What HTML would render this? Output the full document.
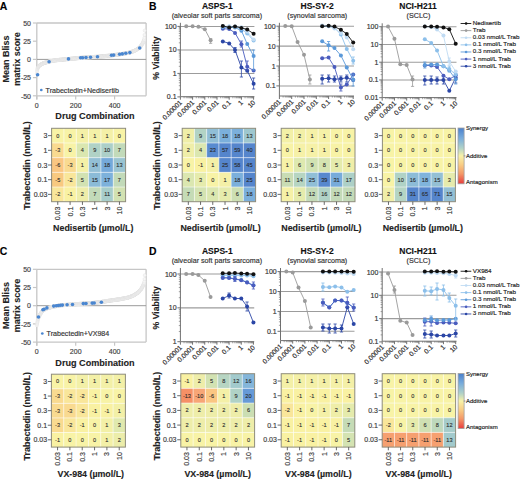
<!DOCTYPE html>
<html><head><meta charset="utf-8"><title>Figure</title>
<style>html,body{margin:0;padding:0;background:#fff;}body{width:520px;height:481px;overflow:hidden;font-family:"Liberation Sans", sans-serif;}svg{display:block;}</style></head>
<body>
<svg width="520" height="481" viewBox="0 0 520 481" font-family='"Liberation Sans", sans-serif'>
<rect x="0" y="0" width="520" height="481" fill="#ffffff" stroke="none" stroke-width="1"/>
<text x="-0.2" y="9.5" font-size="10.4" text-anchor="start" fill="#000" font-weight="bold" stroke="#000" stroke-width="0.12">A</text>
<text x="148.9" y="10" font-size="10.4" text-anchor="start" fill="#000" font-weight="bold" stroke="#000" stroke-width="0.12">B</text>
<text x="-0.2" y="254.7" font-size="10.4" text-anchor="start" fill="#000" font-weight="bold" stroke="#000" stroke-width="0.12">C</text>
<text x="148.9" y="255.2" font-size="10.4" text-anchor="start" fill="#000" font-weight="bold" stroke="#000" stroke-width="0.12">D</text>
<text x="217.3" y="9.2" font-size="8.5" text-anchor="middle" fill="#111" font-weight="bold" stroke="#111" stroke-width="0.12">ASPS-1</text>
<text x="216.9" y="17.8" font-size="7.15" text-anchor="middle" fill="#333" stroke="#333" stroke-width="0.16">(alveolar soft parts sarcoma)</text>
<text x="317.1" y="9.2" font-size="8.5" text-anchor="middle" fill="#111" font-weight="bold" stroke="#111" stroke-width="0.12">HS-SY-2</text>
<text x="317.3" y="17.8" font-size="7.15" text-anchor="middle" fill="#333" stroke="#333" stroke-width="0.16">(synovial sarcoma)</text>
<text x="418" y="9.2" font-size="8.5" text-anchor="middle" fill="#111" font-weight="bold" stroke="#111" stroke-width="0.12">NCI-H211</text>
<text x="418.5" y="17.8" font-size="7.15" text-anchor="middle" fill="#333" stroke="#333" stroke-width="0.16">(SCLC)</text>
<text x="217.3" y="254.2" font-size="8.5" text-anchor="middle" fill="#111" font-weight="bold" stroke="#111" stroke-width="0.12">ASPS-1</text>
<text x="216.9" y="262.8" font-size="7.15" text-anchor="middle" fill="#333" stroke="#333" stroke-width="0.16">(alveolar soft parts sarcoma)</text>
<text x="317.1" y="254.2" font-size="8.5" text-anchor="middle" fill="#111" font-weight="bold" stroke="#111" stroke-width="0.12">HS-SY-2</text>
<text x="317.3" y="262.8" font-size="7.15" text-anchor="middle" fill="#333" stroke="#333" stroke-width="0.16">(synovial sarcoma)</text>
<text x="418" y="254.2" font-size="8.5" text-anchor="middle" fill="#111" font-weight="bold" stroke="#111" stroke-width="0.12">NCI-H211</text>
<text x="418.5" y="262.8" font-size="7.15" text-anchor="middle" fill="#333" stroke="#333" stroke-width="0.16">(SCLC)</text>
<text x="9.4" y="58.9" font-size="9" text-anchor="middle" fill="#222" font-weight="bold" transform="rotate(-90 9.4 58.9)" stroke="#222" stroke-width="0.12">Mean Bliss</text>
<text x="20.3" y="58.9" font-size="9" text-anchor="middle" fill="#222" font-weight="bold" transform="rotate(-90 20.3 58.9)" stroke="#222" stroke-width="0.12">matrix score</text>
<text x="9.3" y="305.4" font-size="9" text-anchor="middle" fill="#222" font-weight="bold" transform="rotate(-90 9.3 305.4)" stroke="#222" stroke-width="0.12">Mean Bliss</text>
<text x="20.2" y="305.4" font-size="9" text-anchor="middle" fill="#222" font-weight="bold" transform="rotate(-90 20.2 305.4)" stroke="#222" stroke-width="0.12">matrix score</text>
<text x="158.9" y="58" font-size="8.7" text-anchor="middle" fill="#222" font-weight="bold" transform="rotate(-90 158.9 58)" stroke="#222" stroke-width="0.12">% Viability</text>
<text x="158.9" y="307.8" font-size="8.7" text-anchor="middle" fill="#222" font-weight="bold" transform="rotate(-90 158.9 307.8)" stroke="#222" stroke-width="0.12">% Viability</text>
<text x="95" y="119.4" font-size="9.1" text-anchor="middle" fill="#222" font-weight="bold" stroke="#222" stroke-width="0.12">Drug Combination</text>
<text x="95" y="366" font-size="9.1" text-anchor="middle" fill="#222" font-weight="bold" stroke="#222" stroke-width="0.12">Drug Combination</text>
<line x1="146.1" y1="23" x2="146.1" y2="95.8" stroke="#c6c6c6" stroke-width="1.3"/>
<line x1="36.8" y1="23" x2="146.1" y2="23" stroke="#c6c6c6" stroke-width="1.3"/>
<line x1="36.8" y1="23" x2="36.8" y2="99.4" stroke="#c6c6c6" stroke-width="1.3"/>
<line x1="36.8" y1="95.8" x2="146.1" y2="95.8" stroke="#c6c6c6" stroke-width="1.3"/>
<line x1="36.8" y1="59.4" x2="146.1" y2="59.4" stroke="#9a9a9a" stroke-width="1"/>
<line x1="32.9" y1="23" x2="36.8" y2="23" stroke="#c6c6c6" stroke-width="1.2"/>
<text x="31" y="25.75" font-size="7" text-anchor="end" fill="#444" stroke="#444" stroke-width="0.16">50</text>
<line x1="32.9" y1="41.2" x2="36.8" y2="41.2" stroke="#c6c6c6" stroke-width="1.2"/>
<text x="31" y="43.95" font-size="7" text-anchor="end" fill="#444" stroke="#444" stroke-width="0.16">25</text>
<line x1="32.9" y1="59.4" x2="36.8" y2="59.4" stroke="#c6c6c6" stroke-width="1.2"/>
<text x="31" y="62.15" font-size="7" text-anchor="end" fill="#444" stroke="#444" stroke-width="0.16">0</text>
<line x1="32.9" y1="77.6" x2="36.8" y2="77.6" stroke="#c6c6c6" stroke-width="1.2"/>
<text x="31" y="80.35" font-size="7" text-anchor="end" fill="#444" stroke="#444" stroke-width="0.16">-25</text>
<line x1="32.9" y1="95.8" x2="36.8" y2="95.8" stroke="#c6c6c6" stroke-width="1.2"/>
<text x="31" y="98.55" font-size="7" text-anchor="end" fill="#444" stroke="#444" stroke-width="0.16">-50</text>
<line x1="36.8" y1="95.8" x2="36.8" y2="99.4" stroke="#c6c6c6" stroke-width="1.2"/>
<text x="36.8" y="107.7" font-size="7" text-anchor="middle" fill="#444" stroke="#444" stroke-width="0.16">0</text>
<line x1="75.7" y1="95.8" x2="75.7" y2="99.4" stroke="#c6c6c6" stroke-width="1.2"/>
<text x="75.7" y="107.7" font-size="7" text-anchor="middle" fill="#444" stroke="#444" stroke-width="0.16">200</text>
<line x1="114.6" y1="95.8" x2="114.6" y2="99.4" stroke="#c6c6c6" stroke-width="1.2"/>
<text x="114.6" y="107.7" font-size="7" text-anchor="middle" fill="#444" stroke="#444" stroke-width="0.16">400</text>
<g fill="#f6f6f6" stroke="#dedede" stroke-width="0.4">
<circle cx="36.9" cy="73.5" r="1.55"/>
<circle cx="37.1" cy="71.14" r="1.55"/>
<circle cx="37.29" cy="69.77" r="1.55"/>
<circle cx="37.49" cy="68.84" r="1.55"/>
<circle cx="37.68" cy="68.14" r="1.55"/>
<circle cx="37.88" cy="67.77" r="1.55"/>
<circle cx="38.07" cy="67.4" r="1.55"/>
<circle cx="38.27" cy="67.04" r="1.55"/>
<circle cx="38.47" cy="66.67" r="1.55"/>
<circle cx="38.66" cy="66.44" r="1.55"/>
<circle cx="38.86" cy="66.24" r="1.55"/>
<circle cx="39.05" cy="66.05" r="1.55"/>
<circle cx="39.25" cy="65.85" r="1.55"/>
<circle cx="39.44" cy="65.66" r="1.55"/>
<circle cx="39.64" cy="65.46" r="1.55"/>
<circle cx="39.83" cy="65.27" r="1.55"/>
<circle cx="40.03" cy="65.08" r="1.55"/>
<circle cx="40.23" cy="64.96" r="1.55"/>
<circle cx="40.42" cy="64.85" r="1.55"/>
<circle cx="40.62" cy="64.73" r="1.55"/>
<circle cx="40.81" cy="64.61" r="1.55"/>
<circle cx="41.01" cy="64.49" r="1.55"/>
<circle cx="41.2" cy="64.38" r="1.55"/>
<circle cx="41.4" cy="64.26" r="1.55"/>
<circle cx="41.6" cy="64.14" r="1.55"/>
<circle cx="41.79" cy="64.03" r="1.55"/>
<circle cx="41.99" cy="63.91" r="1.55"/>
<circle cx="42.18" cy="63.83" r="1.55"/>
<circle cx="42.38" cy="63.75" r="1.55"/>
<circle cx="42.57" cy="63.67" r="1.55"/>
<circle cx="42.77" cy="63.59" r="1.55"/>
<circle cx="42.96" cy="63.51" r="1.55"/>
<circle cx="43.16" cy="63.44" r="1.55"/>
<circle cx="43.36" cy="63.36" r="1.55"/>
<circle cx="43.55" cy="63.28" r="1.55"/>
<circle cx="43.75" cy="63.2" r="1.55"/>
<circle cx="43.94" cy="63.12" r="1.55"/>
<circle cx="44.14" cy="63.04" r="1.55"/>
<circle cx="44.33" cy="62.97" r="1.55"/>
<circle cx="44.53" cy="62.89" r="1.55"/>
<circle cx="44.73" cy="62.81" r="1.55"/>
<circle cx="44.92" cy="62.73" r="1.55"/>
<circle cx="45.12" cy="62.67" r="1.55"/>
<circle cx="45.31" cy="62.62" r="1.55"/>
<circle cx="45.51" cy="62.56" r="1.55"/>
<circle cx="45.7" cy="62.51" r="1.55"/>
<circle cx="45.9" cy="62.46" r="1.55"/>
<circle cx="46.1" cy="62.41" r="1.55"/>
<circle cx="46.29" cy="62.36" r="1.55"/>
<circle cx="46.49" cy="62.3" r="1.55"/>
<circle cx="46.68" cy="62.25" r="1.55"/>
<circle cx="46.88" cy="62.2" r="1.55"/>
<circle cx="47.07" cy="62.15" r="1.55"/>
<circle cx="47.27" cy="62.09" r="1.55"/>
<circle cx="47.46" cy="62.04" r="1.55"/>
<circle cx="47.66" cy="61.99" r="1.55"/>
<circle cx="47.86" cy="61.94" r="1.55"/>
<circle cx="48.05" cy="61.88" r="1.55"/>
<circle cx="48.25" cy="61.83" r="1.55"/>
<circle cx="48.44" cy="61.77" r="1.55"/>
<circle cx="48.64" cy="61.71" r="1.55"/>
<circle cx="48.83" cy="61.65" r="1.55"/>
<circle cx="49.03" cy="61.59" r="1.55"/>
<circle cx="49.23" cy="61.53" r="1.55"/>
<circle cx="49.42" cy="61.47" r="1.55"/>
<circle cx="49.62" cy="61.41" r="1.55"/>
<circle cx="49.81" cy="61.36" r="1.55"/>
<circle cx="50.01" cy="61.3" r="1.55"/>
<circle cx="50.2" cy="61.26" r="1.55"/>
<circle cx="50.4" cy="61.23" r="1.55"/>
<circle cx="50.6" cy="61.19" r="1.55"/>
<circle cx="50.79" cy="61.16" r="1.55"/>
<circle cx="50.99" cy="61.12" r="1.55"/>
<circle cx="51.18" cy="61.09" r="1.55"/>
<circle cx="51.38" cy="61.05" r="1.55"/>
<circle cx="51.57" cy="61.02" r="1.55"/>
<circle cx="51.77" cy="60.98" r="1.55"/>
<circle cx="51.96" cy="60.95" r="1.55"/>
<circle cx="52.16" cy="60.91" r="1.55"/>
<circle cx="52.36" cy="60.88" r="1.55"/>
<circle cx="52.55" cy="60.84" r="1.55"/>
<circle cx="52.75" cy="60.81" r="1.55"/>
<circle cx="52.94" cy="60.77" r="1.55"/>
<circle cx="53.14" cy="60.74" r="1.55"/>
<circle cx="53.33" cy="60.7" r="1.55"/>
<circle cx="53.53" cy="60.66" r="1.55"/>
<circle cx="53.73" cy="60.63" r="1.55"/>
<circle cx="53.92" cy="60.59" r="1.55"/>
<circle cx="54.12" cy="60.56" r="1.55"/>
<circle cx="54.31" cy="60.52" r="1.55"/>
<circle cx="54.51" cy="60.49" r="1.55"/>
<circle cx="54.7" cy="60.45" r="1.55"/>
<circle cx="54.9" cy="60.42" r="1.55"/>
<circle cx="55.09" cy="60.39" r="1.55"/>
<circle cx="55.29" cy="60.37" r="1.55"/>
<circle cx="55.49" cy="60.34" r="1.55"/>
<circle cx="55.68" cy="60.32" r="1.55"/>
<circle cx="55.88" cy="60.29" r="1.55"/>
<circle cx="56.07" cy="60.27" r="1.55"/>
<circle cx="56.27" cy="60.25" r="1.55"/>
<circle cx="56.46" cy="60.22" r="1.55"/>
<circle cx="56.66" cy="60.2" r="1.55"/>
<circle cx="56.86" cy="60.18" r="1.55"/>
<circle cx="57.05" cy="60.15" r="1.55"/>
<circle cx="57.25" cy="60.13" r="1.55"/>
<circle cx="57.44" cy="60.11" r="1.55"/>
<circle cx="57.64" cy="60.08" r="1.55"/>
<circle cx="57.83" cy="60.06" r="1.55"/>
<circle cx="58.03" cy="60.04" r="1.55"/>
<circle cx="58.23" cy="60.01" r="1.55"/>
<circle cx="58.42" cy="59.99" r="1.55"/>
<circle cx="58.62" cy="59.97" r="1.55"/>
<circle cx="58.81" cy="59.94" r="1.55"/>
<circle cx="59.01" cy="59.92" r="1.55"/>
<circle cx="59.2" cy="59.9" r="1.55"/>
<circle cx="59.4" cy="59.87" r="1.55"/>
<circle cx="59.59" cy="59.85" r="1.55"/>
<circle cx="59.79" cy="59.83" r="1.55"/>
<circle cx="59.99" cy="59.8" r="1.55"/>
<circle cx="60.18" cy="59.78" r="1.55"/>
<circle cx="60.38" cy="59.77" r="1.55"/>
<circle cx="60.57" cy="59.75" r="1.55"/>
<circle cx="60.77" cy="59.73" r="1.55"/>
<circle cx="60.96" cy="59.71" r="1.55"/>
<circle cx="61.16" cy="59.7" r="1.55"/>
<circle cx="61.36" cy="59.68" r="1.55"/>
<circle cx="61.55" cy="59.66" r="1.55"/>
<circle cx="61.75" cy="59.64" r="1.55"/>
<circle cx="61.94" cy="59.63" r="1.55"/>
<circle cx="62.14" cy="59.61" r="1.55"/>
<circle cx="62.33" cy="59.59" r="1.55"/>
<circle cx="62.53" cy="59.57" r="1.55"/>
<circle cx="62.73" cy="59.55" r="1.55"/>
<circle cx="62.92" cy="59.54" r="1.55"/>
<circle cx="63.12" cy="59.52" r="1.55"/>
<circle cx="63.31" cy="59.5" r="1.55"/>
<circle cx="63.51" cy="59.48" r="1.55"/>
<circle cx="63.7" cy="59.47" r="1.55"/>
<circle cx="63.9" cy="59.45" r="1.55"/>
<circle cx="64.09" cy="59.43" r="1.55"/>
<circle cx="64.29" cy="59.41" r="1.55"/>
<circle cx="64.49" cy="59.4" r="1.55"/>
<circle cx="64.68" cy="59.38" r="1.55"/>
<circle cx="64.88" cy="59.36" r="1.55"/>
<circle cx="65.07" cy="59.34" r="1.55"/>
<circle cx="65.27" cy="59.33" r="1.55"/>
<circle cx="65.46" cy="59.31" r="1.55"/>
<circle cx="65.66" cy="59.29" r="1.55"/>
<circle cx="65.86" cy="59.27" r="1.55"/>
<circle cx="66.05" cy="59.26" r="1.55"/>
<circle cx="66.25" cy="59.24" r="1.55"/>
<circle cx="66.44" cy="59.22" r="1.55"/>
<circle cx="66.64" cy="59.2" r="1.55"/>
<circle cx="66.83" cy="59.18" r="1.55"/>
<circle cx="67.03" cy="59.17" r="1.55"/>
<circle cx="67.22" cy="59.15" r="1.55"/>
<circle cx="67.42" cy="59.13" r="1.55"/>
<circle cx="67.62" cy="59.11" r="1.55"/>
<circle cx="67.81" cy="59.1" r="1.55"/>
<circle cx="68.01" cy="59.08" r="1.55"/>
<circle cx="68.2" cy="59.06" r="1.55"/>
<circle cx="68.4" cy="59.04" r="1.55"/>
<circle cx="68.59" cy="59.03" r="1.55"/>
<circle cx="68.79" cy="59.01" r="1.55"/>
<circle cx="68.99" cy="58.99" r="1.55"/>
<circle cx="69.18" cy="58.97" r="1.55"/>
<circle cx="69.38" cy="58.96" r="1.55"/>
<circle cx="69.57" cy="58.94" r="1.55"/>
<circle cx="69.77" cy="58.92" r="1.55"/>
<circle cx="69.96" cy="58.9" r="1.55"/>
<circle cx="70.16" cy="58.88" r="1.55"/>
<circle cx="70.36" cy="58.86" r="1.55"/>
<circle cx="70.55" cy="58.84" r="1.55"/>
<circle cx="70.75" cy="58.83" r="1.55"/>
<circle cx="70.94" cy="58.81" r="1.55"/>
<circle cx="71.14" cy="58.79" r="1.55"/>
<circle cx="71.33" cy="58.77" r="1.55"/>
<circle cx="71.53" cy="58.75" r="1.55"/>
<circle cx="71.72" cy="58.73" r="1.55"/>
<circle cx="71.92" cy="58.71" r="1.55"/>
<circle cx="72.12" cy="58.69" r="1.55"/>
<circle cx="72.31" cy="58.67" r="1.55"/>
<circle cx="72.51" cy="58.65" r="1.55"/>
<circle cx="72.7" cy="58.63" r="1.55"/>
<circle cx="72.9" cy="58.61" r="1.55"/>
<circle cx="73.09" cy="58.59" r="1.55"/>
<circle cx="73.29" cy="58.57" r="1.55"/>
<circle cx="73.49" cy="58.55" r="1.55"/>
<circle cx="73.68" cy="58.53" r="1.55"/>
<circle cx="73.88" cy="58.51" r="1.55"/>
<circle cx="74.07" cy="58.49" r="1.55"/>
<circle cx="74.27" cy="58.47" r="1.55"/>
<circle cx="74.46" cy="58.45" r="1.55"/>
<circle cx="74.66" cy="58.43" r="1.55"/>
<circle cx="74.85" cy="58.41" r="1.55"/>
<circle cx="75.05" cy="58.39" r="1.55"/>
<circle cx="75.25" cy="58.38" r="1.55"/>
<circle cx="75.44" cy="58.36" r="1.55"/>
<circle cx="75.64" cy="58.34" r="1.55"/>
<circle cx="75.83" cy="58.32" r="1.55"/>
<circle cx="76.03" cy="58.3" r="1.55"/>
<circle cx="76.22" cy="58.28" r="1.55"/>
<circle cx="76.42" cy="58.26" r="1.55"/>
<circle cx="76.62" cy="58.24" r="1.55"/>
<circle cx="76.81" cy="58.22" r="1.55"/>
<circle cx="77.01" cy="58.2" r="1.55"/>
<circle cx="77.2" cy="58.18" r="1.55"/>
<circle cx="77.4" cy="58.16" r="1.55"/>
<circle cx="77.59" cy="58.14" r="1.55"/>
<circle cx="77.79" cy="58.12" r="1.55"/>
<circle cx="77.99" cy="58.1" r="1.55"/>
<circle cx="78.18" cy="58.08" r="1.55"/>
<circle cx="78.38" cy="58.06" r="1.55"/>
<circle cx="78.57" cy="58.04" r="1.55"/>
<circle cx="78.77" cy="58.02" r="1.55"/>
<circle cx="78.96" cy="58" r="1.55"/>
<circle cx="79.16" cy="57.98" r="1.55"/>
<circle cx="79.35" cy="57.96" r="1.55"/>
<circle cx="79.55" cy="57.94" r="1.55"/>
<circle cx="79.75" cy="57.93" r="1.55"/>
<circle cx="79.94" cy="57.91" r="1.55"/>
<circle cx="80.14" cy="57.89" r="1.55"/>
<circle cx="80.33" cy="57.88" r="1.55"/>
<circle cx="80.53" cy="57.86" r="1.55"/>
<circle cx="80.72" cy="57.85" r="1.55"/>
<circle cx="80.92" cy="57.84" r="1.55"/>
<circle cx="81.12" cy="57.82" r="1.55"/>
<circle cx="81.31" cy="57.81" r="1.55"/>
<circle cx="81.51" cy="57.79" r="1.55"/>
<circle cx="81.7" cy="57.78" r="1.55"/>
<circle cx="81.9" cy="57.77" r="1.55"/>
<circle cx="82.09" cy="57.75" r="1.55"/>
<circle cx="82.29" cy="57.74" r="1.55"/>
<circle cx="82.49" cy="57.73" r="1.55"/>
<circle cx="82.68" cy="57.71" r="1.55"/>
<circle cx="82.88" cy="57.7" r="1.55"/>
<circle cx="83.07" cy="57.68" r="1.55"/>
<circle cx="83.27" cy="57.67" r="1.55"/>
<circle cx="83.46" cy="57.66" r="1.55"/>
<circle cx="83.66" cy="57.64" r="1.55"/>
<circle cx="83.85" cy="57.63" r="1.55"/>
<circle cx="84.05" cy="57.62" r="1.55"/>
<circle cx="84.25" cy="57.6" r="1.55"/>
<circle cx="84.44" cy="57.59" r="1.55"/>
<circle cx="84.64" cy="57.58" r="1.55"/>
<circle cx="84.83" cy="57.56" r="1.55"/>
<circle cx="85.03" cy="57.55" r="1.55"/>
<circle cx="85.22" cy="57.53" r="1.55"/>
<circle cx="85.42" cy="57.52" r="1.55"/>
<circle cx="85.62" cy="57.51" r="1.55"/>
<circle cx="85.81" cy="57.49" r="1.55"/>
<circle cx="86.01" cy="57.48" r="1.55"/>
<circle cx="86.2" cy="57.47" r="1.55"/>
<circle cx="86.4" cy="57.45" r="1.55"/>
<circle cx="86.59" cy="57.44" r="1.55"/>
<circle cx="86.79" cy="57.42" r="1.55"/>
<circle cx="86.98" cy="57.41" r="1.55"/>
<circle cx="87.18" cy="57.4" r="1.55"/>
<circle cx="87.38" cy="57.38" r="1.55"/>
<circle cx="87.57" cy="57.37" r="1.55"/>
<circle cx="87.77" cy="57.36" r="1.55"/>
<circle cx="87.96" cy="57.34" r="1.55"/>
<circle cx="88.16" cy="57.33" r="1.55"/>
<circle cx="88.35" cy="57.32" r="1.55"/>
<circle cx="88.55" cy="57.3" r="1.55"/>
<circle cx="88.75" cy="57.29" r="1.55"/>
<circle cx="88.94" cy="57.27" r="1.55"/>
<circle cx="89.14" cy="57.26" r="1.55"/>
<circle cx="89.33" cy="57.25" r="1.55"/>
<circle cx="89.53" cy="57.23" r="1.55"/>
<circle cx="89.72" cy="57.22" r="1.55"/>
<circle cx="89.92" cy="57.21" r="1.55"/>
<circle cx="90.12" cy="57.19" r="1.55"/>
<circle cx="90.31" cy="57.18" r="1.55"/>
<circle cx="90.51" cy="57.17" r="1.55"/>
<circle cx="90.7" cy="57.16" r="1.55"/>
<circle cx="90.9" cy="57.15" r="1.55"/>
<circle cx="91.09" cy="57.13" r="1.55"/>
<circle cx="91.29" cy="57.12" r="1.55"/>
<circle cx="91.48" cy="57.11" r="1.55"/>
<circle cx="91.68" cy="57.1" r="1.55"/>
<circle cx="91.88" cy="57.09" r="1.55"/>
<circle cx="92.07" cy="57.08" r="1.55"/>
<circle cx="92.27" cy="57.06" r="1.55"/>
<circle cx="92.46" cy="57.05" r="1.55"/>
<circle cx="92.66" cy="57.04" r="1.55"/>
<circle cx="92.85" cy="57.03" r="1.55"/>
<circle cx="93.05" cy="57.02" r="1.55"/>
<circle cx="93.25" cy="57.01" r="1.55"/>
<circle cx="93.44" cy="56.99" r="1.55"/>
<circle cx="93.64" cy="56.98" r="1.55"/>
<circle cx="93.83" cy="56.97" r="1.55"/>
<circle cx="94.03" cy="56.96" r="1.55"/>
<circle cx="94.22" cy="56.95" r="1.55"/>
<circle cx="94.42" cy="56.93" r="1.55"/>
<circle cx="94.62" cy="56.92" r="1.55"/>
<circle cx="94.81" cy="56.91" r="1.55"/>
<circle cx="95.01" cy="56.9" r="1.55"/>
<circle cx="95.2" cy="56.89" r="1.55"/>
<circle cx="95.4" cy="56.88" r="1.55"/>
<circle cx="95.59" cy="56.86" r="1.55"/>
<circle cx="95.79" cy="56.85" r="1.55"/>
<circle cx="95.98" cy="56.84" r="1.55"/>
<circle cx="96.18" cy="56.83" r="1.55"/>
<circle cx="96.38" cy="56.82" r="1.55"/>
<circle cx="96.57" cy="56.81" r="1.55"/>
<circle cx="96.77" cy="56.79" r="1.55"/>
<circle cx="96.96" cy="56.78" r="1.55"/>
<circle cx="97.16" cy="56.77" r="1.55"/>
<circle cx="97.35" cy="56.76" r="1.55"/>
<circle cx="97.55" cy="56.75" r="1.55"/>
<circle cx="97.75" cy="56.74" r="1.55"/>
<circle cx="97.94" cy="56.72" r="1.55"/>
<circle cx="98.14" cy="56.71" r="1.55"/>
<circle cx="98.33" cy="56.7" r="1.55"/>
<circle cx="98.53" cy="56.69" r="1.55"/>
<circle cx="98.72" cy="56.68" r="1.55"/>
<circle cx="98.92" cy="56.66" r="1.55"/>
<circle cx="99.11" cy="56.65" r="1.55"/>
<circle cx="99.31" cy="56.64" r="1.55"/>
<circle cx="99.51" cy="56.63" r="1.55"/>
<circle cx="99.7" cy="56.62" r="1.55"/>
<circle cx="99.9" cy="56.61" r="1.55"/>
<circle cx="100.09" cy="56.59" r="1.55"/>
<circle cx="100.29" cy="56.57" r="1.55"/>
<circle cx="100.48" cy="56.55" r="1.55"/>
<circle cx="100.68" cy="56.53" r="1.55"/>
<circle cx="100.88" cy="56.51" r="1.55"/>
<circle cx="101.07" cy="56.49" r="1.55"/>
<circle cx="101.27" cy="56.47" r="1.55"/>
<circle cx="101.46" cy="56.45" r="1.55"/>
<circle cx="101.66" cy="56.43" r="1.55"/>
<circle cx="101.85" cy="56.41" r="1.55"/>
<circle cx="102.05" cy="56.4" r="1.55"/>
<circle cx="102.25" cy="56.38" r="1.55"/>
<circle cx="102.44" cy="56.36" r="1.55"/>
<circle cx="102.64" cy="56.34" r="1.55"/>
<circle cx="102.83" cy="56.32" r="1.55"/>
<circle cx="103.03" cy="56.3" r="1.55"/>
<circle cx="103.22" cy="56.28" r="1.55"/>
<circle cx="103.42" cy="56.26" r="1.55"/>
<circle cx="103.61" cy="56.24" r="1.55"/>
<circle cx="103.81" cy="56.22" r="1.55"/>
<circle cx="104.01" cy="56.2" r="1.55"/>
<circle cx="104.2" cy="56.18" r="1.55"/>
<circle cx="104.4" cy="56.16" r="1.55"/>
<circle cx="104.59" cy="56.14" r="1.55"/>
<circle cx="104.79" cy="56.12" r="1.55"/>
<circle cx="104.98" cy="56.1" r="1.55"/>
<circle cx="105.18" cy="56.08" r="1.55"/>
<circle cx="105.38" cy="56.06" r="1.55"/>
<circle cx="105.57" cy="56.04" r="1.55"/>
<circle cx="105.77" cy="56.02" r="1.55"/>
<circle cx="105.96" cy="56" r="1.55"/>
<circle cx="106.16" cy="55.98" r="1.55"/>
<circle cx="106.35" cy="55.96" r="1.55"/>
<circle cx="106.55" cy="55.95" r="1.55"/>
<circle cx="106.75" cy="55.93" r="1.55"/>
<circle cx="106.94" cy="55.91" r="1.55"/>
<circle cx="107.14" cy="55.89" r="1.55"/>
<circle cx="107.33" cy="55.87" r="1.55"/>
<circle cx="107.53" cy="55.85" r="1.55"/>
<circle cx="107.72" cy="55.83" r="1.55"/>
<circle cx="107.92" cy="55.81" r="1.55"/>
<circle cx="108.11" cy="55.79" r="1.55"/>
<circle cx="108.31" cy="55.77" r="1.55"/>
<circle cx="108.51" cy="55.75" r="1.55"/>
<circle cx="108.7" cy="55.73" r="1.55"/>
<circle cx="108.9" cy="55.71" r="1.55"/>
<circle cx="109.09" cy="55.69" r="1.55"/>
<circle cx="109.29" cy="55.67" r="1.55"/>
<circle cx="109.48" cy="55.65" r="1.55"/>
<circle cx="109.68" cy="55.63" r="1.55"/>
<circle cx="109.88" cy="55.61" r="1.55"/>
<circle cx="110.07" cy="55.59" r="1.55"/>
<circle cx="110.27" cy="55.57" r="1.55"/>
<circle cx="110.46" cy="55.54" r="1.55"/>
<circle cx="110.66" cy="55.51" r="1.55"/>
<circle cx="110.85" cy="55.49" r="1.55"/>
<circle cx="111.05" cy="55.46" r="1.55"/>
<circle cx="111.24" cy="55.44" r="1.55"/>
<circle cx="111.44" cy="55.41" r="1.55"/>
<circle cx="111.64" cy="55.39" r="1.55"/>
<circle cx="111.83" cy="55.36" r="1.55"/>
<circle cx="112.03" cy="55.34" r="1.55"/>
<circle cx="112.22" cy="55.31" r="1.55"/>
<circle cx="112.42" cy="55.29" r="1.55"/>
<circle cx="112.61" cy="55.26" r="1.55"/>
<circle cx="112.81" cy="55.23" r="1.55"/>
<circle cx="113.01" cy="55.21" r="1.55"/>
<circle cx="113.2" cy="55.18" r="1.55"/>
<circle cx="113.4" cy="55.16" r="1.55"/>
<circle cx="113.59" cy="55.13" r="1.55"/>
<circle cx="113.79" cy="55.11" r="1.55"/>
<circle cx="113.98" cy="55.08" r="1.55"/>
<circle cx="114.18" cy="55.06" r="1.55"/>
<circle cx="114.38" cy="55.03" r="1.55"/>
<circle cx="114.57" cy="55.01" r="1.55"/>
<circle cx="114.77" cy="54.98" r="1.55"/>
<circle cx="114.96" cy="54.95" r="1.55"/>
<circle cx="115.16" cy="54.93" r="1.55"/>
<circle cx="115.35" cy="54.9" r="1.55"/>
<circle cx="115.55" cy="54.88" r="1.55"/>
<circle cx="115.74" cy="54.85" r="1.55"/>
<circle cx="115.94" cy="54.83" r="1.55"/>
<circle cx="116.14" cy="54.8" r="1.55"/>
<circle cx="116.33" cy="54.78" r="1.55"/>
<circle cx="116.53" cy="54.75" r="1.55"/>
<circle cx="116.72" cy="54.73" r="1.55"/>
<circle cx="116.92" cy="54.7" r="1.55"/>
<circle cx="117.11" cy="54.68" r="1.55"/>
<circle cx="117.31" cy="54.65" r="1.55"/>
<circle cx="117.51" cy="54.62" r="1.55"/>
<circle cx="117.7" cy="54.6" r="1.55"/>
<circle cx="117.9" cy="54.57" r="1.55"/>
<circle cx="118.09" cy="54.55" r="1.55"/>
<circle cx="118.29" cy="54.52" r="1.55"/>
<circle cx="118.48" cy="54.5" r="1.55"/>
<circle cx="118.68" cy="54.47" r="1.55"/>
<circle cx="118.87" cy="54.45" r="1.55"/>
<circle cx="119.07" cy="54.42" r="1.55"/>
<circle cx="119.27" cy="54.4" r="1.55"/>
<circle cx="119.46" cy="54.37" r="1.55"/>
<circle cx="119.66" cy="54.34" r="1.55"/>
<circle cx="119.85" cy="54.32" r="1.55"/>
<circle cx="120.05" cy="54.29" r="1.55"/>
<circle cx="120.24" cy="54.26" r="1.55"/>
<circle cx="120.44" cy="54.23" r="1.55"/>
<circle cx="120.64" cy="54.19" r="1.55"/>
<circle cx="120.83" cy="54.16" r="1.55"/>
<circle cx="121.03" cy="54.13" r="1.55"/>
<circle cx="121.22" cy="54.1" r="1.55"/>
<circle cx="121.42" cy="54.06" r="1.55"/>
<circle cx="121.61" cy="54.03" r="1.55"/>
<circle cx="121.81" cy="54" r="1.55"/>
<circle cx="122.01" cy="53.97" r="1.55"/>
<circle cx="122.2" cy="53.93" r="1.55"/>
<circle cx="122.4" cy="53.9" r="1.55"/>
<circle cx="122.59" cy="53.87" r="1.55"/>
<circle cx="122.79" cy="53.84" r="1.55"/>
<circle cx="122.98" cy="53.8" r="1.55"/>
<circle cx="123.18" cy="53.77" r="1.55"/>
<circle cx="123.37" cy="53.74" r="1.55"/>
<circle cx="123.57" cy="53.7" r="1.55"/>
<circle cx="123.77" cy="53.67" r="1.55"/>
<circle cx="123.96" cy="53.64" r="1.55"/>
<circle cx="124.16" cy="53.61" r="1.55"/>
<circle cx="124.35" cy="53.57" r="1.55"/>
<circle cx="124.55" cy="53.54" r="1.55"/>
<circle cx="124.74" cy="53.51" r="1.55"/>
<circle cx="124.94" cy="53.48" r="1.55"/>
<circle cx="125.14" cy="53.44" r="1.55"/>
<circle cx="125.33" cy="53.41" r="1.55"/>
<circle cx="125.53" cy="53.38" r="1.55"/>
<circle cx="125.72" cy="53.35" r="1.55"/>
<circle cx="125.92" cy="53.31" r="1.55"/>
<circle cx="126.11" cy="53.28" r="1.55"/>
<circle cx="126.31" cy="53.24" r="1.55"/>
<circle cx="126.51" cy="53.2" r="1.55"/>
<circle cx="126.7" cy="53.16" r="1.55"/>
<circle cx="126.9" cy="53.12" r="1.55"/>
<circle cx="127.09" cy="53.08" r="1.55"/>
<circle cx="127.29" cy="53.04" r="1.55"/>
<circle cx="127.48" cy="53" r="1.55"/>
<circle cx="127.68" cy="52.96" r="1.55"/>
<circle cx="127.87" cy="52.93" r="1.55"/>
<circle cx="128.07" cy="52.89" r="1.55"/>
<circle cx="128.27" cy="52.85" r="1.55"/>
<circle cx="128.46" cy="52.81" r="1.55"/>
<circle cx="128.66" cy="52.77" r="1.55"/>
<circle cx="128.85" cy="52.73" r="1.55"/>
<circle cx="129.05" cy="52.69" r="1.55"/>
<circle cx="129.24" cy="52.65" r="1.55"/>
<circle cx="129.44" cy="52.61" r="1.55"/>
<circle cx="129.64" cy="52.57" r="1.55"/>
<circle cx="129.83" cy="52.53" r="1.55"/>
<circle cx="130.03" cy="52.49" r="1.55"/>
<circle cx="130.22" cy="52.42" r="1.55"/>
<circle cx="130.42" cy="52.34" r="1.55"/>
<circle cx="130.61" cy="52.27" r="1.55"/>
<circle cx="130.81" cy="52.19" r="1.55"/>
<circle cx="131" cy="52.12" r="1.55"/>
<circle cx="131.2" cy="52.04" r="1.55"/>
<circle cx="131.4" cy="51.97" r="1.55"/>
<circle cx="131.59" cy="51.9" r="1.55"/>
<circle cx="131.79" cy="51.82" r="1.55"/>
<circle cx="131.98" cy="51.75" r="1.55"/>
<circle cx="132.18" cy="51.67" r="1.55"/>
<circle cx="132.37" cy="51.6" r="1.55"/>
<circle cx="132.57" cy="51.52" r="1.55"/>
<circle cx="132.77" cy="51.45" r="1.55"/>
<circle cx="132.96" cy="51.37" r="1.55"/>
<circle cx="133.16" cy="51.3" r="1.55"/>
<circle cx="133.35" cy="51.23" r="1.55"/>
<circle cx="133.55" cy="51.15" r="1.55"/>
<circle cx="133.74" cy="51.08" r="1.55"/>
<circle cx="133.94" cy="51" r="1.55"/>
<circle cx="134.14" cy="50.93" r="1.55"/>
<circle cx="134.33" cy="50.85" r="1.55"/>
<circle cx="134.53" cy="50.78" r="1.55"/>
<circle cx="134.72" cy="50.71" r="1.55"/>
<circle cx="134.92" cy="50.63" r="1.55"/>
<circle cx="135.11" cy="50.53" r="1.55"/>
<circle cx="135.31" cy="50.41" r="1.55"/>
<circle cx="135.5" cy="50.29" r="1.55"/>
<circle cx="135.7" cy="50.16" r="1.55"/>
<circle cx="135.9" cy="50.04" r="1.55"/>
<circle cx="136.09" cy="49.92" r="1.55"/>
<circle cx="136.29" cy="49.8" r="1.55"/>
<circle cx="136.48" cy="49.68" r="1.55"/>
<circle cx="136.68" cy="49.56" r="1.55"/>
<circle cx="136.87" cy="49.43" r="1.55"/>
<circle cx="137.07" cy="49.31" r="1.55"/>
<circle cx="137.27" cy="49.19" r="1.55"/>
<circle cx="137.46" cy="49.07" r="1.55"/>
<circle cx="137.66" cy="48.95" r="1.55"/>
<circle cx="137.85" cy="48.83" r="1.55"/>
<circle cx="138.05" cy="48.7" r="1.55"/>
<circle cx="138.24" cy="48.58" r="1.55"/>
<circle cx="138.44" cy="48.46" r="1.55"/>
<circle cx="138.64" cy="48.34" r="1.55"/>
<circle cx="138.83" cy="48.22" r="1.55"/>
<circle cx="139.03" cy="48.09" r="1.55"/>
<circle cx="139.22" cy="47.97" r="1.55"/>
<circle cx="139.42" cy="47.85" r="1.55"/>
<circle cx="139.61" cy="47.66" r="1.55"/>
<circle cx="139.81" cy="47.4" r="1.55"/>
<circle cx="140" cy="47.15" r="1.55"/>
<circle cx="140.2" cy="46.9" r="1.55"/>
<circle cx="140.4" cy="46.65" r="1.55"/>
<circle cx="140.59" cy="46.4" r="1.55"/>
<circle cx="140.79" cy="46.15" r="1.55"/>
<circle cx="140.98" cy="45.9" r="1.55"/>
<circle cx="141.18" cy="45.65" r="1.55"/>
<circle cx="141.37" cy="45.4" r="1.55"/>
<circle cx="141.57" cy="45.15" r="1.55"/>
<circle cx="141.77" cy="44.9" r="1.55"/>
<circle cx="141.96" cy="44.65" r="1.55"/>
<circle cx="142.16" cy="44.29" r="1.55"/>
<circle cx="142.35" cy="43.9" r="1.55"/>
<circle cx="142.55" cy="43.5" r="1.55"/>
<circle cx="142.74" cy="43.11" r="1.55"/>
<circle cx="142.94" cy="42.72" r="1.55"/>
<circle cx="143.13" cy="42.33" r="1.55"/>
<circle cx="143.33" cy="41.94" r="1.55"/>
<circle cx="143.53" cy="41.51" r="1.55"/>
<circle cx="143.72" cy="40.84" r="1.55"/>
<circle cx="143.92" cy="40.17" r="1.55"/>
<circle cx="144.11" cy="39.5" r="1.55"/>
<circle cx="144.31" cy="37.81" r="1.55"/>
<circle cx="144.5" cy="34.91" r="1.55"/>
<circle cx="144.7" cy="30.6" r="1.55"/>
</g>
<circle cx="37.6" cy="74.8" r="1.8" fill="#4a86d0"/>
<circle cx="49.1" cy="61.7" r="1.8" fill="#4a86d0"/>
<circle cx="68.5" cy="58.9" r="1.8" fill="#4a86d0"/>
<circle cx="80.6" cy="57.8" r="1.8" fill="#4a86d0"/>
<circle cx="82.6" cy="57.7" r="1.8" fill="#4a86d0"/>
<circle cx="86" cy="57.5" r="1.8" fill="#4a86d0"/>
<circle cx="90.5" cy="57.2" r="1.8" fill="#4a86d0"/>
<circle cx="97.5" cy="56.7" r="1.8" fill="#4a86d0"/>
<circle cx="111.5" cy="55.3" r="1.8" fill="#4a86d0"/>
<circle cx="113.7" cy="55.1" r="1.8" fill="#4a86d0"/>
<circle cx="119.6" cy="54.3" r="1.8" fill="#4a86d0"/>
<circle cx="122.3" cy="53.9" r="1.8" fill="#4a86d0"/>
<circle cx="125.8" cy="53.3" r="1.8" fill="#4a86d0"/>
<circle cx="129.9" cy="52.6" r="1.8" fill="#4a86d0"/>
<circle cx="139.7" cy="48" r="1.8" fill="#4a86d0"/>
<circle cx="41.3" cy="90" r="1.35" fill="#4a86d0"/>
<text x="45.6" y="92.5" font-size="7.1" text-anchor="start" fill="#333" stroke="#333" stroke-width="0.16">Trabectedin+Nedisertib</text>
<line x1="146.1" y1="269.3" x2="146.1" y2="342.1" stroke="#c6c6c6" stroke-width="1.3"/>
<line x1="36.8" y1="269.3" x2="146.1" y2="269.3" stroke="#c6c6c6" stroke-width="1.3"/>
<line x1="36.8" y1="269.3" x2="36.8" y2="345.7" stroke="#c6c6c6" stroke-width="1.3"/>
<line x1="36.8" y1="342.1" x2="146.1" y2="342.1" stroke="#c6c6c6" stroke-width="1.3"/>
<line x1="36.8" y1="305.7" x2="146.1" y2="305.7" stroke="#9a9a9a" stroke-width="1"/>
<line x1="32.9" y1="269.3" x2="36.8" y2="269.3" stroke="#c6c6c6" stroke-width="1.2"/>
<text x="31" y="272.05" font-size="7" text-anchor="end" fill="#444" stroke="#444" stroke-width="0.16">50</text>
<line x1="32.9" y1="287.5" x2="36.8" y2="287.5" stroke="#c6c6c6" stroke-width="1.2"/>
<text x="31" y="290.25" font-size="7" text-anchor="end" fill="#444" stroke="#444" stroke-width="0.16">25</text>
<line x1="32.9" y1="305.7" x2="36.8" y2="305.7" stroke="#c6c6c6" stroke-width="1.2"/>
<text x="31" y="308.45" font-size="7" text-anchor="end" fill="#444" stroke="#444" stroke-width="0.16">0</text>
<line x1="32.9" y1="323.9" x2="36.8" y2="323.9" stroke="#c6c6c6" stroke-width="1.2"/>
<text x="31" y="326.65" font-size="7" text-anchor="end" fill="#444" stroke="#444" stroke-width="0.16">-25</text>
<line x1="32.9" y1="342.1" x2="36.8" y2="342.1" stroke="#c6c6c6" stroke-width="1.2"/>
<text x="31" y="344.85" font-size="7" text-anchor="end" fill="#444" stroke="#444" stroke-width="0.16">-50</text>
<line x1="36.8" y1="342.1" x2="36.8" y2="345.7" stroke="#c6c6c6" stroke-width="1.2"/>
<text x="36.8" y="354" font-size="7" text-anchor="middle" fill="#444" stroke="#444" stroke-width="0.16">0</text>
<line x1="75.7" y1="342.1" x2="75.7" y2="345.7" stroke="#c6c6c6" stroke-width="1.2"/>
<text x="75.7" y="354" font-size="7" text-anchor="middle" fill="#444" stroke="#444" stroke-width="0.16">200</text>
<line x1="114.6" y1="342.1" x2="114.6" y2="345.7" stroke="#c6c6c6" stroke-width="1.2"/>
<text x="114.6" y="354" font-size="7" text-anchor="middle" fill="#444" stroke="#444" stroke-width="0.16">400</text>
<g fill="#f6f6f6" stroke="#dedede" stroke-width="0.4">
<circle cx="36.9" cy="325.5" r="1.55"/>
<circle cx="37.1" cy="323.84" r="1.55"/>
<circle cx="37.29" cy="322.65" r="1.55"/>
<circle cx="37.49" cy="321.57" r="1.55"/>
<circle cx="37.68" cy="320.59" r="1.55"/>
<circle cx="37.88" cy="319.75" r="1.55"/>
<circle cx="38.07" cy="319.11" r="1.55"/>
<circle cx="38.27" cy="318.47" r="1.55"/>
<circle cx="38.47" cy="317.84" r="1.55"/>
<circle cx="38.66" cy="317.27" r="1.55"/>
<circle cx="38.86" cy="316.87" r="1.55"/>
<circle cx="39.05" cy="316.46" r="1.55"/>
<circle cx="39.25" cy="316.06" r="1.55"/>
<circle cx="39.44" cy="315.65" r="1.55"/>
<circle cx="39.64" cy="315.25" r="1.55"/>
<circle cx="39.83" cy="314.84" r="1.55"/>
<circle cx="40.03" cy="314.45" r="1.55"/>
<circle cx="40.23" cy="314.16" r="1.55"/>
<circle cx="40.42" cy="313.87" r="1.55"/>
<circle cx="40.62" cy="313.57" r="1.55"/>
<circle cx="40.81" cy="313.28" r="1.55"/>
<circle cx="41.01" cy="312.99" r="1.55"/>
<circle cx="41.2" cy="312.69" r="1.55"/>
<circle cx="41.4" cy="312.4" r="1.55"/>
<circle cx="41.6" cy="312.11" r="1.55"/>
<circle cx="41.79" cy="311.81" r="1.55"/>
<circle cx="41.99" cy="311.52" r="1.55"/>
<circle cx="42.18" cy="311.32" r="1.55"/>
<circle cx="42.38" cy="311.12" r="1.55"/>
<circle cx="42.57" cy="310.93" r="1.55"/>
<circle cx="42.77" cy="310.73" r="1.55"/>
<circle cx="42.96" cy="310.54" r="1.55"/>
<circle cx="43.16" cy="310.34" r="1.55"/>
<circle cx="43.36" cy="310.14" r="1.55"/>
<circle cx="43.55" cy="309.95" r="1.55"/>
<circle cx="43.75" cy="309.78" r="1.55"/>
<circle cx="43.94" cy="309.69" r="1.55"/>
<circle cx="44.14" cy="309.61" r="1.55"/>
<circle cx="44.33" cy="309.53" r="1.55"/>
<circle cx="44.53" cy="309.44" r="1.55"/>
<circle cx="44.73" cy="309.36" r="1.55"/>
<circle cx="44.92" cy="309.27" r="1.55"/>
<circle cx="45.12" cy="309.19" r="1.55"/>
<circle cx="45.31" cy="309.1" r="1.55"/>
<circle cx="45.51" cy="309.02" r="1.55"/>
<circle cx="45.7" cy="308.93" r="1.55"/>
<circle cx="45.9" cy="308.85" r="1.55"/>
<circle cx="46.1" cy="308.76" r="1.55"/>
<circle cx="46.29" cy="308.68" r="1.55"/>
<circle cx="46.49" cy="308.59" r="1.55"/>
<circle cx="46.68" cy="308.51" r="1.55"/>
<circle cx="46.88" cy="308.43" r="1.55"/>
<circle cx="47.07" cy="308.34" r="1.55"/>
<circle cx="47.27" cy="308.26" r="1.55"/>
<circle cx="47.46" cy="308.18" r="1.55"/>
<circle cx="47.66" cy="308.13" r="1.55"/>
<circle cx="47.86" cy="308.08" r="1.55"/>
<circle cx="48.05" cy="308.02" r="1.55"/>
<circle cx="48.25" cy="307.97" r="1.55"/>
<circle cx="48.44" cy="307.92" r="1.55"/>
<circle cx="48.64" cy="307.86" r="1.55"/>
<circle cx="48.83" cy="307.81" r="1.55"/>
<circle cx="49.03" cy="307.76" r="1.55"/>
<circle cx="49.23" cy="307.7" r="1.55"/>
<circle cx="49.42" cy="307.65" r="1.55"/>
<circle cx="49.62" cy="307.6" r="1.55"/>
<circle cx="49.81" cy="307.55" r="1.55"/>
<circle cx="50.01" cy="307.49" r="1.55"/>
<circle cx="50.2" cy="307.44" r="1.55"/>
<circle cx="50.4" cy="307.39" r="1.55"/>
<circle cx="50.6" cy="307.33" r="1.55"/>
<circle cx="50.79" cy="307.28" r="1.55"/>
<circle cx="50.99" cy="307.23" r="1.55"/>
<circle cx="51.18" cy="307.17" r="1.55"/>
<circle cx="51.38" cy="307.12" r="1.55"/>
<circle cx="51.57" cy="307.07" r="1.55"/>
<circle cx="51.77" cy="307.02" r="1.55"/>
<circle cx="51.96" cy="306.96" r="1.55"/>
<circle cx="52.16" cy="306.91" r="1.55"/>
<circle cx="52.36" cy="306.86" r="1.55"/>
<circle cx="52.55" cy="306.8" r="1.55"/>
<circle cx="52.75" cy="306.75" r="1.55"/>
<circle cx="52.94" cy="306.7" r="1.55"/>
<circle cx="53.14" cy="306.64" r="1.55"/>
<circle cx="53.33" cy="306.59" r="1.55"/>
<circle cx="53.53" cy="306.56" r="1.55"/>
<circle cx="53.73" cy="306.53" r="1.55"/>
<circle cx="53.92" cy="306.5" r="1.55"/>
<circle cx="54.12" cy="306.47" r="1.55"/>
<circle cx="54.31" cy="306.44" r="1.55"/>
<circle cx="54.51" cy="306.4" r="1.55"/>
<circle cx="54.7" cy="306.37" r="1.55"/>
<circle cx="54.9" cy="306.34" r="1.55"/>
<circle cx="55.09" cy="306.31" r="1.55"/>
<circle cx="55.29" cy="306.28" r="1.55"/>
<circle cx="55.49" cy="306.25" r="1.55"/>
<circle cx="55.68" cy="306.21" r="1.55"/>
<circle cx="55.88" cy="306.18" r="1.55"/>
<circle cx="56.07" cy="306.15" r="1.55"/>
<circle cx="56.27" cy="306.12" r="1.55"/>
<circle cx="56.46" cy="306.09" r="1.55"/>
<circle cx="56.66" cy="306.06" r="1.55"/>
<circle cx="56.86" cy="306.02" r="1.55"/>
<circle cx="57.05" cy="305.99" r="1.55"/>
<circle cx="57.25" cy="305.95" r="1.55"/>
<circle cx="57.44" cy="305.91" r="1.55"/>
<circle cx="57.64" cy="305.87" r="1.55"/>
<circle cx="57.83" cy="305.83" r="1.55"/>
<circle cx="58.03" cy="305.79" r="1.55"/>
<circle cx="58.23" cy="305.75" r="1.55"/>
<circle cx="58.42" cy="305.72" r="1.55"/>
<circle cx="58.62" cy="305.68" r="1.55"/>
<circle cx="58.81" cy="305.64" r="1.55"/>
<circle cx="59.01" cy="305.6" r="1.55"/>
<circle cx="59.2" cy="305.56" r="1.55"/>
<circle cx="59.4" cy="305.52" r="1.55"/>
<circle cx="59.59" cy="305.48" r="1.55"/>
<circle cx="59.79" cy="305.44" r="1.55"/>
<circle cx="59.99" cy="305.4" r="1.55"/>
<circle cx="60.18" cy="305.38" r="1.55"/>
<circle cx="60.38" cy="305.37" r="1.55"/>
<circle cx="60.57" cy="305.35" r="1.55"/>
<circle cx="60.77" cy="305.33" r="1.55"/>
<circle cx="60.96" cy="305.32" r="1.55"/>
<circle cx="61.16" cy="305.3" r="1.55"/>
<circle cx="61.36" cy="305.28" r="1.55"/>
<circle cx="61.55" cy="305.27" r="1.55"/>
<circle cx="61.75" cy="305.25" r="1.55"/>
<circle cx="61.94" cy="305.23" r="1.55"/>
<circle cx="62.14" cy="305.22" r="1.55"/>
<circle cx="62.33" cy="305.2" r="1.55"/>
<circle cx="62.53" cy="305.18" r="1.55"/>
<circle cx="62.73" cy="305.17" r="1.55"/>
<circle cx="62.92" cy="305.15" r="1.55"/>
<circle cx="63.12" cy="305.13" r="1.55"/>
<circle cx="63.31" cy="305.12" r="1.55"/>
<circle cx="63.51" cy="305.1" r="1.55"/>
<circle cx="63.7" cy="305.08" r="1.55"/>
<circle cx="63.9" cy="305.07" r="1.55"/>
<circle cx="64.09" cy="305.05" r="1.55"/>
<circle cx="64.29" cy="305.03" r="1.55"/>
<circle cx="64.49" cy="305.02" r="1.55"/>
<circle cx="64.68" cy="305" r="1.55"/>
<circle cx="64.88" cy="304.98" r="1.55"/>
<circle cx="65.07" cy="304.97" r="1.55"/>
<circle cx="65.27" cy="304.95" r="1.55"/>
<circle cx="65.46" cy="304.93" r="1.55"/>
<circle cx="65.66" cy="304.91" r="1.55"/>
<circle cx="65.86" cy="304.9" r="1.55"/>
<circle cx="66.05" cy="304.88" r="1.55"/>
<circle cx="66.25" cy="304.86" r="1.55"/>
<circle cx="66.44" cy="304.85" r="1.55"/>
<circle cx="66.64" cy="304.83" r="1.55"/>
<circle cx="66.83" cy="304.81" r="1.55"/>
<circle cx="67.03" cy="304.8" r="1.55"/>
<circle cx="67.22" cy="304.79" r="1.55"/>
<circle cx="67.42" cy="304.78" r="1.55"/>
<circle cx="67.62" cy="304.77" r="1.55"/>
<circle cx="67.81" cy="304.76" r="1.55"/>
<circle cx="68.01" cy="304.75" r="1.55"/>
<circle cx="68.2" cy="304.73" r="1.55"/>
<circle cx="68.4" cy="304.72" r="1.55"/>
<circle cx="68.59" cy="304.71" r="1.55"/>
<circle cx="68.79" cy="304.7" r="1.55"/>
<circle cx="68.99" cy="304.69" r="1.55"/>
<circle cx="69.18" cy="304.68" r="1.55"/>
<circle cx="69.38" cy="304.67" r="1.55"/>
<circle cx="69.57" cy="304.66" r="1.55"/>
<circle cx="69.77" cy="304.65" r="1.55"/>
<circle cx="69.96" cy="304.64" r="1.55"/>
<circle cx="70.16" cy="304.63" r="1.55"/>
<circle cx="70.36" cy="304.62" r="1.55"/>
<circle cx="70.55" cy="304.61" r="1.55"/>
<circle cx="70.75" cy="304.6" r="1.55"/>
<circle cx="70.94" cy="304.58" r="1.55"/>
<circle cx="71.14" cy="304.57" r="1.55"/>
<circle cx="71.33" cy="304.56" r="1.55"/>
<circle cx="71.53" cy="304.55" r="1.55"/>
<circle cx="71.72" cy="304.54" r="1.55"/>
<circle cx="71.92" cy="304.53" r="1.55"/>
<circle cx="72.12" cy="304.52" r="1.55"/>
<circle cx="72.31" cy="304.51" r="1.55"/>
<circle cx="72.51" cy="304.5" r="1.55"/>
<circle cx="72.7" cy="304.48" r="1.55"/>
<circle cx="72.9" cy="304.47" r="1.55"/>
<circle cx="73.09" cy="304.45" r="1.55"/>
<circle cx="73.29" cy="304.43" r="1.55"/>
<circle cx="73.49" cy="304.42" r="1.55"/>
<circle cx="73.68" cy="304.4" r="1.55"/>
<circle cx="73.88" cy="304.39" r="1.55"/>
<circle cx="74.07" cy="304.37" r="1.55"/>
<circle cx="74.27" cy="304.35" r="1.55"/>
<circle cx="74.46" cy="304.34" r="1.55"/>
<circle cx="74.66" cy="304.32" r="1.55"/>
<circle cx="74.85" cy="304.3" r="1.55"/>
<circle cx="75.05" cy="304.29" r="1.55"/>
<circle cx="75.25" cy="304.27" r="1.55"/>
<circle cx="75.44" cy="304.25" r="1.55"/>
<circle cx="75.64" cy="304.24" r="1.55"/>
<circle cx="75.83" cy="304.22" r="1.55"/>
<circle cx="76.03" cy="304.21" r="1.55"/>
<circle cx="76.22" cy="304.19" r="1.55"/>
<circle cx="76.42" cy="304.17" r="1.55"/>
<circle cx="76.62" cy="304.16" r="1.55"/>
<circle cx="76.81" cy="304.14" r="1.55"/>
<circle cx="77.01" cy="304.12" r="1.55"/>
<circle cx="77.2" cy="304.11" r="1.55"/>
<circle cx="77.4" cy="304.09" r="1.55"/>
<circle cx="77.59" cy="304.08" r="1.55"/>
<circle cx="77.79" cy="304.06" r="1.55"/>
<circle cx="77.99" cy="304.04" r="1.55"/>
<circle cx="78.18" cy="304.03" r="1.55"/>
<circle cx="78.38" cy="304.01" r="1.55"/>
<circle cx="78.57" cy="303.99" r="1.55"/>
<circle cx="78.77" cy="303.98" r="1.55"/>
<circle cx="78.96" cy="303.96" r="1.55"/>
<circle cx="79.16" cy="303.95" r="1.55"/>
<circle cx="79.35" cy="303.93" r="1.55"/>
<circle cx="79.55" cy="303.91" r="1.55"/>
<circle cx="79.75" cy="303.9" r="1.55"/>
<circle cx="79.94" cy="303.88" r="1.55"/>
<circle cx="80.14" cy="303.86" r="1.55"/>
<circle cx="80.33" cy="303.85" r="1.55"/>
<circle cx="80.53" cy="303.83" r="1.55"/>
<circle cx="80.72" cy="303.81" r="1.55"/>
<circle cx="80.92" cy="303.8" r="1.55"/>
<circle cx="81.12" cy="303.78" r="1.55"/>
<circle cx="81.31" cy="303.77" r="1.55"/>
<circle cx="81.51" cy="303.75" r="1.55"/>
<circle cx="81.7" cy="303.73" r="1.55"/>
<circle cx="81.9" cy="303.72" r="1.55"/>
<circle cx="82.09" cy="303.7" r="1.55"/>
<circle cx="82.29" cy="303.68" r="1.55"/>
<circle cx="82.49" cy="303.67" r="1.55"/>
<circle cx="82.68" cy="303.65" r="1.55"/>
<circle cx="82.88" cy="303.64" r="1.55"/>
<circle cx="83.07" cy="303.62" r="1.55"/>
<circle cx="83.27" cy="303.6" r="1.55"/>
<circle cx="83.46" cy="303.59" r="1.55"/>
<circle cx="83.66" cy="303.58" r="1.55"/>
<circle cx="83.85" cy="303.57" r="1.55"/>
<circle cx="84.05" cy="303.56" r="1.55"/>
<circle cx="84.25" cy="303.55" r="1.55"/>
<circle cx="84.44" cy="303.53" r="1.55"/>
<circle cx="84.64" cy="303.52" r="1.55"/>
<circle cx="84.83" cy="303.51" r="1.55"/>
<circle cx="85.03" cy="303.5" r="1.55"/>
<circle cx="85.22" cy="303.49" r="1.55"/>
<circle cx="85.42" cy="303.48" r="1.55"/>
<circle cx="85.62" cy="303.47" r="1.55"/>
<circle cx="85.81" cy="303.46" r="1.55"/>
<circle cx="86.01" cy="303.44" r="1.55"/>
<circle cx="86.2" cy="303.43" r="1.55"/>
<circle cx="86.4" cy="303.42" r="1.55"/>
<circle cx="86.59" cy="303.41" r="1.55"/>
<circle cx="86.79" cy="303.4" r="1.55"/>
<circle cx="86.98" cy="303.39" r="1.55"/>
<circle cx="87.18" cy="303.38" r="1.55"/>
<circle cx="87.38" cy="303.37" r="1.55"/>
<circle cx="87.57" cy="303.35" r="1.55"/>
<circle cx="87.77" cy="303.34" r="1.55"/>
<circle cx="87.96" cy="303.33" r="1.55"/>
<circle cx="88.16" cy="303.32" r="1.55"/>
<circle cx="88.35" cy="303.31" r="1.55"/>
<circle cx="88.55" cy="303.3" r="1.55"/>
<circle cx="88.75" cy="303.29" r="1.55"/>
<circle cx="88.94" cy="303.28" r="1.55"/>
<circle cx="89.14" cy="303.26" r="1.55"/>
<circle cx="89.33" cy="303.25" r="1.55"/>
<circle cx="89.53" cy="303.24" r="1.55"/>
<circle cx="89.72" cy="303.23" r="1.55"/>
<circle cx="89.92" cy="303.22" r="1.55"/>
<circle cx="90.12" cy="303.21" r="1.55"/>
<circle cx="90.31" cy="303.2" r="1.55"/>
<circle cx="90.51" cy="303.19" r="1.55"/>
<circle cx="90.7" cy="303.17" r="1.55"/>
<circle cx="90.9" cy="303.16" r="1.55"/>
<circle cx="91.09" cy="303.15" r="1.55"/>
<circle cx="91.29" cy="303.14" r="1.55"/>
<circle cx="91.48" cy="303.13" r="1.55"/>
<circle cx="91.68" cy="303.12" r="1.55"/>
<circle cx="91.88" cy="303.11" r="1.55"/>
<circle cx="92.07" cy="303.09" r="1.55"/>
<circle cx="92.27" cy="303.07" r="1.55"/>
<circle cx="92.46" cy="303.05" r="1.55"/>
<circle cx="92.66" cy="303.02" r="1.55"/>
<circle cx="92.85" cy="303" r="1.55"/>
<circle cx="93.05" cy="302.98" r="1.55"/>
<circle cx="93.25" cy="302.95" r="1.55"/>
<circle cx="93.44" cy="302.93" r="1.55"/>
<circle cx="93.64" cy="302.91" r="1.55"/>
<circle cx="93.83" cy="302.89" r="1.55"/>
<circle cx="94.03" cy="302.86" r="1.55"/>
<circle cx="94.22" cy="302.84" r="1.55"/>
<circle cx="94.42" cy="302.82" r="1.55"/>
<circle cx="94.62" cy="302.79" r="1.55"/>
<circle cx="94.81" cy="302.77" r="1.55"/>
<circle cx="95.01" cy="302.75" r="1.55"/>
<circle cx="95.2" cy="302.73" r="1.55"/>
<circle cx="95.4" cy="302.7" r="1.55"/>
<circle cx="95.59" cy="302.68" r="1.55"/>
<circle cx="95.79" cy="302.66" r="1.55"/>
<circle cx="95.98" cy="302.63" r="1.55"/>
<circle cx="96.18" cy="302.61" r="1.55"/>
<circle cx="96.38" cy="302.59" r="1.55"/>
<circle cx="96.57" cy="302.57" r="1.55"/>
<circle cx="96.77" cy="302.54" r="1.55"/>
<circle cx="96.96" cy="302.52" r="1.55"/>
<circle cx="97.16" cy="302.5" r="1.55"/>
<circle cx="97.35" cy="302.47" r="1.55"/>
<circle cx="97.55" cy="302.45" r="1.55"/>
<circle cx="97.75" cy="302.43" r="1.55"/>
<circle cx="97.94" cy="302.4" r="1.55"/>
<circle cx="98.14" cy="302.38" r="1.55"/>
<circle cx="98.33" cy="302.36" r="1.55"/>
<circle cx="98.53" cy="302.34" r="1.55"/>
<circle cx="98.72" cy="302.31" r="1.55"/>
<circle cx="98.92" cy="302.29" r="1.55"/>
<circle cx="99.11" cy="302.27" r="1.55"/>
<circle cx="99.31" cy="302.24" r="1.55"/>
<circle cx="99.51" cy="302.22" r="1.55"/>
<circle cx="99.7" cy="302.2" r="1.55"/>
<circle cx="99.9" cy="302.18" r="1.55"/>
<circle cx="100.09" cy="302.15" r="1.55"/>
<circle cx="100.29" cy="302.13" r="1.55"/>
<circle cx="100.48" cy="302.11" r="1.55"/>
<circle cx="100.68" cy="302.08" r="1.55"/>
<circle cx="100.88" cy="302.06" r="1.55"/>
<circle cx="101.07" cy="302.04" r="1.55"/>
<circle cx="101.27" cy="302.02" r="1.55"/>
<circle cx="101.46" cy="301.99" r="1.55"/>
<circle cx="101.66" cy="301.96" r="1.55"/>
<circle cx="101.85" cy="301.93" r="1.55"/>
<circle cx="102.05" cy="301.89" r="1.55"/>
<circle cx="102.25" cy="301.86" r="1.55"/>
<circle cx="102.44" cy="301.83" r="1.55"/>
<circle cx="102.64" cy="301.8" r="1.55"/>
<circle cx="102.83" cy="301.77" r="1.55"/>
<circle cx="103.03" cy="301.74" r="1.55"/>
<circle cx="103.22" cy="301.7" r="1.55"/>
<circle cx="103.42" cy="301.67" r="1.55"/>
<circle cx="103.61" cy="301.64" r="1.55"/>
<circle cx="103.81" cy="301.61" r="1.55"/>
<circle cx="104.01" cy="301.58" r="1.55"/>
<circle cx="104.2" cy="301.54" r="1.55"/>
<circle cx="104.4" cy="301.51" r="1.55"/>
<circle cx="104.59" cy="301.48" r="1.55"/>
<circle cx="104.79" cy="301.45" r="1.55"/>
<circle cx="104.98" cy="301.42" r="1.55"/>
<circle cx="105.18" cy="301.38" r="1.55"/>
<circle cx="105.38" cy="301.35" r="1.55"/>
<circle cx="105.57" cy="301.32" r="1.55"/>
<circle cx="105.77" cy="301.29" r="1.55"/>
<circle cx="105.96" cy="301.26" r="1.55"/>
<circle cx="106.16" cy="301.23" r="1.55"/>
<circle cx="106.35" cy="301.19" r="1.55"/>
<circle cx="106.55" cy="301.16" r="1.55"/>
<circle cx="106.75" cy="301.13" r="1.55"/>
<circle cx="106.94" cy="301.1" r="1.55"/>
<circle cx="107.14" cy="301.07" r="1.55"/>
<circle cx="107.33" cy="301.03" r="1.55"/>
<circle cx="107.53" cy="301" r="1.55"/>
<circle cx="107.72" cy="300.97" r="1.55"/>
<circle cx="107.92" cy="300.94" r="1.55"/>
<circle cx="108.11" cy="300.91" r="1.55"/>
<circle cx="108.31" cy="300.88" r="1.55"/>
<circle cx="108.51" cy="300.84" r="1.55"/>
<circle cx="108.7" cy="300.81" r="1.55"/>
<circle cx="108.9" cy="300.78" r="1.55"/>
<circle cx="109.09" cy="300.75" r="1.55"/>
<circle cx="109.29" cy="300.72" r="1.55"/>
<circle cx="109.48" cy="300.68" r="1.55"/>
<circle cx="109.68" cy="300.65" r="1.55"/>
<circle cx="109.88" cy="300.62" r="1.55"/>
<circle cx="110.07" cy="300.59" r="1.55"/>
<circle cx="110.27" cy="300.56" r="1.55"/>
<circle cx="110.46" cy="300.54" r="1.55"/>
<circle cx="110.66" cy="300.51" r="1.55"/>
<circle cx="110.85" cy="300.48" r="1.55"/>
<circle cx="111.05" cy="300.45" r="1.55"/>
<circle cx="111.24" cy="300.43" r="1.55"/>
<circle cx="111.44" cy="300.4" r="1.55"/>
<circle cx="111.64" cy="300.37" r="1.55"/>
<circle cx="111.83" cy="300.34" r="1.55"/>
<circle cx="112.03" cy="300.32" r="1.55"/>
<circle cx="112.22" cy="300.29" r="1.55"/>
<circle cx="112.42" cy="300.26" r="1.55"/>
<circle cx="112.61" cy="300.23" r="1.55"/>
<circle cx="112.81" cy="300.21" r="1.55"/>
<circle cx="113.01" cy="300.18" r="1.55"/>
<circle cx="113.2" cy="300.15" r="1.55"/>
<circle cx="113.4" cy="300.12" r="1.55"/>
<circle cx="113.59" cy="300.1" r="1.55"/>
<circle cx="113.79" cy="300.07" r="1.55"/>
<circle cx="113.98" cy="300.04" r="1.55"/>
<circle cx="114.18" cy="300.01" r="1.55"/>
<circle cx="114.38" cy="299.99" r="1.55"/>
<circle cx="114.57" cy="299.96" r="1.55"/>
<circle cx="114.77" cy="299.93" r="1.55"/>
<circle cx="114.96" cy="299.91" r="1.55"/>
<circle cx="115.16" cy="299.88" r="1.55"/>
<circle cx="115.35" cy="299.85" r="1.55"/>
<circle cx="115.55" cy="299.82" r="1.55"/>
<circle cx="115.74" cy="299.8" r="1.55"/>
<circle cx="115.94" cy="299.77" r="1.55"/>
<circle cx="116.14" cy="299.74" r="1.55"/>
<circle cx="116.33" cy="299.71" r="1.55"/>
<circle cx="116.53" cy="299.69" r="1.55"/>
<circle cx="116.72" cy="299.66" r="1.55"/>
<circle cx="116.92" cy="299.63" r="1.55"/>
<circle cx="117.11" cy="299.6" r="1.55"/>
<circle cx="117.31" cy="299.58" r="1.55"/>
<circle cx="117.51" cy="299.55" r="1.55"/>
<circle cx="117.7" cy="299.52" r="1.55"/>
<circle cx="117.9" cy="299.49" r="1.55"/>
<circle cx="118.09" cy="299.47" r="1.55"/>
<circle cx="118.29" cy="299.44" r="1.55"/>
<circle cx="118.48" cy="299.41" r="1.55"/>
<circle cx="118.68" cy="299.38" r="1.55"/>
<circle cx="118.87" cy="299.36" r="1.55"/>
<circle cx="119.07" cy="299.33" r="1.55"/>
<circle cx="119.27" cy="299.3" r="1.55"/>
<circle cx="119.46" cy="299.28" r="1.55"/>
<circle cx="119.66" cy="299.25" r="1.55"/>
<circle cx="119.85" cy="299.22" r="1.55"/>
<circle cx="120.05" cy="299.19" r="1.55"/>
<circle cx="120.24" cy="299.15" r="1.55"/>
<circle cx="120.44" cy="299.11" r="1.55"/>
<circle cx="120.64" cy="299.08" r="1.55"/>
<circle cx="120.83" cy="299.04" r="1.55"/>
<circle cx="121.03" cy="299" r="1.55"/>
<circle cx="121.22" cy="298.96" r="1.55"/>
<circle cx="121.42" cy="298.92" r="1.55"/>
<circle cx="121.61" cy="298.89" r="1.55"/>
<circle cx="121.81" cy="298.85" r="1.55"/>
<circle cx="122.01" cy="298.81" r="1.55"/>
<circle cx="122.2" cy="298.77" r="1.55"/>
<circle cx="122.4" cy="298.73" r="1.55"/>
<circle cx="122.59" cy="298.7" r="1.55"/>
<circle cx="122.79" cy="298.66" r="1.55"/>
<circle cx="122.98" cy="298.62" r="1.55"/>
<circle cx="123.18" cy="298.58" r="1.55"/>
<circle cx="123.37" cy="298.54" r="1.55"/>
<circle cx="123.57" cy="298.5" r="1.55"/>
<circle cx="123.77" cy="298.47" r="1.55"/>
<circle cx="123.96" cy="298.43" r="1.55"/>
<circle cx="124.16" cy="298.39" r="1.55"/>
<circle cx="124.35" cy="298.35" r="1.55"/>
<circle cx="124.55" cy="298.31" r="1.55"/>
<circle cx="124.74" cy="298.28" r="1.55"/>
<circle cx="124.94" cy="298.24" r="1.55"/>
<circle cx="125.14" cy="298.2" r="1.55"/>
<circle cx="125.33" cy="298.16" r="1.55"/>
<circle cx="125.53" cy="298.12" r="1.55"/>
<circle cx="125.72" cy="298.09" r="1.55"/>
<circle cx="125.92" cy="298.05" r="1.55"/>
<circle cx="126.11" cy="298.01" r="1.55"/>
<circle cx="126.31" cy="297.97" r="1.55"/>
<circle cx="126.51" cy="297.93" r="1.55"/>
<circle cx="126.7" cy="297.89" r="1.55"/>
<circle cx="126.9" cy="297.86" r="1.55"/>
<circle cx="127.09" cy="297.82" r="1.55"/>
<circle cx="127.29" cy="297.78" r="1.55"/>
<circle cx="127.48" cy="297.74" r="1.55"/>
<circle cx="127.68" cy="297.7" r="1.55"/>
<circle cx="127.87" cy="297.64" r="1.55"/>
<circle cx="128.07" cy="297.57" r="1.55"/>
<circle cx="128.27" cy="297.5" r="1.55"/>
<circle cx="128.46" cy="297.43" r="1.55"/>
<circle cx="128.66" cy="297.36" r="1.55"/>
<circle cx="128.85" cy="297.29" r="1.55"/>
<circle cx="129.05" cy="297.22" r="1.55"/>
<circle cx="129.24" cy="297.15" r="1.55"/>
<circle cx="129.44" cy="297.08" r="1.55"/>
<circle cx="129.64" cy="297.01" r="1.55"/>
<circle cx="129.83" cy="296.94" r="1.55"/>
<circle cx="130.03" cy="296.87" r="1.55"/>
<circle cx="130.22" cy="296.8" r="1.55"/>
<circle cx="130.42" cy="296.73" r="1.55"/>
<circle cx="130.61" cy="296.66" r="1.55"/>
<circle cx="130.81" cy="296.59" r="1.55"/>
<circle cx="131" cy="296.52" r="1.55"/>
<circle cx="131.2" cy="296.45" r="1.55"/>
<circle cx="131.4" cy="296.37" r="1.55"/>
<circle cx="131.59" cy="296.3" r="1.55"/>
<circle cx="131.79" cy="296.23" r="1.55"/>
<circle cx="131.98" cy="296.16" r="1.55"/>
<circle cx="132.18" cy="296.09" r="1.55"/>
<circle cx="132.37" cy="296.02" r="1.55"/>
<circle cx="132.57" cy="295.95" r="1.55"/>
<circle cx="132.77" cy="295.88" r="1.55"/>
<circle cx="132.96" cy="295.81" r="1.55"/>
<circle cx="133.16" cy="295.7" r="1.55"/>
<circle cx="133.35" cy="295.58" r="1.55"/>
<circle cx="133.55" cy="295.45" r="1.55"/>
<circle cx="133.74" cy="295.33" r="1.55"/>
<circle cx="133.94" cy="295.2" r="1.55"/>
<circle cx="134.14" cy="295.08" r="1.55"/>
<circle cx="134.33" cy="294.95" r="1.55"/>
<circle cx="134.53" cy="294.83" r="1.55"/>
<circle cx="134.72" cy="294.7" r="1.55"/>
<circle cx="134.92" cy="294.58" r="1.55"/>
<circle cx="135.11" cy="294.46" r="1.55"/>
<circle cx="135.31" cy="294.33" r="1.55"/>
<circle cx="135.5" cy="294.21" r="1.55"/>
<circle cx="135.7" cy="294.08" r="1.55"/>
<circle cx="135.9" cy="293.96" r="1.55"/>
<circle cx="136.09" cy="293.83" r="1.55"/>
<circle cx="136.29" cy="293.71" r="1.55"/>
<circle cx="136.48" cy="293.58" r="1.55"/>
<circle cx="136.68" cy="293.46" r="1.55"/>
<circle cx="136.87" cy="293.33" r="1.55"/>
<circle cx="137.07" cy="293.21" r="1.55"/>
<circle cx="137.27" cy="293.09" r="1.55"/>
<circle cx="137.46" cy="292.96" r="1.55"/>
<circle cx="137.66" cy="292.84" r="1.55"/>
<circle cx="137.85" cy="292.71" r="1.55"/>
<circle cx="138.05" cy="292.59" r="1.55"/>
<circle cx="138.24" cy="292.46" r="1.55"/>
<circle cx="138.44" cy="292.34" r="1.55"/>
<circle cx="138.64" cy="292.13" r="1.55"/>
<circle cx="138.83" cy="291.89" r="1.55"/>
<circle cx="139.03" cy="291.65" r="1.55"/>
<circle cx="139.22" cy="291.41" r="1.55"/>
<circle cx="139.42" cy="291.17" r="1.55"/>
<circle cx="139.61" cy="290.93" r="1.55"/>
<circle cx="139.81" cy="290.69" r="1.55"/>
<circle cx="140" cy="290.44" r="1.55"/>
<circle cx="140.2" cy="290.2" r="1.55"/>
<circle cx="140.4" cy="289.96" r="1.55"/>
<circle cx="140.59" cy="289.72" r="1.55"/>
<circle cx="140.79" cy="289.48" r="1.55"/>
<circle cx="140.98" cy="289.24" r="1.55"/>
<circle cx="141.18" cy="289" r="1.55"/>
<circle cx="141.37" cy="288.76" r="1.55"/>
<circle cx="141.57" cy="288.47" r="1.55"/>
<circle cx="141.77" cy="288.1" r="1.55"/>
<circle cx="141.96" cy="287.73" r="1.55"/>
<circle cx="142.16" cy="287.36" r="1.55"/>
<circle cx="142.35" cy="286.99" r="1.55"/>
<circle cx="142.55" cy="286.62" r="1.55"/>
<circle cx="142.74" cy="286.25" r="1.55"/>
<circle cx="142.94" cy="285.88" r="1.55"/>
<circle cx="143.13" cy="285.51" r="1.55"/>
<circle cx="143.33" cy="285.12" r="1.55"/>
<circle cx="143.53" cy="284.6" r="1.55"/>
<circle cx="143.72" cy="284.08" r="1.55"/>
<circle cx="143.92" cy="283.55" r="1.55"/>
<circle cx="144.11" cy="283.03" r="1.55"/>
<circle cx="144.31" cy="281.58" r="1.55"/>
<circle cx="144.5" cy="279.09" r="1.55"/>
<circle cx="144.7" cy="275.2" r="1.55"/>
</g>
<circle cx="38.5" cy="317" r="1.8" fill="#4a86d0"/>
<circle cx="42.9" cy="309.8" r="1.8" fill="#4a86d0"/>
<circle cx="44" cy="309.2" r="1.8" fill="#4a86d0"/>
<circle cx="46.9" cy="307.9" r="1.8" fill="#4a86d0"/>
<circle cx="53.7" cy="306.1" r="1.8" fill="#4a86d0"/>
<circle cx="56.3" cy="305.8" r="1.8" fill="#4a86d0"/>
<circle cx="58.3" cy="305.5" r="1.8" fill="#4a86d0"/>
<circle cx="60.4" cy="305.3" r="1.8" fill="#4a86d0"/>
<circle cx="62.4" cy="305.1" r="1.8" fill="#4a86d0"/>
<circle cx="67.1" cy="304.7" r="1.8" fill="#4a86d0"/>
<circle cx="72.5" cy="304.5" r="1.8" fill="#4a86d0"/>
<circle cx="83.3" cy="303.6" r="1.8" fill="#4a86d0"/>
<circle cx="86" cy="303.5" r="1.8" fill="#4a86d0"/>
<circle cx="92.2" cy="303.1" r="1.8" fill="#4a86d0"/>
<circle cx="94.2" cy="303" r="1.8" fill="#4a86d0"/>
<circle cx="101.4" cy="302.2" r="1.8" fill="#4a86d0"/>
<circle cx="42.3" cy="333.5" r="1.35" fill="#4a86d0"/>
<text x="46.6" y="336" font-size="7.1" text-anchor="start" fill="#333" stroke="#333" stroke-width="0.16">Trabectedin+VX984</text>
<line x1="180.4" y1="26.4" x2="254.4" y2="26.4" stroke="#9c9c9c" stroke-width="1.05"/>
<line x1="180.4" y1="49.9" x2="254.4" y2="49.9" stroke="#9c9c9c" stroke-width="1.05"/>
<line x1="180.4" y1="73.4" x2="254.4" y2="73.4" stroke="#9c9c9c" stroke-width="1.05"/>
<line x1="180.4" y1="22.8" x2="180.4" y2="96.7" stroke="#707070" stroke-width="1"/>
<line x1="180.4" y1="96.7" x2="254.4" y2="96.7" stroke="#707070" stroke-width="1"/>
<line x1="177.4" y1="26.4" x2="180.4" y2="26.4" stroke="#707070" stroke-width="1"/>
<text x="176.6" y="28.9" font-size="7" text-anchor="end" fill="#333" stroke="#333" stroke-width="0.16">100</text>
<line x1="177.4" y1="49.9" x2="180.4" y2="49.9" stroke="#707070" stroke-width="1"/>
<text x="176.6" y="52.4" font-size="7" text-anchor="end" fill="#333" stroke="#333" stroke-width="0.16">10</text>
<line x1="177.4" y1="73.4" x2="180.4" y2="73.4" stroke="#707070" stroke-width="1"/>
<text x="176.6" y="75.9" font-size="7" text-anchor="end" fill="#333" stroke="#333" stroke-width="0.16">1</text>
<line x1="177.4" y1="96.9" x2="180.4" y2="96.9" stroke="#707070" stroke-width="1"/>
<text x="176.6" y="99.4" font-size="7" text-anchor="end" fill="#333" stroke="#333" stroke-width="0.16">0.1</text>
<line x1="178.8" y1="42.83" x2="180.4" y2="42.83" stroke="#666" stroke-width="0.6"/>
<line x1="178.8" y1="38.69" x2="180.4" y2="38.69" stroke="#666" stroke-width="0.6"/>
<line x1="178.8" y1="35.75" x2="180.4" y2="35.75" stroke="#666" stroke-width="0.6"/>
<line x1="178.8" y1="33.47" x2="180.4" y2="33.47" stroke="#666" stroke-width="0.6"/>
<line x1="178.8" y1="31.61" x2="180.4" y2="31.61" stroke="#666" stroke-width="0.6"/>
<line x1="178.8" y1="30.04" x2="180.4" y2="30.04" stroke="#666" stroke-width="0.6"/>
<line x1="178.8" y1="28.68" x2="180.4" y2="28.68" stroke="#666" stroke-width="0.6"/>
<line x1="178.8" y1="27.48" x2="180.4" y2="27.48" stroke="#666" stroke-width="0.6"/>
<line x1="178.8" y1="66.33" x2="180.4" y2="66.33" stroke="#666" stroke-width="0.6"/>
<line x1="178.8" y1="62.19" x2="180.4" y2="62.19" stroke="#666" stroke-width="0.6"/>
<line x1="178.8" y1="59.25" x2="180.4" y2="59.25" stroke="#666" stroke-width="0.6"/>
<line x1="178.8" y1="56.97" x2="180.4" y2="56.97" stroke="#666" stroke-width="0.6"/>
<line x1="178.8" y1="55.11" x2="180.4" y2="55.11" stroke="#666" stroke-width="0.6"/>
<line x1="178.8" y1="53.54" x2="180.4" y2="53.54" stroke="#666" stroke-width="0.6"/>
<line x1="178.8" y1="52.18" x2="180.4" y2="52.18" stroke="#666" stroke-width="0.6"/>
<line x1="178.8" y1="50.98" x2="180.4" y2="50.98" stroke="#666" stroke-width="0.6"/>
<line x1="178.8" y1="89.83" x2="180.4" y2="89.83" stroke="#666" stroke-width="0.6"/>
<line x1="178.8" y1="85.69" x2="180.4" y2="85.69" stroke="#666" stroke-width="0.6"/>
<line x1="178.8" y1="82.75" x2="180.4" y2="82.75" stroke="#666" stroke-width="0.6"/>
<line x1="178.8" y1="80.47" x2="180.4" y2="80.47" stroke="#666" stroke-width="0.6"/>
<line x1="178.8" y1="78.61" x2="180.4" y2="78.61" stroke="#666" stroke-width="0.6"/>
<line x1="178.8" y1="77.04" x2="180.4" y2="77.04" stroke="#666" stroke-width="0.6"/>
<line x1="178.8" y1="75.68" x2="180.4" y2="75.68" stroke="#666" stroke-width="0.6"/>
<line x1="178.8" y1="74.48" x2="180.4" y2="74.48" stroke="#666" stroke-width="0.6"/>
<line x1="180.4" y1="96.7" x2="180.4" y2="99.7" stroke="#707070" stroke-width="1"/>
<text x="182.5" y="103" font-size="6.75" text-anchor="end" fill="#333" transform="rotate(-45 182.5 103)" stroke="#333" stroke-width="0.16">0.00001</text>
<line x1="184.07" y1="96.7" x2="184.07" y2="98.3" stroke="#666" stroke-width="0.6"/>
<line x1="186.22" y1="96.7" x2="186.22" y2="98.3" stroke="#666" stroke-width="0.6"/>
<line x1="187.75" y1="96.7" x2="187.75" y2="98.3" stroke="#666" stroke-width="0.6"/>
<line x1="188.93" y1="96.7" x2="188.93" y2="98.3" stroke="#666" stroke-width="0.6"/>
<line x1="189.89" y1="96.7" x2="189.89" y2="98.3" stroke="#666" stroke-width="0.6"/>
<line x1="190.71" y1="96.7" x2="190.71" y2="98.3" stroke="#666" stroke-width="0.6"/>
<line x1="191.42" y1="96.7" x2="191.42" y2="98.3" stroke="#666" stroke-width="0.6"/>
<line x1="192.04" y1="96.7" x2="192.04" y2="98.3" stroke="#666" stroke-width="0.6"/>
<line x1="192.6" y1="96.7" x2="192.6" y2="99.7" stroke="#707070" stroke-width="1"/>
<text x="194.7" y="103" font-size="6.75" text-anchor="end" fill="#333" transform="rotate(-45 194.7 103)" stroke="#333" stroke-width="0.16">0.0001</text>
<line x1="196.27" y1="96.7" x2="196.27" y2="98.3" stroke="#666" stroke-width="0.6"/>
<line x1="198.42" y1="96.7" x2="198.42" y2="98.3" stroke="#666" stroke-width="0.6"/>
<line x1="199.95" y1="96.7" x2="199.95" y2="98.3" stroke="#666" stroke-width="0.6"/>
<line x1="201.13" y1="96.7" x2="201.13" y2="98.3" stroke="#666" stroke-width="0.6"/>
<line x1="202.09" y1="96.7" x2="202.09" y2="98.3" stroke="#666" stroke-width="0.6"/>
<line x1="202.91" y1="96.7" x2="202.91" y2="98.3" stroke="#666" stroke-width="0.6"/>
<line x1="203.62" y1="96.7" x2="203.62" y2="98.3" stroke="#666" stroke-width="0.6"/>
<line x1="204.24" y1="96.7" x2="204.24" y2="98.3" stroke="#666" stroke-width="0.6"/>
<line x1="204.8" y1="96.7" x2="204.8" y2="99.7" stroke="#707070" stroke-width="1"/>
<text x="206.9" y="103" font-size="6.75" text-anchor="end" fill="#333" transform="rotate(-45 206.9 103)" stroke="#333" stroke-width="0.16">0.001</text>
<line x1="208.47" y1="96.7" x2="208.47" y2="98.3" stroke="#666" stroke-width="0.6"/>
<line x1="210.62" y1="96.7" x2="210.62" y2="98.3" stroke="#666" stroke-width="0.6"/>
<line x1="212.15" y1="96.7" x2="212.15" y2="98.3" stroke="#666" stroke-width="0.6"/>
<line x1="213.33" y1="96.7" x2="213.33" y2="98.3" stroke="#666" stroke-width="0.6"/>
<line x1="214.29" y1="96.7" x2="214.29" y2="98.3" stroke="#666" stroke-width="0.6"/>
<line x1="215.11" y1="96.7" x2="215.11" y2="98.3" stroke="#666" stroke-width="0.6"/>
<line x1="215.82" y1="96.7" x2="215.82" y2="98.3" stroke="#666" stroke-width="0.6"/>
<line x1="216.44" y1="96.7" x2="216.44" y2="98.3" stroke="#666" stroke-width="0.6"/>
<line x1="217" y1="96.7" x2="217" y2="99.7" stroke="#707070" stroke-width="1"/>
<text x="219.1" y="103" font-size="6.75" text-anchor="end" fill="#333" transform="rotate(-45 219.1 103)" stroke="#333" stroke-width="0.16">0.01</text>
<line x1="220.67" y1="96.7" x2="220.67" y2="98.3" stroke="#666" stroke-width="0.6"/>
<line x1="222.82" y1="96.7" x2="222.82" y2="98.3" stroke="#666" stroke-width="0.6"/>
<line x1="224.35" y1="96.7" x2="224.35" y2="98.3" stroke="#666" stroke-width="0.6"/>
<line x1="225.53" y1="96.7" x2="225.53" y2="98.3" stroke="#666" stroke-width="0.6"/>
<line x1="226.49" y1="96.7" x2="226.49" y2="98.3" stroke="#666" stroke-width="0.6"/>
<line x1="227.31" y1="96.7" x2="227.31" y2="98.3" stroke="#666" stroke-width="0.6"/>
<line x1="228.02" y1="96.7" x2="228.02" y2="98.3" stroke="#666" stroke-width="0.6"/>
<line x1="228.64" y1="96.7" x2="228.64" y2="98.3" stroke="#666" stroke-width="0.6"/>
<line x1="229.2" y1="96.7" x2="229.2" y2="99.7" stroke="#707070" stroke-width="1"/>
<text x="231.3" y="103" font-size="6.75" text-anchor="end" fill="#333" transform="rotate(-45 231.3 103)" stroke="#333" stroke-width="0.16">0.1</text>
<line x1="232.87" y1="96.7" x2="232.87" y2="98.3" stroke="#666" stroke-width="0.6"/>
<line x1="235.02" y1="96.7" x2="235.02" y2="98.3" stroke="#666" stroke-width="0.6"/>
<line x1="236.55" y1="96.7" x2="236.55" y2="98.3" stroke="#666" stroke-width="0.6"/>
<line x1="237.73" y1="96.7" x2="237.73" y2="98.3" stroke="#666" stroke-width="0.6"/>
<line x1="238.69" y1="96.7" x2="238.69" y2="98.3" stroke="#666" stroke-width="0.6"/>
<line x1="239.51" y1="96.7" x2="239.51" y2="98.3" stroke="#666" stroke-width="0.6"/>
<line x1="240.22" y1="96.7" x2="240.22" y2="98.3" stroke="#666" stroke-width="0.6"/>
<line x1="240.84" y1="96.7" x2="240.84" y2="98.3" stroke="#666" stroke-width="0.6"/>
<line x1="241.4" y1="96.7" x2="241.4" y2="99.7" stroke="#707070" stroke-width="1"/>
<text x="243.5" y="103" font-size="6.75" text-anchor="end" fill="#333" transform="rotate(-45 243.5 103)" stroke="#333" stroke-width="0.16">1</text>
<line x1="245.07" y1="96.7" x2="245.07" y2="98.3" stroke="#666" stroke-width="0.6"/>
<line x1="247.22" y1="96.7" x2="247.22" y2="98.3" stroke="#666" stroke-width="0.6"/>
<line x1="248.75" y1="96.7" x2="248.75" y2="98.3" stroke="#666" stroke-width="0.6"/>
<line x1="249.93" y1="96.7" x2="249.93" y2="98.3" stroke="#666" stroke-width="0.6"/>
<line x1="250.89" y1="96.7" x2="250.89" y2="98.3" stroke="#666" stroke-width="0.6"/>
<line x1="251.71" y1="96.7" x2="251.71" y2="98.3" stroke="#666" stroke-width="0.6"/>
<line x1="252.42" y1="96.7" x2="252.42" y2="98.3" stroke="#666" stroke-width="0.6"/>
<line x1="253.04" y1="96.7" x2="253.04" y2="98.3" stroke="#666" stroke-width="0.6"/>
<line x1="253.6" y1="96.7" x2="253.6" y2="99.7" stroke="#707070" stroke-width="1"/>
<text x="255.7" y="103" font-size="6.75" text-anchor="end" fill="#333" transform="rotate(-45 255.7 103)" stroke="#333" stroke-width="0.16">10</text>
<path d="M186.22,26.3 L192.6,26.3 L198.42,26.7 L204.8,29.2 L210.62,40.3" fill="none" stroke="#9a9a9a" stroke-width="0.9"/>
<circle cx="186.22" cy="26.3" r="2" fill="#9a9a9a"/>
<circle cx="192.6" cy="26.3" r="2" fill="#9a9a9a"/>
<circle cx="198.42" cy="26.7" r="2" fill="#9a9a9a"/>
<circle cx="204.8" cy="29.2" r="2" fill="#9a9a9a"/>
<circle cx="210.62" cy="40.3" r="2" fill="#9a9a9a"/>
<line x1="210.62" y1="38.6" x2="210.62" y2="43.3" stroke="#9a9a9a" stroke-width="0.8"/>
<line x1="209.02" y1="38.6" x2="212.22" y2="38.6" stroke="#9a9a9a" stroke-width="0.8"/>
<line x1="209.02" y1="43.3" x2="212.22" y2="43.3" stroke="#9a9a9a" stroke-width="0.8"/>
<path d="M222.82,41.4 L229.2,43.4 L235.02,50 L241.4,67.5 L247.22,70.7 L253.6,83.7" fill="none" stroke="#2b46a6" stroke-width="0.9"/>
<circle cx="222.82" cy="41.4" r="2" fill="#2b46a6"/>
<circle cx="229.2" cy="43.4" r="2" fill="#2b46a6"/>
<circle cx="235.02" cy="50" r="2" fill="#2b46a6"/>
<circle cx="241.4" cy="67.5" r="2" fill="#2b46a6"/>
<circle cx="247.22" cy="70.7" r="2" fill="#2b46a6"/>
<circle cx="253.6" cy="83.7" r="2" fill="#2b46a6"/>
<line x1="235.02" y1="47.5" x2="235.02" y2="52.5" stroke="#2b46a6" stroke-width="0.8"/>
<line x1="233.42" y1="47.5" x2="236.62" y2="47.5" stroke="#2b46a6" stroke-width="0.8"/>
<line x1="233.42" y1="52.5" x2="236.62" y2="52.5" stroke="#2b46a6" stroke-width="0.8"/>
<line x1="241.4" y1="61" x2="241.4" y2="77" stroke="#2b46a6" stroke-width="0.8"/>
<line x1="239.8" y1="61" x2="243" y2="61" stroke="#2b46a6" stroke-width="0.8"/>
<line x1="239.8" y1="77" x2="243" y2="77" stroke="#2b46a6" stroke-width="0.8"/>
<line x1="253.6" y1="78" x2="253.6" y2="89" stroke="#2b46a6" stroke-width="0.8"/>
<line x1="252" y1="78" x2="255.2" y2="78" stroke="#2b46a6" stroke-width="0.8"/>
<line x1="252" y1="89" x2="255.2" y2="89" stroke="#2b46a6" stroke-width="0.8"/>
<path d="M222.82,28.8 L229.2,29 L235.02,32.9 L241.4,44.2 L247.22,66.8 L253.6,70.5" fill="none" stroke="#4a5cbe" stroke-width="0.9"/>
<circle cx="222.82" cy="28.8" r="2" fill="#4a5cbe"/>
<circle cx="229.2" cy="29" r="2" fill="#4a5cbe"/>
<circle cx="235.02" cy="32.9" r="2" fill="#4a5cbe"/>
<circle cx="241.4" cy="44.2" r="2" fill="#4a5cbe"/>
<circle cx="247.22" cy="66.8" r="2" fill="#4a5cbe"/>
<circle cx="253.6" cy="70.5" r="2" fill="#4a5cbe"/>
<line x1="241.4" y1="41" x2="241.4" y2="47" stroke="#4a5cbe" stroke-width="0.8"/>
<line x1="239.8" y1="41" x2="243" y2="41" stroke="#4a5cbe" stroke-width="0.8"/>
<line x1="239.8" y1="47" x2="243" y2="47" stroke="#4a5cbe" stroke-width="0.8"/>
<line x1="247.22" y1="61" x2="247.22" y2="70" stroke="#4a5cbe" stroke-width="0.8"/>
<line x1="245.62" y1="61" x2="248.82" y2="61" stroke="#4a5cbe" stroke-width="0.8"/>
<line x1="245.62" y1="70" x2="248.82" y2="70" stroke="#4a5cbe" stroke-width="0.8"/>
<path d="M222.82,27.2 L229.2,27.5 L235.02,27.5 L241.4,30.7 L247.22,44 L253.6,56.1" fill="none" stroke="#5b99d9" stroke-width="0.9"/>
<circle cx="222.82" cy="27.2" r="2" fill="#5b99d9"/>
<circle cx="229.2" cy="27.5" r="2" fill="#5b99d9"/>
<circle cx="235.02" cy="27.5" r="2" fill="#5b99d9"/>
<circle cx="241.4" cy="30.7" r="2" fill="#5b99d9"/>
<circle cx="247.22" cy="44" r="2" fill="#5b99d9"/>
<circle cx="253.6" cy="56.1" r="2" fill="#5b99d9"/>
<line x1="253.6" y1="50" x2="253.6" y2="70" stroke="#5b99d9" stroke-width="0.8"/>
<line x1="252" y1="50" x2="255.2" y2="50" stroke="#5b99d9" stroke-width="0.8"/>
<line x1="252" y1="70" x2="255.2" y2="70" stroke="#5b99d9" stroke-width="0.8"/>
<path d="M222.82,26.6 L229.2,26.8 L235.02,27 L241.4,28.7 L247.22,33.5 L253.6,40.5" fill="none" stroke="#8cbfea" stroke-width="0.9"/>
<circle cx="222.82" cy="26.6" r="2" fill="#8cbfea"/>
<circle cx="229.2" cy="26.8" r="2" fill="#8cbfea"/>
<circle cx="235.02" cy="27" r="2" fill="#8cbfea"/>
<circle cx="241.4" cy="28.7" r="2" fill="#8cbfea"/>
<circle cx="247.22" cy="33.5" r="2" fill="#8cbfea"/>
<circle cx="253.6" cy="40.5" r="2" fill="#8cbfea"/>
<path d="M222.82,26 L229.2,26.3 L235.02,26.5 L241.4,27.3 L247.22,31.5 L253.6,39.5" fill="none" stroke="#c0dbf3" stroke-width="0.9"/>
<circle cx="222.82" cy="26" r="2" fill="#c0dbf3"/>
<circle cx="229.2" cy="26.3" r="2" fill="#c0dbf3"/>
<circle cx="235.02" cy="26.5" r="2" fill="#c0dbf3"/>
<circle cx="241.4" cy="27.3" r="2" fill="#c0dbf3"/>
<circle cx="247.22" cy="31.5" r="2" fill="#c0dbf3"/>
<circle cx="253.6" cy="39.5" r="2" fill="#c0dbf3"/>
<path d="M222.82,25.9 L229.2,27.4 L235.02,26.4 L241.4,27.9 L247.22,29.4 L253.6,33.8" fill="none" stroke="#111111" stroke-width="0.9"/>
<circle cx="222.82" cy="25.9" r="2" fill="#111111"/>
<circle cx="229.2" cy="27.4" r="2" fill="#111111"/>
<circle cx="235.02" cy="26.4" r="2" fill="#111111"/>
<circle cx="241.4" cy="27.9" r="2" fill="#111111"/>
<circle cx="247.22" cy="29.4" r="2" fill="#111111"/>
<circle cx="253.6" cy="33.8" r="2" fill="#111111"/>
<line x1="279.4" y1="26.2" x2="354" y2="26.2" stroke="#9c9c9c" stroke-width="1.05"/>
<line x1="279.4" y1="46.1" x2="354" y2="46.1" stroke="#9c9c9c" stroke-width="1.05"/>
<line x1="279.4" y1="66" x2="354" y2="66" stroke="#9c9c9c" stroke-width="1.05"/>
<line x1="279.4" y1="85.9" x2="354" y2="85.9" stroke="#9c9c9c" stroke-width="1.05"/>
<line x1="279.4" y1="22.8" x2="279.4" y2="96" stroke="#707070" stroke-width="1"/>
<line x1="279.4" y1="96" x2="354" y2="96" stroke="#707070" stroke-width="1"/>
<line x1="276.4" y1="26.2" x2="279.4" y2="26.2" stroke="#707070" stroke-width="1"/>
<text x="275.6" y="28.7" font-size="7" text-anchor="end" fill="#333" stroke="#333" stroke-width="0.16">100</text>
<line x1="276.4" y1="46.1" x2="279.4" y2="46.1" stroke="#707070" stroke-width="1"/>
<text x="275.6" y="48.6" font-size="7" text-anchor="end" fill="#333" stroke="#333" stroke-width="0.16">10</text>
<line x1="276.4" y1="66" x2="279.4" y2="66" stroke="#707070" stroke-width="1"/>
<text x="275.6" y="68.5" font-size="7" text-anchor="end" fill="#333" stroke="#333" stroke-width="0.16">1</text>
<line x1="276.4" y1="85.9" x2="279.4" y2="85.9" stroke="#707070" stroke-width="1"/>
<text x="275.6" y="88.4" font-size="7" text-anchor="end" fill="#333" stroke="#333" stroke-width="0.16">0.1</text>
<line x1="277.8" y1="40.11" x2="279.4" y2="40.11" stroke="#666" stroke-width="0.6"/>
<line x1="277.8" y1="36.61" x2="279.4" y2="36.61" stroke="#666" stroke-width="0.6"/>
<line x1="277.8" y1="34.12" x2="279.4" y2="34.12" stroke="#666" stroke-width="0.6"/>
<line x1="277.8" y1="32.19" x2="279.4" y2="32.19" stroke="#666" stroke-width="0.6"/>
<line x1="277.8" y1="30.61" x2="279.4" y2="30.61" stroke="#666" stroke-width="0.6"/>
<line x1="277.8" y1="29.28" x2="279.4" y2="29.28" stroke="#666" stroke-width="0.6"/>
<line x1="277.8" y1="28.13" x2="279.4" y2="28.13" stroke="#666" stroke-width="0.6"/>
<line x1="277.8" y1="27.11" x2="279.4" y2="27.11" stroke="#666" stroke-width="0.6"/>
<line x1="277.8" y1="60.01" x2="279.4" y2="60.01" stroke="#666" stroke-width="0.6"/>
<line x1="277.8" y1="56.51" x2="279.4" y2="56.51" stroke="#666" stroke-width="0.6"/>
<line x1="277.8" y1="54.02" x2="279.4" y2="54.02" stroke="#666" stroke-width="0.6"/>
<line x1="277.8" y1="52.09" x2="279.4" y2="52.09" stroke="#666" stroke-width="0.6"/>
<line x1="277.8" y1="50.51" x2="279.4" y2="50.51" stroke="#666" stroke-width="0.6"/>
<line x1="277.8" y1="49.18" x2="279.4" y2="49.18" stroke="#666" stroke-width="0.6"/>
<line x1="277.8" y1="48.03" x2="279.4" y2="48.03" stroke="#666" stroke-width="0.6"/>
<line x1="277.8" y1="47.01" x2="279.4" y2="47.01" stroke="#666" stroke-width="0.6"/>
<line x1="277.8" y1="79.91" x2="279.4" y2="79.91" stroke="#666" stroke-width="0.6"/>
<line x1="277.8" y1="76.41" x2="279.4" y2="76.41" stroke="#666" stroke-width="0.6"/>
<line x1="277.8" y1="73.92" x2="279.4" y2="73.92" stroke="#666" stroke-width="0.6"/>
<line x1="277.8" y1="71.99" x2="279.4" y2="71.99" stroke="#666" stroke-width="0.6"/>
<line x1="277.8" y1="70.41" x2="279.4" y2="70.41" stroke="#666" stroke-width="0.6"/>
<line x1="277.8" y1="69.08" x2="279.4" y2="69.08" stroke="#666" stroke-width="0.6"/>
<line x1="277.8" y1="67.93" x2="279.4" y2="67.93" stroke="#666" stroke-width="0.6"/>
<line x1="277.8" y1="66.91" x2="279.4" y2="66.91" stroke="#666" stroke-width="0.6"/>
<line x1="279.4" y1="96" x2="279.4" y2="99" stroke="#707070" stroke-width="1"/>
<text x="281.5" y="102.3" font-size="6.75" text-anchor="end" fill="#333" transform="rotate(-45 281.5 102.3)" stroke="#333" stroke-width="0.16">0.00001</text>
<line x1="283.1" y1="96" x2="283.1" y2="97.6" stroke="#666" stroke-width="0.6"/>
<line x1="285.27" y1="96" x2="285.27" y2="97.6" stroke="#666" stroke-width="0.6"/>
<line x1="286.81" y1="96" x2="286.81" y2="97.6" stroke="#666" stroke-width="0.6"/>
<line x1="288" y1="96" x2="288" y2="97.6" stroke="#666" stroke-width="0.6"/>
<line x1="288.97" y1="96" x2="288.97" y2="97.6" stroke="#666" stroke-width="0.6"/>
<line x1="289.79" y1="96" x2="289.79" y2="97.6" stroke="#666" stroke-width="0.6"/>
<line x1="290.51" y1="96" x2="290.51" y2="97.6" stroke="#666" stroke-width="0.6"/>
<line x1="291.14" y1="96" x2="291.14" y2="97.6" stroke="#666" stroke-width="0.6"/>
<line x1="291.7" y1="96" x2="291.7" y2="99" stroke="#707070" stroke-width="1"/>
<text x="293.8" y="102.3" font-size="6.75" text-anchor="end" fill="#333" transform="rotate(-45 293.8 102.3)" stroke="#333" stroke-width="0.16">0.0001</text>
<line x1="295.4" y1="96" x2="295.4" y2="97.6" stroke="#666" stroke-width="0.6"/>
<line x1="297.57" y1="96" x2="297.57" y2="97.6" stroke="#666" stroke-width="0.6"/>
<line x1="299.11" y1="96" x2="299.11" y2="97.6" stroke="#666" stroke-width="0.6"/>
<line x1="300.3" y1="96" x2="300.3" y2="97.6" stroke="#666" stroke-width="0.6"/>
<line x1="301.27" y1="96" x2="301.27" y2="97.6" stroke="#666" stroke-width="0.6"/>
<line x1="302.09" y1="96" x2="302.09" y2="97.6" stroke="#666" stroke-width="0.6"/>
<line x1="302.81" y1="96" x2="302.81" y2="97.6" stroke="#666" stroke-width="0.6"/>
<line x1="303.44" y1="96" x2="303.44" y2="97.6" stroke="#666" stroke-width="0.6"/>
<line x1="304" y1="96" x2="304" y2="99" stroke="#707070" stroke-width="1"/>
<text x="306.1" y="102.3" font-size="6.75" text-anchor="end" fill="#333" transform="rotate(-45 306.1 102.3)" stroke="#333" stroke-width="0.16">0.001</text>
<line x1="307.7" y1="96" x2="307.7" y2="97.6" stroke="#666" stroke-width="0.6"/>
<line x1="309.87" y1="96" x2="309.87" y2="97.6" stroke="#666" stroke-width="0.6"/>
<line x1="311.41" y1="96" x2="311.41" y2="97.6" stroke="#666" stroke-width="0.6"/>
<line x1="312.6" y1="96" x2="312.6" y2="97.6" stroke="#666" stroke-width="0.6"/>
<line x1="313.57" y1="96" x2="313.57" y2="97.6" stroke="#666" stroke-width="0.6"/>
<line x1="314.39" y1="96" x2="314.39" y2="97.6" stroke="#666" stroke-width="0.6"/>
<line x1="315.11" y1="96" x2="315.11" y2="97.6" stroke="#666" stroke-width="0.6"/>
<line x1="315.74" y1="96" x2="315.74" y2="97.6" stroke="#666" stroke-width="0.6"/>
<line x1="316.3" y1="96" x2="316.3" y2="99" stroke="#707070" stroke-width="1"/>
<text x="318.4" y="102.3" font-size="6.75" text-anchor="end" fill="#333" transform="rotate(-45 318.4 102.3)" stroke="#333" stroke-width="0.16">0.01</text>
<line x1="320" y1="96" x2="320" y2="97.6" stroke="#666" stroke-width="0.6"/>
<line x1="322.17" y1="96" x2="322.17" y2="97.6" stroke="#666" stroke-width="0.6"/>
<line x1="323.71" y1="96" x2="323.71" y2="97.6" stroke="#666" stroke-width="0.6"/>
<line x1="324.9" y1="96" x2="324.9" y2="97.6" stroke="#666" stroke-width="0.6"/>
<line x1="325.87" y1="96" x2="325.87" y2="97.6" stroke="#666" stroke-width="0.6"/>
<line x1="326.69" y1="96" x2="326.69" y2="97.6" stroke="#666" stroke-width="0.6"/>
<line x1="327.41" y1="96" x2="327.41" y2="97.6" stroke="#666" stroke-width="0.6"/>
<line x1="328.04" y1="96" x2="328.04" y2="97.6" stroke="#666" stroke-width="0.6"/>
<line x1="328.6" y1="96" x2="328.6" y2="99" stroke="#707070" stroke-width="1"/>
<text x="330.7" y="102.3" font-size="6.75" text-anchor="end" fill="#333" transform="rotate(-45 330.7 102.3)" stroke="#333" stroke-width="0.16">0.1</text>
<line x1="332.3" y1="96" x2="332.3" y2="97.6" stroke="#666" stroke-width="0.6"/>
<line x1="334.47" y1="96" x2="334.47" y2="97.6" stroke="#666" stroke-width="0.6"/>
<line x1="336.01" y1="96" x2="336.01" y2="97.6" stroke="#666" stroke-width="0.6"/>
<line x1="337.2" y1="96" x2="337.2" y2="97.6" stroke="#666" stroke-width="0.6"/>
<line x1="338.17" y1="96" x2="338.17" y2="97.6" stroke="#666" stroke-width="0.6"/>
<line x1="338.99" y1="96" x2="338.99" y2="97.6" stroke="#666" stroke-width="0.6"/>
<line x1="339.71" y1="96" x2="339.71" y2="97.6" stroke="#666" stroke-width="0.6"/>
<line x1="340.34" y1="96" x2="340.34" y2="97.6" stroke="#666" stroke-width="0.6"/>
<line x1="340.9" y1="96" x2="340.9" y2="99" stroke="#707070" stroke-width="1"/>
<text x="343" y="102.3" font-size="6.75" text-anchor="end" fill="#333" transform="rotate(-45 343 102.3)" stroke="#333" stroke-width="0.16">1</text>
<line x1="344.6" y1="96" x2="344.6" y2="97.6" stroke="#666" stroke-width="0.6"/>
<line x1="346.77" y1="96" x2="346.77" y2="97.6" stroke="#666" stroke-width="0.6"/>
<line x1="348.31" y1="96" x2="348.31" y2="97.6" stroke="#666" stroke-width="0.6"/>
<line x1="349.5" y1="96" x2="349.5" y2="97.6" stroke="#666" stroke-width="0.6"/>
<line x1="350.47" y1="96" x2="350.47" y2="97.6" stroke="#666" stroke-width="0.6"/>
<line x1="351.29" y1="96" x2="351.29" y2="97.6" stroke="#666" stroke-width="0.6"/>
<line x1="352.01" y1="96" x2="352.01" y2="97.6" stroke="#666" stroke-width="0.6"/>
<line x1="352.64" y1="96" x2="352.64" y2="97.6" stroke="#666" stroke-width="0.6"/>
<line x1="353.2" y1="96" x2="353.2" y2="99" stroke="#707070" stroke-width="1"/>
<text x="355.3" y="102.3" font-size="6.75" text-anchor="end" fill="#333" transform="rotate(-45 355.3 102.3)" stroke="#333" stroke-width="0.16">10</text>
<path d="M285.27,25.9 L291.7,26.2 L297.57,41.9 L304,54.8 L309.87,79.5" fill="none" stroke="#9a9a9a" stroke-width="0.9"/>
<circle cx="285.27" cy="25.9" r="2" fill="#9a9a9a"/>
<circle cx="291.7" cy="26.2" r="2" fill="#9a9a9a"/>
<circle cx="297.57" cy="41.9" r="2" fill="#9a9a9a"/>
<circle cx="304" cy="54.8" r="2" fill="#9a9a9a"/>
<circle cx="309.87" cy="79.5" r="2" fill="#9a9a9a"/>
<line x1="309.87" y1="75" x2="309.87" y2="84" stroke="#9a9a9a" stroke-width="0.8"/>
<line x1="308.27" y1="75" x2="311.47" y2="75" stroke="#9a9a9a" stroke-width="0.8"/>
<line x1="308.27" y1="84" x2="311.47" y2="84" stroke="#9a9a9a" stroke-width="0.8"/>
<path d="M322.17,78.8 L328.6,78.3 L334.47,79.2 L340.9,78.8 L346.77,77.7 L353.2,80" fill="none" stroke="#2b46a6" stroke-width="0.9"/>
<circle cx="322.17" cy="78.8" r="2" fill="#2b46a6"/>
<circle cx="328.6" cy="78.3" r="2" fill="#2b46a6"/>
<circle cx="334.47" cy="79.2" r="2" fill="#2b46a6"/>
<circle cx="340.9" cy="78.8" r="2" fill="#2b46a6"/>
<circle cx="346.77" cy="77.7" r="2" fill="#2b46a6"/>
<circle cx="353.2" cy="80" r="2" fill="#2b46a6"/>
<line x1="322.17" y1="75" x2="322.17" y2="84" stroke="#2b46a6" stroke-width="0.8"/>
<line x1="320.57" y1="75" x2="323.77" y2="75" stroke="#2b46a6" stroke-width="0.8"/>
<line x1="320.57" y1="84" x2="323.77" y2="84" stroke="#2b46a6" stroke-width="0.8"/>
<line x1="328.6" y1="75" x2="328.6" y2="82" stroke="#2b46a6" stroke-width="0.8"/>
<line x1="327" y1="75" x2="330.2" y2="75" stroke="#2b46a6" stroke-width="0.8"/>
<line x1="327" y1="82" x2="330.2" y2="82" stroke="#2b46a6" stroke-width="0.8"/>
<line x1="334.47" y1="76" x2="334.47" y2="82" stroke="#2b46a6" stroke-width="0.8"/>
<line x1="332.87" y1="76" x2="336.07" y2="76" stroke="#2b46a6" stroke-width="0.8"/>
<line x1="332.87" y1="82" x2="336.07" y2="82" stroke="#2b46a6" stroke-width="0.8"/>
<line x1="340.9" y1="76" x2="340.9" y2="82" stroke="#2b46a6" stroke-width="0.8"/>
<line x1="339.3" y1="76" x2="342.5" y2="76" stroke="#2b46a6" stroke-width="0.8"/>
<line x1="339.3" y1="82" x2="342.5" y2="82" stroke="#2b46a6" stroke-width="0.8"/>
<line x1="346.77" y1="75" x2="346.77" y2="82" stroke="#2b46a6" stroke-width="0.8"/>
<line x1="345.17" y1="75" x2="348.37" y2="75" stroke="#2b46a6" stroke-width="0.8"/>
<line x1="345.17" y1="82" x2="348.37" y2="82" stroke="#2b46a6" stroke-width="0.8"/>
<path d="M322.17,58.2 L328.6,57.6 L334.47,67.1 L340.9,87.6 L346.77,84.5 L353.2,74.5" fill="none" stroke="#4a5cbe" stroke-width="0.9"/>
<circle cx="322.17" cy="58.2" r="2" fill="#4a5cbe"/>
<circle cx="328.6" cy="57.6" r="2" fill="#4a5cbe"/>
<circle cx="334.47" cy="67.1" r="2" fill="#4a5cbe"/>
<circle cx="340.9" cy="87.6" r="2" fill="#4a5cbe"/>
<circle cx="346.77" cy="84.5" r="2" fill="#4a5cbe"/>
<circle cx="353.2" cy="74.5" r="2" fill="#4a5cbe"/>
<line x1="340.9" y1="84" x2="340.9" y2="91" stroke="#4a5cbe" stroke-width="0.8"/>
<line x1="339.3" y1="84" x2="342.5" y2="84" stroke="#4a5cbe" stroke-width="0.8"/>
<line x1="339.3" y1="91" x2="342.5" y2="91" stroke="#4a5cbe" stroke-width="0.8"/>
<path d="M322.17,41.3 L328.6,45.3 L334.47,48.1 L340.9,55.5 L346.77,67.4 L353.2,79.7" fill="none" stroke="#5b99d9" stroke-width="0.9"/>
<circle cx="322.17" cy="41.3" r="2" fill="#5b99d9"/>
<circle cx="328.6" cy="45.3" r="2" fill="#5b99d9"/>
<circle cx="334.47" cy="48.1" r="2" fill="#5b99d9"/>
<circle cx="340.9" cy="55.5" r="2" fill="#5b99d9"/>
<circle cx="346.77" cy="67.4" r="2" fill="#5b99d9"/>
<circle cx="353.2" cy="79.7" r="2" fill="#5b99d9"/>
<line x1="328.6" y1="41.5" x2="328.6" y2="51" stroke="#5b99d9" stroke-width="0.8"/>
<line x1="327" y1="41.5" x2="330.2" y2="41.5" stroke="#5b99d9" stroke-width="0.8"/>
<line x1="327" y1="51" x2="330.2" y2="51" stroke="#5b99d9" stroke-width="0.8"/>
<line x1="353.2" y1="74" x2="353.2" y2="86" stroke="#5b99d9" stroke-width="0.8"/>
<line x1="351.6" y1="74" x2="354.8" y2="74" stroke="#5b99d9" stroke-width="0.8"/>
<line x1="351.6" y1="86" x2="354.8" y2="86" stroke="#5b99d9" stroke-width="0.8"/>
<path d="M322.17,26 L328.6,26.3 L334.47,27.5 L340.9,34.5 L346.77,48.9 L353.2,60.8" fill="none" stroke="#8cbfea" stroke-width="0.9"/>
<circle cx="322.17" cy="26" r="2" fill="#8cbfea"/>
<circle cx="328.6" cy="26.3" r="2" fill="#8cbfea"/>
<circle cx="334.47" cy="27.5" r="2" fill="#8cbfea"/>
<circle cx="340.9" cy="34.5" r="2" fill="#8cbfea"/>
<circle cx="346.77" cy="48.9" r="2" fill="#8cbfea"/>
<circle cx="353.2" cy="60.8" r="2" fill="#8cbfea"/>
<line x1="353.2" y1="57" x2="353.2" y2="64" stroke="#8cbfea" stroke-width="0.8"/>
<line x1="351.6" y1="57" x2="354.8" y2="57" stroke="#8cbfea" stroke-width="0.8"/>
<line x1="351.6" y1="64" x2="354.8" y2="64" stroke="#8cbfea" stroke-width="0.8"/>
<path d="M322.17,25.5 L328.6,26 L334.47,28.5 L340.9,33 L346.77,37.4 L353.2,49.2" fill="none" stroke="#c0dbf3" stroke-width="0.9"/>
<circle cx="322.17" cy="25.5" r="2" fill="#c0dbf3"/>
<circle cx="328.6" cy="26" r="2" fill="#c0dbf3"/>
<circle cx="334.47" cy="28.5" r="2" fill="#c0dbf3"/>
<circle cx="340.9" cy="33" r="2" fill="#c0dbf3"/>
<circle cx="346.77" cy="37.4" r="2" fill="#c0dbf3"/>
<circle cx="353.2" cy="49.2" r="2" fill="#c0dbf3"/>
<path d="M322.17,26.3 L328.6,25.8 L334.47,26.6 L340.9,29.8 L346.77,33.9 L353.2,42.6" fill="none" stroke="#111111" stroke-width="0.9"/>
<circle cx="322.17" cy="26.3" r="2" fill="#111111"/>
<circle cx="328.6" cy="25.8" r="2" fill="#111111"/>
<circle cx="334.47" cy="26.6" r="2" fill="#111111"/>
<circle cx="340.9" cy="29.8" r="2" fill="#111111"/>
<circle cx="346.77" cy="33.9" r="2" fill="#111111"/>
<circle cx="353.2" cy="42.6" r="2" fill="#111111"/>
<line x1="382.2" y1="26.7" x2="456.5" y2="26.7" stroke="#9c9c9c" stroke-width="1.05"/>
<line x1="382.2" y1="44.45" x2="456.5" y2="44.45" stroke="#9c9c9c" stroke-width="1.05"/>
<line x1="382.2" y1="62.2" x2="456.5" y2="62.2" stroke="#9c9c9c" stroke-width="1.05"/>
<line x1="382.2" y1="79.95" x2="456.5" y2="79.95" stroke="#9c9c9c" stroke-width="1.05"/>
<line x1="382.2" y1="23.3" x2="382.2" y2="97.6" stroke="#707070" stroke-width="1"/>
<line x1="382.2" y1="97.6" x2="456.5" y2="97.6" stroke="#707070" stroke-width="1"/>
<line x1="379.2" y1="26.7" x2="382.2" y2="26.7" stroke="#707070" stroke-width="1"/>
<text x="378.4" y="29.2" font-size="7" text-anchor="end" fill="#333" stroke="#333" stroke-width="0.16">100</text>
<line x1="379.2" y1="44.45" x2="382.2" y2="44.45" stroke="#707070" stroke-width="1"/>
<text x="378.4" y="46.95" font-size="7" text-anchor="end" fill="#333" stroke="#333" stroke-width="0.16">10</text>
<line x1="379.2" y1="62.2" x2="382.2" y2="62.2" stroke="#707070" stroke-width="1"/>
<text x="378.4" y="64.7" font-size="7" text-anchor="end" fill="#333" stroke="#333" stroke-width="0.16">1</text>
<line x1="379.2" y1="79.95" x2="382.2" y2="79.95" stroke="#707070" stroke-width="1"/>
<text x="378.4" y="82.45" font-size="7" text-anchor="end" fill="#333" stroke="#333" stroke-width="0.16">0.1</text>
<line x1="379.2" y1="97.7" x2="382.2" y2="97.7" stroke="#707070" stroke-width="1"/>
<text x="378.4" y="100.2" font-size="7" text-anchor="end" fill="#333" stroke="#333" stroke-width="0.16">0.01</text>
<line x1="380.6" y1="39.11" x2="382.2" y2="39.11" stroke="#666" stroke-width="0.6"/>
<line x1="380.6" y1="35.98" x2="382.2" y2="35.98" stroke="#666" stroke-width="0.6"/>
<line x1="380.6" y1="33.76" x2="382.2" y2="33.76" stroke="#666" stroke-width="0.6"/>
<line x1="380.6" y1="32.04" x2="382.2" y2="32.04" stroke="#666" stroke-width="0.6"/>
<line x1="380.6" y1="30.64" x2="382.2" y2="30.64" stroke="#666" stroke-width="0.6"/>
<line x1="380.6" y1="29.45" x2="382.2" y2="29.45" stroke="#666" stroke-width="0.6"/>
<line x1="380.6" y1="28.42" x2="382.2" y2="28.42" stroke="#666" stroke-width="0.6"/>
<line x1="380.6" y1="27.51" x2="382.2" y2="27.51" stroke="#666" stroke-width="0.6"/>
<line x1="380.6" y1="56.86" x2="382.2" y2="56.86" stroke="#666" stroke-width="0.6"/>
<line x1="380.6" y1="53.73" x2="382.2" y2="53.73" stroke="#666" stroke-width="0.6"/>
<line x1="380.6" y1="51.51" x2="382.2" y2="51.51" stroke="#666" stroke-width="0.6"/>
<line x1="380.6" y1="49.79" x2="382.2" y2="49.79" stroke="#666" stroke-width="0.6"/>
<line x1="380.6" y1="48.39" x2="382.2" y2="48.39" stroke="#666" stroke-width="0.6"/>
<line x1="380.6" y1="47.2" x2="382.2" y2="47.2" stroke="#666" stroke-width="0.6"/>
<line x1="380.6" y1="46.17" x2="382.2" y2="46.17" stroke="#666" stroke-width="0.6"/>
<line x1="380.6" y1="45.26" x2="382.2" y2="45.26" stroke="#666" stroke-width="0.6"/>
<line x1="380.6" y1="74.61" x2="382.2" y2="74.61" stroke="#666" stroke-width="0.6"/>
<line x1="380.6" y1="71.48" x2="382.2" y2="71.48" stroke="#666" stroke-width="0.6"/>
<line x1="380.6" y1="69.26" x2="382.2" y2="69.26" stroke="#666" stroke-width="0.6"/>
<line x1="380.6" y1="67.54" x2="382.2" y2="67.54" stroke="#666" stroke-width="0.6"/>
<line x1="380.6" y1="66.14" x2="382.2" y2="66.14" stroke="#666" stroke-width="0.6"/>
<line x1="380.6" y1="64.95" x2="382.2" y2="64.95" stroke="#666" stroke-width="0.6"/>
<line x1="380.6" y1="63.92" x2="382.2" y2="63.92" stroke="#666" stroke-width="0.6"/>
<line x1="380.6" y1="63.01" x2="382.2" y2="63.01" stroke="#666" stroke-width="0.6"/>
<line x1="380.6" y1="92.36" x2="382.2" y2="92.36" stroke="#666" stroke-width="0.6"/>
<line x1="380.6" y1="89.23" x2="382.2" y2="89.23" stroke="#666" stroke-width="0.6"/>
<line x1="380.6" y1="87.01" x2="382.2" y2="87.01" stroke="#666" stroke-width="0.6"/>
<line x1="380.6" y1="85.29" x2="382.2" y2="85.29" stroke="#666" stroke-width="0.6"/>
<line x1="380.6" y1="83.89" x2="382.2" y2="83.89" stroke="#666" stroke-width="0.6"/>
<line x1="380.6" y1="82.7" x2="382.2" y2="82.7" stroke="#666" stroke-width="0.6"/>
<line x1="380.6" y1="81.67" x2="382.2" y2="81.67" stroke="#666" stroke-width="0.6"/>
<line x1="380.6" y1="80.76" x2="382.2" y2="80.76" stroke="#666" stroke-width="0.6"/>
<line x1="382.2" y1="97.6" x2="382.2" y2="100.6" stroke="#707070" stroke-width="1"/>
<text x="384.3" y="103.9" font-size="6.75" text-anchor="end" fill="#333" transform="rotate(-45 384.3 103.9)" stroke="#333" stroke-width="0.16">0.00001</text>
<line x1="385.89" y1="97.6" x2="385.89" y2="99.2" stroke="#666" stroke-width="0.6"/>
<line x1="388.04" y1="97.6" x2="388.04" y2="99.2" stroke="#666" stroke-width="0.6"/>
<line x1="389.58" y1="97.6" x2="389.58" y2="99.2" stroke="#666" stroke-width="0.6"/>
<line x1="390.76" y1="97.6" x2="390.76" y2="99.2" stroke="#666" stroke-width="0.6"/>
<line x1="391.73" y1="97.6" x2="391.73" y2="99.2" stroke="#666" stroke-width="0.6"/>
<line x1="392.55" y1="97.6" x2="392.55" y2="99.2" stroke="#666" stroke-width="0.6"/>
<line x1="393.26" y1="97.6" x2="393.26" y2="99.2" stroke="#666" stroke-width="0.6"/>
<line x1="393.89" y1="97.6" x2="393.89" y2="99.2" stroke="#666" stroke-width="0.6"/>
<line x1="394.45" y1="97.6" x2="394.45" y2="100.6" stroke="#707070" stroke-width="1"/>
<text x="396.55" y="103.9" font-size="6.75" text-anchor="end" fill="#333" transform="rotate(-45 396.55 103.9)" stroke="#333" stroke-width="0.16">0.0001</text>
<line x1="398.14" y1="97.6" x2="398.14" y2="99.2" stroke="#666" stroke-width="0.6"/>
<line x1="400.29" y1="97.6" x2="400.29" y2="99.2" stroke="#666" stroke-width="0.6"/>
<line x1="401.83" y1="97.6" x2="401.83" y2="99.2" stroke="#666" stroke-width="0.6"/>
<line x1="403.01" y1="97.6" x2="403.01" y2="99.2" stroke="#666" stroke-width="0.6"/>
<line x1="403.98" y1="97.6" x2="403.98" y2="99.2" stroke="#666" stroke-width="0.6"/>
<line x1="404.8" y1="97.6" x2="404.8" y2="99.2" stroke="#666" stroke-width="0.6"/>
<line x1="405.51" y1="97.6" x2="405.51" y2="99.2" stroke="#666" stroke-width="0.6"/>
<line x1="406.14" y1="97.6" x2="406.14" y2="99.2" stroke="#666" stroke-width="0.6"/>
<line x1="406.7" y1="97.6" x2="406.7" y2="100.6" stroke="#707070" stroke-width="1"/>
<text x="408.8" y="103.9" font-size="6.75" text-anchor="end" fill="#333" transform="rotate(-45 408.8 103.9)" stroke="#333" stroke-width="0.16">0.001</text>
<line x1="410.39" y1="97.6" x2="410.39" y2="99.2" stroke="#666" stroke-width="0.6"/>
<line x1="412.54" y1="97.6" x2="412.54" y2="99.2" stroke="#666" stroke-width="0.6"/>
<line x1="414.08" y1="97.6" x2="414.08" y2="99.2" stroke="#666" stroke-width="0.6"/>
<line x1="415.26" y1="97.6" x2="415.26" y2="99.2" stroke="#666" stroke-width="0.6"/>
<line x1="416.23" y1="97.6" x2="416.23" y2="99.2" stroke="#666" stroke-width="0.6"/>
<line x1="417.05" y1="97.6" x2="417.05" y2="99.2" stroke="#666" stroke-width="0.6"/>
<line x1="417.76" y1="97.6" x2="417.76" y2="99.2" stroke="#666" stroke-width="0.6"/>
<line x1="418.39" y1="97.6" x2="418.39" y2="99.2" stroke="#666" stroke-width="0.6"/>
<line x1="418.95" y1="97.6" x2="418.95" y2="100.6" stroke="#707070" stroke-width="1"/>
<text x="421.05" y="103.9" font-size="6.75" text-anchor="end" fill="#333" transform="rotate(-45 421.05 103.9)" stroke="#333" stroke-width="0.16">0.01</text>
<line x1="422.64" y1="97.6" x2="422.64" y2="99.2" stroke="#666" stroke-width="0.6"/>
<line x1="424.79" y1="97.6" x2="424.79" y2="99.2" stroke="#666" stroke-width="0.6"/>
<line x1="426.33" y1="97.6" x2="426.33" y2="99.2" stroke="#666" stroke-width="0.6"/>
<line x1="427.51" y1="97.6" x2="427.51" y2="99.2" stroke="#666" stroke-width="0.6"/>
<line x1="428.48" y1="97.6" x2="428.48" y2="99.2" stroke="#666" stroke-width="0.6"/>
<line x1="429.3" y1="97.6" x2="429.3" y2="99.2" stroke="#666" stroke-width="0.6"/>
<line x1="430.01" y1="97.6" x2="430.01" y2="99.2" stroke="#666" stroke-width="0.6"/>
<line x1="430.64" y1="97.6" x2="430.64" y2="99.2" stroke="#666" stroke-width="0.6"/>
<line x1="431.2" y1="97.6" x2="431.2" y2="100.6" stroke="#707070" stroke-width="1"/>
<text x="433.3" y="103.9" font-size="6.75" text-anchor="end" fill="#333" transform="rotate(-45 433.3 103.9)" stroke="#333" stroke-width="0.16">0.1</text>
<line x1="434.89" y1="97.6" x2="434.89" y2="99.2" stroke="#666" stroke-width="0.6"/>
<line x1="437.04" y1="97.6" x2="437.04" y2="99.2" stroke="#666" stroke-width="0.6"/>
<line x1="438.58" y1="97.6" x2="438.58" y2="99.2" stroke="#666" stroke-width="0.6"/>
<line x1="439.76" y1="97.6" x2="439.76" y2="99.2" stroke="#666" stroke-width="0.6"/>
<line x1="440.73" y1="97.6" x2="440.73" y2="99.2" stroke="#666" stroke-width="0.6"/>
<line x1="441.55" y1="97.6" x2="441.55" y2="99.2" stroke="#666" stroke-width="0.6"/>
<line x1="442.26" y1="97.6" x2="442.26" y2="99.2" stroke="#666" stroke-width="0.6"/>
<line x1="442.89" y1="97.6" x2="442.89" y2="99.2" stroke="#666" stroke-width="0.6"/>
<line x1="443.45" y1="97.6" x2="443.45" y2="100.6" stroke="#707070" stroke-width="1"/>
<text x="445.55" y="103.9" font-size="6.75" text-anchor="end" fill="#333" transform="rotate(-45 445.55 103.9)" stroke="#333" stroke-width="0.16">1</text>
<line x1="447.14" y1="97.6" x2="447.14" y2="99.2" stroke="#666" stroke-width="0.6"/>
<line x1="449.29" y1="97.6" x2="449.29" y2="99.2" stroke="#666" stroke-width="0.6"/>
<line x1="450.83" y1="97.6" x2="450.83" y2="99.2" stroke="#666" stroke-width="0.6"/>
<line x1="452.01" y1="97.6" x2="452.01" y2="99.2" stroke="#666" stroke-width="0.6"/>
<line x1="452.98" y1="97.6" x2="452.98" y2="99.2" stroke="#666" stroke-width="0.6"/>
<line x1="453.8" y1="97.6" x2="453.8" y2="99.2" stroke="#666" stroke-width="0.6"/>
<line x1="454.51" y1="97.6" x2="454.51" y2="99.2" stroke="#666" stroke-width="0.6"/>
<line x1="455.14" y1="97.6" x2="455.14" y2="99.2" stroke="#666" stroke-width="0.6"/>
<line x1="455.7" y1="97.6" x2="455.7" y2="100.6" stroke="#707070" stroke-width="1"/>
<text x="457.8" y="103.9" font-size="6.75" text-anchor="end" fill="#333" transform="rotate(-45 457.8 103.9)" stroke="#333" stroke-width="0.16">10</text>
<path d="M388.04,26.6 L394.45,38.7 L400.29,64.3 L406.7,65.1 L412.54,79.6" fill="none" stroke="#9a9a9a" stroke-width="0.9"/>
<circle cx="388.04" cy="26.6" r="2" fill="#9a9a9a"/>
<circle cx="394.45" cy="38.7" r="2" fill="#9a9a9a"/>
<circle cx="400.29" cy="64.3" r="2" fill="#9a9a9a"/>
<circle cx="406.7" cy="65.1" r="2" fill="#9a9a9a"/>
<circle cx="412.54" cy="79.6" r="2" fill="#9a9a9a"/>
<line x1="412.54" y1="76" x2="412.54" y2="86.4" stroke="#9a9a9a" stroke-width="0.8"/>
<line x1="410.94" y1="76" x2="414.14" y2="76" stroke="#9a9a9a" stroke-width="0.8"/>
<line x1="410.94" y1="86.4" x2="414.14" y2="86.4" stroke="#9a9a9a" stroke-width="0.8"/>
<path d="M424.79,80.1 L431.2,80.1 L437.04,80.1 L443.45,80.1 L449.29,90.8 L455.7,77.7" fill="none" stroke="#2b46a6" stroke-width="0.9"/>
<circle cx="424.79" cy="80.1" r="2" fill="#2b46a6"/>
<circle cx="431.2" cy="80.1" r="2" fill="#2b46a6"/>
<circle cx="437.04" cy="80.1" r="2" fill="#2b46a6"/>
<circle cx="443.45" cy="80.1" r="2" fill="#2b46a6"/>
<circle cx="449.29" cy="90.8" r="2" fill="#2b46a6"/>
<circle cx="455.7" cy="77.7" r="2" fill="#2b46a6"/>
<line x1="424.79" y1="76" x2="424.79" y2="85" stroke="#2b46a6" stroke-width="0.8"/>
<line x1="423.19" y1="76" x2="426.39" y2="76" stroke="#2b46a6" stroke-width="0.8"/>
<line x1="423.19" y1="85" x2="426.39" y2="85" stroke="#2b46a6" stroke-width="0.8"/>
<line x1="431.2" y1="76" x2="431.2" y2="84" stroke="#2b46a6" stroke-width="0.8"/>
<line x1="429.6" y1="76" x2="432.8" y2="76" stroke="#2b46a6" stroke-width="0.8"/>
<line x1="429.6" y1="84" x2="432.8" y2="84" stroke="#2b46a6" stroke-width="0.8"/>
<line x1="437.04" y1="77" x2="437.04" y2="84" stroke="#2b46a6" stroke-width="0.8"/>
<line x1="435.44" y1="77" x2="438.64" y2="77" stroke="#2b46a6" stroke-width="0.8"/>
<line x1="435.44" y1="84" x2="438.64" y2="84" stroke="#2b46a6" stroke-width="0.8"/>
<line x1="443.45" y1="76" x2="443.45" y2="84" stroke="#2b46a6" stroke-width="0.8"/>
<line x1="441.85" y1="76" x2="445.05" y2="76" stroke="#2b46a6" stroke-width="0.8"/>
<line x1="441.85" y1="84" x2="445.05" y2="84" stroke="#2b46a6" stroke-width="0.8"/>
<line x1="455.7" y1="74" x2="455.7" y2="83" stroke="#2b46a6" stroke-width="0.8"/>
<line x1="454.1" y1="74" x2="457.3" y2="74" stroke="#2b46a6" stroke-width="0.8"/>
<line x1="454.1" y1="83" x2="457.3" y2="83" stroke="#2b46a6" stroke-width="0.8"/>
<path d="M424.79,65.5 L431.2,65.5 L437.04,67.1 L443.45,75.7 L449.29,79.3 L455.7,75.3" fill="none" stroke="#4a5cbe" stroke-width="0.9"/>
<circle cx="424.79" cy="65.5" r="2" fill="#4a5cbe"/>
<circle cx="431.2" cy="65.5" r="2" fill="#4a5cbe"/>
<circle cx="437.04" cy="67.1" r="2" fill="#4a5cbe"/>
<circle cx="443.45" cy="75.7" r="2" fill="#4a5cbe"/>
<circle cx="449.29" cy="79.3" r="2" fill="#4a5cbe"/>
<circle cx="455.7" cy="75.3" r="2" fill="#4a5cbe"/>
<path d="M424.79,65 L431.2,64.6 L437.04,64.6 L443.45,66.3 L449.29,70.6 L455.7,79.3" fill="none" stroke="#5b99d9" stroke-width="0.9"/>
<circle cx="424.79" cy="65" r="2" fill="#5b99d9"/>
<circle cx="431.2" cy="64.6" r="2" fill="#5b99d9"/>
<circle cx="437.04" cy="64.6" r="2" fill="#5b99d9"/>
<circle cx="443.45" cy="66.3" r="2" fill="#5b99d9"/>
<circle cx="449.29" cy="70.6" r="2" fill="#5b99d9"/>
<circle cx="455.7" cy="79.3" r="2" fill="#5b99d9"/>
<line x1="424.79" y1="62" x2="424.79" y2="68" stroke="#5b99d9" stroke-width="0.8"/>
<line x1="423.19" y1="62" x2="426.39" y2="62" stroke="#5b99d9" stroke-width="0.8"/>
<line x1="423.19" y1="68" x2="426.39" y2="68" stroke="#5b99d9" stroke-width="0.8"/>
<line x1="455.7" y1="75" x2="455.7" y2="84" stroke="#5b99d9" stroke-width="0.8"/>
<line x1="454.1" y1="75" x2="457.3" y2="75" stroke="#5b99d9" stroke-width="0.8"/>
<line x1="454.1" y1="84" x2="457.3" y2="84" stroke="#5b99d9" stroke-width="0.8"/>
<path d="M424.79,39.3 L431.2,42.9 L437.04,50.4 L443.45,66.2 L449.29,69 L455.7,74.5" fill="none" stroke="#8cbfea" stroke-width="0.9"/>
<circle cx="424.79" cy="39.3" r="2" fill="#8cbfea"/>
<circle cx="431.2" cy="42.9" r="2" fill="#8cbfea"/>
<circle cx="437.04" cy="50.4" r="2" fill="#8cbfea"/>
<circle cx="443.45" cy="66.2" r="2" fill="#8cbfea"/>
<circle cx="449.29" cy="69" r="2" fill="#8cbfea"/>
<circle cx="455.7" cy="74.5" r="2" fill="#8cbfea"/>
<line x1="449.29" y1="66" x2="449.29" y2="72" stroke="#8cbfea" stroke-width="0.8"/>
<line x1="447.69" y1="66" x2="450.89" y2="66" stroke="#8cbfea" stroke-width="0.8"/>
<line x1="447.69" y1="72" x2="450.89" y2="72" stroke="#8cbfea" stroke-width="0.8"/>
<path d="M424.79,26.5 L431.2,27 L437.04,29.5 L443.45,35.5 L449.29,61.4 L455.7,71.4" fill="none" stroke="#c0dbf3" stroke-width="0.9"/>
<circle cx="424.79" cy="26.5" r="2" fill="#c0dbf3"/>
<circle cx="431.2" cy="27" r="2" fill="#c0dbf3"/>
<circle cx="437.04" cy="29.5" r="2" fill="#c0dbf3"/>
<circle cx="443.45" cy="35.5" r="2" fill="#c0dbf3"/>
<circle cx="449.29" cy="61.4" r="2" fill="#c0dbf3"/>
<circle cx="455.7" cy="71.4" r="2" fill="#c0dbf3"/>
<line x1="449.29" y1="58" x2="449.29" y2="65" stroke="#c0dbf3" stroke-width="0.8"/>
<line x1="447.69" y1="58" x2="450.89" y2="58" stroke="#c0dbf3" stroke-width="0.8"/>
<line x1="447.69" y1="65" x2="450.89" y2="65" stroke="#c0dbf3" stroke-width="0.8"/>
<path d="M424.79,26.6 L431.2,26.6 L437.04,26.8 L443.45,27.4 L449.29,29.2 L455.7,43.7" fill="none" stroke="#111111" stroke-width="0.9"/>
<circle cx="424.79" cy="26.6" r="2" fill="#111111"/>
<circle cx="431.2" cy="26.6" r="2" fill="#111111"/>
<circle cx="437.04" cy="26.8" r="2" fill="#111111"/>
<circle cx="443.45" cy="27.4" r="2" fill="#111111"/>
<circle cx="449.29" cy="29.2" r="2" fill="#111111"/>
<circle cx="455.7" cy="43.7" r="2" fill="#111111"/>
<line x1="460.6" y1="23.5" x2="471.3" y2="23.5" stroke="#111111" stroke-width="0.9"/>
<circle cx="466.1" cy="23.5" r="1.3" fill="#111111"/>
<text x="472.8" y="25" font-size="6.25" text-anchor="start" fill="#222" stroke="#222" stroke-width="0.16">Nedisertib</text>
<line x1="460.6" y1="30.62" x2="471.3" y2="30.62" stroke="#9a9a9a" stroke-width="0.9"/>
<circle cx="466.1" cy="30.62" r="1.3" fill="#9a9a9a"/>
<text x="472.8" y="32.12" font-size="6.25" text-anchor="start" fill="#222" stroke="#222" stroke-width="0.16">Trab</text>
<line x1="460.6" y1="37.74" x2="471.3" y2="37.74" stroke="#c0dbf3" stroke-width="0.9"/>
<circle cx="466.1" cy="37.74" r="1.3" fill="#c0dbf3"/>
<text x="472.8" y="39.24" font-size="6.25" text-anchor="start" fill="#222" stroke="#222" stroke-width="0.16">0.03 nmol/L Trab</text>
<line x1="460.6" y1="44.86" x2="471.3" y2="44.86" stroke="#8cbfea" stroke-width="0.9"/>
<circle cx="466.1" cy="44.86" r="1.3" fill="#8cbfea"/>
<text x="472.8" y="46.36" font-size="6.25" text-anchor="start" fill="#222" stroke="#222" stroke-width="0.16">0.1 nmol/L Trab</text>
<line x1="460.6" y1="51.98" x2="471.3" y2="51.98" stroke="#5b99d9" stroke-width="0.9"/>
<circle cx="466.1" cy="51.98" r="1.3" fill="#5b99d9"/>
<text x="472.8" y="53.48" font-size="6.25" text-anchor="start" fill="#222" stroke="#222" stroke-width="0.16">0.3 nmol/L Trab</text>
<line x1="460.6" y1="59.1" x2="471.3" y2="59.1" stroke="#4a5cbe" stroke-width="0.9"/>
<circle cx="466.1" cy="59.1" r="1.3" fill="#4a5cbe"/>
<text x="472.8" y="60.6" font-size="6.25" text-anchor="start" fill="#222" stroke="#222" stroke-width="0.16">1 nmol/L Trab</text>
<line x1="460.6" y1="66.22" x2="471.3" y2="66.22" stroke="#2b46a6" stroke-width="0.9"/>
<circle cx="466.1" cy="66.22" r="1.3" fill="#2b46a6"/>
<text x="472.8" y="67.72" font-size="6.25" text-anchor="start" fill="#222" stroke="#222" stroke-width="0.16">3 nmol/L Trab</text>
<line x1="180.4" y1="274" x2="254.22" y2="274" stroke="#9c9c9c" stroke-width="1.05"/>
<line x1="180.4" y1="307.85" x2="254.22" y2="307.85" stroke="#9c9c9c" stroke-width="1.05"/>
<line x1="180.4" y1="268" x2="180.4" y2="341.7" stroke="#707070" stroke-width="1"/>
<line x1="180.4" y1="341.7" x2="254.22" y2="341.7" stroke="#707070" stroke-width="1"/>
<line x1="177.4" y1="274" x2="180.4" y2="274" stroke="#707070" stroke-width="1"/>
<text x="176.6" y="276.5" font-size="7" text-anchor="end" fill="#333" stroke="#333" stroke-width="0.16">100</text>
<line x1="177.4" y1="307.85" x2="180.4" y2="307.85" stroke="#707070" stroke-width="1"/>
<text x="176.6" y="310.35" font-size="7" text-anchor="end" fill="#333" stroke="#333" stroke-width="0.16">10</text>
<line x1="177.4" y1="341.7" x2="180.4" y2="341.7" stroke="#707070" stroke-width="1"/>
<text x="176.6" y="344.2" font-size="7" text-anchor="end" fill="#333" stroke="#333" stroke-width="0.16">1</text>
<line x1="178.8" y1="297.66" x2="180.4" y2="297.66" stroke="#666" stroke-width="0.6"/>
<line x1="178.8" y1="291.7" x2="180.4" y2="291.7" stroke="#666" stroke-width="0.6"/>
<line x1="178.8" y1="287.47" x2="180.4" y2="287.47" stroke="#666" stroke-width="0.6"/>
<line x1="178.8" y1="284.19" x2="180.4" y2="284.19" stroke="#666" stroke-width="0.6"/>
<line x1="178.8" y1="281.51" x2="180.4" y2="281.51" stroke="#666" stroke-width="0.6"/>
<line x1="178.8" y1="279.24" x2="180.4" y2="279.24" stroke="#666" stroke-width="0.6"/>
<line x1="178.8" y1="277.28" x2="180.4" y2="277.28" stroke="#666" stroke-width="0.6"/>
<line x1="178.8" y1="275.55" x2="180.4" y2="275.55" stroke="#666" stroke-width="0.6"/>
<line x1="178.8" y1="331.51" x2="180.4" y2="331.51" stroke="#666" stroke-width="0.6"/>
<line x1="178.8" y1="325.55" x2="180.4" y2="325.55" stroke="#666" stroke-width="0.6"/>
<line x1="178.8" y1="321.32" x2="180.4" y2="321.32" stroke="#666" stroke-width="0.6"/>
<line x1="178.8" y1="318.04" x2="180.4" y2="318.04" stroke="#666" stroke-width="0.6"/>
<line x1="178.8" y1="315.36" x2="180.4" y2="315.36" stroke="#666" stroke-width="0.6"/>
<line x1="178.8" y1="313.09" x2="180.4" y2="313.09" stroke="#666" stroke-width="0.6"/>
<line x1="178.8" y1="311.13" x2="180.4" y2="311.13" stroke="#666" stroke-width="0.6"/>
<line x1="178.8" y1="309.4" x2="180.4" y2="309.4" stroke="#666" stroke-width="0.6"/>
<line x1="180.4" y1="341.7" x2="180.4" y2="344.7" stroke="#707070" stroke-width="1"/>
<text x="182.5" y="348" font-size="6.75" text-anchor="end" fill="#333" transform="rotate(-45 182.5 348)" stroke="#333" stroke-width="0.16">0.00001</text>
<line x1="184.06" y1="341.7" x2="184.06" y2="343.3" stroke="#666" stroke-width="0.6"/>
<line x1="186.21" y1="341.7" x2="186.21" y2="343.3" stroke="#666" stroke-width="0.6"/>
<line x1="187.73" y1="341.7" x2="187.73" y2="343.3" stroke="#666" stroke-width="0.6"/>
<line x1="188.91" y1="341.7" x2="188.91" y2="343.3" stroke="#666" stroke-width="0.6"/>
<line x1="189.87" y1="341.7" x2="189.87" y2="343.3" stroke="#666" stroke-width="0.6"/>
<line x1="190.68" y1="341.7" x2="190.68" y2="343.3" stroke="#666" stroke-width="0.6"/>
<line x1="191.39" y1="341.7" x2="191.39" y2="343.3" stroke="#666" stroke-width="0.6"/>
<line x1="192.01" y1="341.7" x2="192.01" y2="343.3" stroke="#666" stroke-width="0.6"/>
<line x1="192.57" y1="341.7" x2="192.57" y2="344.7" stroke="#707070" stroke-width="1"/>
<text x="194.67" y="348" font-size="6.75" text-anchor="end" fill="#333" transform="rotate(-45 194.67 348)" stroke="#333" stroke-width="0.16">0.0001</text>
<line x1="196.23" y1="341.7" x2="196.23" y2="343.3" stroke="#666" stroke-width="0.6"/>
<line x1="198.38" y1="341.7" x2="198.38" y2="343.3" stroke="#666" stroke-width="0.6"/>
<line x1="199.9" y1="341.7" x2="199.9" y2="343.3" stroke="#666" stroke-width="0.6"/>
<line x1="201.08" y1="341.7" x2="201.08" y2="343.3" stroke="#666" stroke-width="0.6"/>
<line x1="202.04" y1="341.7" x2="202.04" y2="343.3" stroke="#666" stroke-width="0.6"/>
<line x1="202.85" y1="341.7" x2="202.85" y2="343.3" stroke="#666" stroke-width="0.6"/>
<line x1="203.56" y1="341.7" x2="203.56" y2="343.3" stroke="#666" stroke-width="0.6"/>
<line x1="204.18" y1="341.7" x2="204.18" y2="343.3" stroke="#666" stroke-width="0.6"/>
<line x1="204.74" y1="341.7" x2="204.74" y2="344.7" stroke="#707070" stroke-width="1"/>
<text x="206.84" y="348" font-size="6.75" text-anchor="end" fill="#333" transform="rotate(-45 206.84 348)" stroke="#333" stroke-width="0.16">0.001</text>
<line x1="208.4" y1="341.7" x2="208.4" y2="343.3" stroke="#666" stroke-width="0.6"/>
<line x1="210.55" y1="341.7" x2="210.55" y2="343.3" stroke="#666" stroke-width="0.6"/>
<line x1="212.07" y1="341.7" x2="212.07" y2="343.3" stroke="#666" stroke-width="0.6"/>
<line x1="213.25" y1="341.7" x2="213.25" y2="343.3" stroke="#666" stroke-width="0.6"/>
<line x1="214.21" y1="341.7" x2="214.21" y2="343.3" stroke="#666" stroke-width="0.6"/>
<line x1="215.02" y1="341.7" x2="215.02" y2="343.3" stroke="#666" stroke-width="0.6"/>
<line x1="215.73" y1="341.7" x2="215.73" y2="343.3" stroke="#666" stroke-width="0.6"/>
<line x1="216.35" y1="341.7" x2="216.35" y2="343.3" stroke="#666" stroke-width="0.6"/>
<line x1="216.91" y1="341.7" x2="216.91" y2="344.7" stroke="#707070" stroke-width="1"/>
<text x="219.01" y="348" font-size="6.75" text-anchor="end" fill="#333" transform="rotate(-45 219.01 348)" stroke="#333" stroke-width="0.16">0.01</text>
<line x1="220.57" y1="341.7" x2="220.57" y2="343.3" stroke="#666" stroke-width="0.6"/>
<line x1="222.72" y1="341.7" x2="222.72" y2="343.3" stroke="#666" stroke-width="0.6"/>
<line x1="224.24" y1="341.7" x2="224.24" y2="343.3" stroke="#666" stroke-width="0.6"/>
<line x1="225.42" y1="341.7" x2="225.42" y2="343.3" stroke="#666" stroke-width="0.6"/>
<line x1="226.38" y1="341.7" x2="226.38" y2="343.3" stroke="#666" stroke-width="0.6"/>
<line x1="227.19" y1="341.7" x2="227.19" y2="343.3" stroke="#666" stroke-width="0.6"/>
<line x1="227.9" y1="341.7" x2="227.9" y2="343.3" stroke="#666" stroke-width="0.6"/>
<line x1="228.52" y1="341.7" x2="228.52" y2="343.3" stroke="#666" stroke-width="0.6"/>
<line x1="229.08" y1="341.7" x2="229.08" y2="344.7" stroke="#707070" stroke-width="1"/>
<text x="231.18" y="348" font-size="6.75" text-anchor="end" fill="#333" transform="rotate(-45 231.18 348)" stroke="#333" stroke-width="0.16">0.1</text>
<line x1="232.74" y1="341.7" x2="232.74" y2="343.3" stroke="#666" stroke-width="0.6"/>
<line x1="234.89" y1="341.7" x2="234.89" y2="343.3" stroke="#666" stroke-width="0.6"/>
<line x1="236.41" y1="341.7" x2="236.41" y2="343.3" stroke="#666" stroke-width="0.6"/>
<line x1="237.59" y1="341.7" x2="237.59" y2="343.3" stroke="#666" stroke-width="0.6"/>
<line x1="238.55" y1="341.7" x2="238.55" y2="343.3" stroke="#666" stroke-width="0.6"/>
<line x1="239.36" y1="341.7" x2="239.36" y2="343.3" stroke="#666" stroke-width="0.6"/>
<line x1="240.07" y1="341.7" x2="240.07" y2="343.3" stroke="#666" stroke-width="0.6"/>
<line x1="240.69" y1="341.7" x2="240.69" y2="343.3" stroke="#666" stroke-width="0.6"/>
<line x1="241.25" y1="341.7" x2="241.25" y2="344.7" stroke="#707070" stroke-width="1"/>
<text x="243.35" y="348" font-size="6.75" text-anchor="end" fill="#333" transform="rotate(-45 243.35 348)" stroke="#333" stroke-width="0.16">1</text>
<line x1="244.91" y1="341.7" x2="244.91" y2="343.3" stroke="#666" stroke-width="0.6"/>
<line x1="247.06" y1="341.7" x2="247.06" y2="343.3" stroke="#666" stroke-width="0.6"/>
<line x1="248.58" y1="341.7" x2="248.58" y2="343.3" stroke="#666" stroke-width="0.6"/>
<line x1="249.76" y1="341.7" x2="249.76" y2="343.3" stroke="#666" stroke-width="0.6"/>
<line x1="250.72" y1="341.7" x2="250.72" y2="343.3" stroke="#666" stroke-width="0.6"/>
<line x1="251.53" y1="341.7" x2="251.53" y2="343.3" stroke="#666" stroke-width="0.6"/>
<line x1="252.24" y1="341.7" x2="252.24" y2="343.3" stroke="#666" stroke-width="0.6"/>
<line x1="252.86" y1="341.7" x2="252.86" y2="343.3" stroke="#666" stroke-width="0.6"/>
<line x1="253.42" y1="341.7" x2="253.42" y2="344.7" stroke="#707070" stroke-width="1"/>
<text x="255.52" y="348" font-size="6.75" text-anchor="end" fill="#333" transform="rotate(-45 255.52 348)" stroke="#333" stroke-width="0.16">10</text>
<path d="M186.21,274 L192.57,274 L198.38,275 L204.74,280.8 L210.55,296.9" fill="none" stroke="#9a9a9a" stroke-width="0.9"/>
<circle cx="186.21" cy="274" r="2" fill="#9a9a9a"/>
<circle cx="192.57" cy="274" r="2" fill="#9a9a9a"/>
<circle cx="198.38" cy="275" r="2" fill="#9a9a9a"/>
<circle cx="204.74" cy="280.8" r="2" fill="#9a9a9a"/>
<circle cx="210.55" cy="296.9" r="2" fill="#9a9a9a"/>
<path d="M222.72,274.3 L229.08,274.3 L234.89,274.3 L241.25,274.4 L247.06,274.6 L253.42,275" fill="none" stroke="#c0dbf3" stroke-width="0.9"/>
<circle cx="222.72" cy="274.3" r="2" fill="#c0dbf3"/>
<circle cx="229.08" cy="274.3" r="2" fill="#c0dbf3"/>
<circle cx="234.89" cy="274.3" r="2" fill="#c0dbf3"/>
<circle cx="241.25" cy="274.4" r="2" fill="#c0dbf3"/>
<circle cx="247.06" cy="274.6" r="2" fill="#c0dbf3"/>
<circle cx="253.42" cy="275" r="2" fill="#c0dbf3"/>
<path d="M222.72,275.3 L229.08,275.3 L234.89,275.3 L241.25,275.4 L247.06,275.6 L253.42,276.2" fill="none" stroke="#8cbfea" stroke-width="0.9"/>
<circle cx="222.72" cy="275.3" r="2" fill="#8cbfea"/>
<circle cx="229.08" cy="275.3" r="2" fill="#8cbfea"/>
<circle cx="234.89" cy="275.3" r="2" fill="#8cbfea"/>
<circle cx="241.25" cy="275.4" r="2" fill="#8cbfea"/>
<circle cx="247.06" cy="275.6" r="2" fill="#8cbfea"/>
<circle cx="253.42" cy="276.2" r="2" fill="#8cbfea"/>
<path d="M222.72,277.6 L229.08,277.7 L234.89,278.8 L241.25,279.9 L247.06,282.2 L253.42,285.3" fill="none" stroke="#5b99d9" stroke-width="0.9"/>
<circle cx="222.72" cy="277.6" r="2" fill="#5b99d9"/>
<circle cx="229.08" cy="277.7" r="2" fill="#5b99d9"/>
<circle cx="234.89" cy="278.8" r="2" fill="#5b99d9"/>
<circle cx="241.25" cy="279.9" r="2" fill="#5b99d9"/>
<circle cx="247.06" cy="282.2" r="2" fill="#5b99d9"/>
<circle cx="253.42" cy="285.3" r="2" fill="#5b99d9"/>
<path d="M222.72,298.5 L229.08,295.6 L234.89,298.5 L241.25,298.5 L247.06,306.5 L253.42,322.5" fill="none" stroke="#2b46a6" stroke-width="0.9"/>
<circle cx="222.72" cy="298.5" r="2" fill="#2b46a6"/>
<circle cx="229.08" cy="295.6" r="2" fill="#2b46a6"/>
<circle cx="234.89" cy="298.5" r="2" fill="#2b46a6"/>
<circle cx="241.25" cy="298.5" r="2" fill="#2b46a6"/>
<circle cx="247.06" cy="306.5" r="2" fill="#2b46a6"/>
<circle cx="253.42" cy="322.5" r="2" fill="#2b46a6"/>
<line x1="229.08" y1="293" x2="229.08" y2="298" stroke="#2b46a6" stroke-width="0.8"/>
<line x1="227.48" y1="293" x2="230.68" y2="293" stroke="#2b46a6" stroke-width="0.8"/>
<line x1="227.48" y1="298" x2="230.68" y2="298" stroke="#2b46a6" stroke-width="0.8"/>
<line x1="247.06" y1="302" x2="247.06" y2="311" stroke="#2b46a6" stroke-width="0.8"/>
<line x1="245.46" y1="302" x2="248.66" y2="302" stroke="#2b46a6" stroke-width="0.8"/>
<line x1="245.46" y1="311" x2="248.66" y2="311" stroke="#2b46a6" stroke-width="0.8"/>
<path d="M222.72,277.9 L229.08,278 L234.89,279.1 L241.25,280.2 L247.06,282.5 L253.42,285.6" fill="none" stroke="#4a5cbe" stroke-width="0.9"/>
<circle cx="222.72" cy="277.9" r="2" fill="#4a5cbe"/>
<circle cx="229.08" cy="278" r="2" fill="#4a5cbe"/>
<circle cx="234.89" cy="279.1" r="2" fill="#4a5cbe"/>
<circle cx="241.25" cy="280.2" r="2" fill="#4a5cbe"/>
<circle cx="247.06" cy="282.5" r="2" fill="#4a5cbe"/>
<circle cx="253.42" cy="285.6" r="2" fill="#4a5cbe"/>
<line x1="234.89" y1="276.5" x2="234.89" y2="281.5" stroke="#4a5cbe" stroke-width="0.8"/>
<line x1="233.29" y1="276.5" x2="236.49" y2="276.5" stroke="#4a5cbe" stroke-width="0.8"/>
<line x1="233.29" y1="281.5" x2="236.49" y2="281.5" stroke="#4a5cbe" stroke-width="0.8"/>
<line x1="253.42" y1="282" x2="253.42" y2="289" stroke="#4a5cbe" stroke-width="0.8"/>
<line x1="251.82" y1="282" x2="255.02" y2="282" stroke="#4a5cbe" stroke-width="0.8"/>
<line x1="251.82" y1="289" x2="255.02" y2="289" stroke="#4a5cbe" stroke-width="0.8"/>
<path d="M222.72,273.3 L229.08,273.3 L234.89,273 L241.25,273.5 L247.06,273.7 L253.42,274.3" fill="none" stroke="#111111" stroke-width="0.9"/>
<circle cx="222.72" cy="273.3" r="2" fill="#111111"/>
<circle cx="229.08" cy="273.3" r="2" fill="#111111"/>
<circle cx="234.89" cy="273" r="2" fill="#111111"/>
<circle cx="241.25" cy="273.5" r="2" fill="#111111"/>
<circle cx="247.06" cy="273.7" r="2" fill="#111111"/>
<circle cx="253.42" cy="274.3" r="2" fill="#111111"/>
<line x1="280.5" y1="271.6" x2="354.5" y2="271.6" stroke="#9c9c9c" stroke-width="1.05"/>
<line x1="280.5" y1="291.5" x2="354.5" y2="291.5" stroke="#9c9c9c" stroke-width="1.05"/>
<line x1="280.5" y1="311.4" x2="354.5" y2="311.4" stroke="#9c9c9c" stroke-width="1.05"/>
<line x1="280.5" y1="331.3" x2="354.5" y2="331.3" stroke="#9c9c9c" stroke-width="1.05"/>
<line x1="280.5" y1="268" x2="280.5" y2="340.6" stroke="#707070" stroke-width="1"/>
<line x1="280.5" y1="340.6" x2="354.5" y2="340.6" stroke="#707070" stroke-width="1"/>
<line x1="277.5" y1="271.6" x2="280.5" y2="271.6" stroke="#707070" stroke-width="1"/>
<text x="276.7" y="274.1" font-size="7" text-anchor="end" fill="#333" stroke="#333" stroke-width="0.16">100</text>
<line x1="277.5" y1="291.5" x2="280.5" y2="291.5" stroke="#707070" stroke-width="1"/>
<text x="276.7" y="294" font-size="7" text-anchor="end" fill="#333" stroke="#333" stroke-width="0.16">10</text>
<line x1="277.5" y1="311.4" x2="280.5" y2="311.4" stroke="#707070" stroke-width="1"/>
<text x="276.7" y="313.9" font-size="7" text-anchor="end" fill="#333" stroke="#333" stroke-width="0.16">1</text>
<line x1="277.5" y1="331.3" x2="280.5" y2="331.3" stroke="#707070" stroke-width="1"/>
<text x="276.7" y="333.8" font-size="7" text-anchor="end" fill="#333" stroke="#333" stroke-width="0.16">0.1</text>
<line x1="278.9" y1="285.51" x2="280.5" y2="285.51" stroke="#666" stroke-width="0.6"/>
<line x1="278.9" y1="282.01" x2="280.5" y2="282.01" stroke="#666" stroke-width="0.6"/>
<line x1="278.9" y1="279.52" x2="280.5" y2="279.52" stroke="#666" stroke-width="0.6"/>
<line x1="278.9" y1="277.59" x2="280.5" y2="277.59" stroke="#666" stroke-width="0.6"/>
<line x1="278.9" y1="276.01" x2="280.5" y2="276.01" stroke="#666" stroke-width="0.6"/>
<line x1="278.9" y1="274.68" x2="280.5" y2="274.68" stroke="#666" stroke-width="0.6"/>
<line x1="278.9" y1="273.53" x2="280.5" y2="273.53" stroke="#666" stroke-width="0.6"/>
<line x1="278.9" y1="272.51" x2="280.5" y2="272.51" stroke="#666" stroke-width="0.6"/>
<line x1="278.9" y1="305.41" x2="280.5" y2="305.41" stroke="#666" stroke-width="0.6"/>
<line x1="278.9" y1="301.91" x2="280.5" y2="301.91" stroke="#666" stroke-width="0.6"/>
<line x1="278.9" y1="299.42" x2="280.5" y2="299.42" stroke="#666" stroke-width="0.6"/>
<line x1="278.9" y1="297.49" x2="280.5" y2="297.49" stroke="#666" stroke-width="0.6"/>
<line x1="278.9" y1="295.91" x2="280.5" y2="295.91" stroke="#666" stroke-width="0.6"/>
<line x1="278.9" y1="294.58" x2="280.5" y2="294.58" stroke="#666" stroke-width="0.6"/>
<line x1="278.9" y1="293.43" x2="280.5" y2="293.43" stroke="#666" stroke-width="0.6"/>
<line x1="278.9" y1="292.41" x2="280.5" y2="292.41" stroke="#666" stroke-width="0.6"/>
<line x1="278.9" y1="325.31" x2="280.5" y2="325.31" stroke="#666" stroke-width="0.6"/>
<line x1="278.9" y1="321.81" x2="280.5" y2="321.81" stroke="#666" stroke-width="0.6"/>
<line x1="278.9" y1="319.32" x2="280.5" y2="319.32" stroke="#666" stroke-width="0.6"/>
<line x1="278.9" y1="317.39" x2="280.5" y2="317.39" stroke="#666" stroke-width="0.6"/>
<line x1="278.9" y1="315.81" x2="280.5" y2="315.81" stroke="#666" stroke-width="0.6"/>
<line x1="278.9" y1="314.48" x2="280.5" y2="314.48" stroke="#666" stroke-width="0.6"/>
<line x1="278.9" y1="313.33" x2="280.5" y2="313.33" stroke="#666" stroke-width="0.6"/>
<line x1="278.9" y1="312.31" x2="280.5" y2="312.31" stroke="#666" stroke-width="0.6"/>
<line x1="280.5" y1="340.6" x2="280.5" y2="343.6" stroke="#707070" stroke-width="1"/>
<text x="282.6" y="346.9" font-size="6.75" text-anchor="end" fill="#333" transform="rotate(-45 282.6 346.9)" stroke="#333" stroke-width="0.16">0.00001</text>
<line x1="284.17" y1="340.6" x2="284.17" y2="342.2" stroke="#666" stroke-width="0.6"/>
<line x1="286.32" y1="340.6" x2="286.32" y2="342.2" stroke="#666" stroke-width="0.6"/>
<line x1="287.85" y1="340.6" x2="287.85" y2="342.2" stroke="#666" stroke-width="0.6"/>
<line x1="289.03" y1="340.6" x2="289.03" y2="342.2" stroke="#666" stroke-width="0.6"/>
<line x1="289.99" y1="340.6" x2="289.99" y2="342.2" stroke="#666" stroke-width="0.6"/>
<line x1="290.81" y1="340.6" x2="290.81" y2="342.2" stroke="#666" stroke-width="0.6"/>
<line x1="291.52" y1="340.6" x2="291.52" y2="342.2" stroke="#666" stroke-width="0.6"/>
<line x1="292.14" y1="340.6" x2="292.14" y2="342.2" stroke="#666" stroke-width="0.6"/>
<line x1="292.7" y1="340.6" x2="292.7" y2="343.6" stroke="#707070" stroke-width="1"/>
<text x="294.8" y="346.9" font-size="6.75" text-anchor="end" fill="#333" transform="rotate(-45 294.8 346.9)" stroke="#333" stroke-width="0.16">0.0001</text>
<line x1="296.37" y1="340.6" x2="296.37" y2="342.2" stroke="#666" stroke-width="0.6"/>
<line x1="298.52" y1="340.6" x2="298.52" y2="342.2" stroke="#666" stroke-width="0.6"/>
<line x1="300.05" y1="340.6" x2="300.05" y2="342.2" stroke="#666" stroke-width="0.6"/>
<line x1="301.23" y1="340.6" x2="301.23" y2="342.2" stroke="#666" stroke-width="0.6"/>
<line x1="302.19" y1="340.6" x2="302.19" y2="342.2" stroke="#666" stroke-width="0.6"/>
<line x1="303.01" y1="340.6" x2="303.01" y2="342.2" stroke="#666" stroke-width="0.6"/>
<line x1="303.72" y1="340.6" x2="303.72" y2="342.2" stroke="#666" stroke-width="0.6"/>
<line x1="304.34" y1="340.6" x2="304.34" y2="342.2" stroke="#666" stroke-width="0.6"/>
<line x1="304.9" y1="340.6" x2="304.9" y2="343.6" stroke="#707070" stroke-width="1"/>
<text x="307" y="346.9" font-size="6.75" text-anchor="end" fill="#333" transform="rotate(-45 307 346.9)" stroke="#333" stroke-width="0.16">0.001</text>
<line x1="308.57" y1="340.6" x2="308.57" y2="342.2" stroke="#666" stroke-width="0.6"/>
<line x1="310.72" y1="340.6" x2="310.72" y2="342.2" stroke="#666" stroke-width="0.6"/>
<line x1="312.25" y1="340.6" x2="312.25" y2="342.2" stroke="#666" stroke-width="0.6"/>
<line x1="313.43" y1="340.6" x2="313.43" y2="342.2" stroke="#666" stroke-width="0.6"/>
<line x1="314.39" y1="340.6" x2="314.39" y2="342.2" stroke="#666" stroke-width="0.6"/>
<line x1="315.21" y1="340.6" x2="315.21" y2="342.2" stroke="#666" stroke-width="0.6"/>
<line x1="315.92" y1="340.6" x2="315.92" y2="342.2" stroke="#666" stroke-width="0.6"/>
<line x1="316.54" y1="340.6" x2="316.54" y2="342.2" stroke="#666" stroke-width="0.6"/>
<line x1="317.1" y1="340.6" x2="317.1" y2="343.6" stroke="#707070" stroke-width="1"/>
<text x="319.2" y="346.9" font-size="6.75" text-anchor="end" fill="#333" transform="rotate(-45 319.2 346.9)" stroke="#333" stroke-width="0.16">0.01</text>
<line x1="320.77" y1="340.6" x2="320.77" y2="342.2" stroke="#666" stroke-width="0.6"/>
<line x1="322.92" y1="340.6" x2="322.92" y2="342.2" stroke="#666" stroke-width="0.6"/>
<line x1="324.45" y1="340.6" x2="324.45" y2="342.2" stroke="#666" stroke-width="0.6"/>
<line x1="325.63" y1="340.6" x2="325.63" y2="342.2" stroke="#666" stroke-width="0.6"/>
<line x1="326.59" y1="340.6" x2="326.59" y2="342.2" stroke="#666" stroke-width="0.6"/>
<line x1="327.41" y1="340.6" x2="327.41" y2="342.2" stroke="#666" stroke-width="0.6"/>
<line x1="328.12" y1="340.6" x2="328.12" y2="342.2" stroke="#666" stroke-width="0.6"/>
<line x1="328.74" y1="340.6" x2="328.74" y2="342.2" stroke="#666" stroke-width="0.6"/>
<line x1="329.3" y1="340.6" x2="329.3" y2="343.6" stroke="#707070" stroke-width="1"/>
<text x="331.4" y="346.9" font-size="6.75" text-anchor="end" fill="#333" transform="rotate(-45 331.4 346.9)" stroke="#333" stroke-width="0.16">0.1</text>
<line x1="332.97" y1="340.6" x2="332.97" y2="342.2" stroke="#666" stroke-width="0.6"/>
<line x1="335.12" y1="340.6" x2="335.12" y2="342.2" stroke="#666" stroke-width="0.6"/>
<line x1="336.65" y1="340.6" x2="336.65" y2="342.2" stroke="#666" stroke-width="0.6"/>
<line x1="337.83" y1="340.6" x2="337.83" y2="342.2" stroke="#666" stroke-width="0.6"/>
<line x1="338.79" y1="340.6" x2="338.79" y2="342.2" stroke="#666" stroke-width="0.6"/>
<line x1="339.61" y1="340.6" x2="339.61" y2="342.2" stroke="#666" stroke-width="0.6"/>
<line x1="340.32" y1="340.6" x2="340.32" y2="342.2" stroke="#666" stroke-width="0.6"/>
<line x1="340.94" y1="340.6" x2="340.94" y2="342.2" stroke="#666" stroke-width="0.6"/>
<line x1="341.5" y1="340.6" x2="341.5" y2="343.6" stroke="#707070" stroke-width="1"/>
<text x="343.6" y="346.9" font-size="6.75" text-anchor="end" fill="#333" transform="rotate(-45 343.6 346.9)" stroke="#333" stroke-width="0.16">1</text>
<line x1="345.17" y1="340.6" x2="345.17" y2="342.2" stroke="#666" stroke-width="0.6"/>
<line x1="347.32" y1="340.6" x2="347.32" y2="342.2" stroke="#666" stroke-width="0.6"/>
<line x1="348.85" y1="340.6" x2="348.85" y2="342.2" stroke="#666" stroke-width="0.6"/>
<line x1="350.03" y1="340.6" x2="350.03" y2="342.2" stroke="#666" stroke-width="0.6"/>
<line x1="350.99" y1="340.6" x2="350.99" y2="342.2" stroke="#666" stroke-width="0.6"/>
<line x1="351.81" y1="340.6" x2="351.81" y2="342.2" stroke="#666" stroke-width="0.6"/>
<line x1="352.52" y1="340.6" x2="352.52" y2="342.2" stroke="#666" stroke-width="0.6"/>
<line x1="353.14" y1="340.6" x2="353.14" y2="342.2" stroke="#666" stroke-width="0.6"/>
<line x1="353.7" y1="340.6" x2="353.7" y2="343.6" stroke="#707070" stroke-width="1"/>
<text x="355.8" y="346.9" font-size="6.75" text-anchor="end" fill="#333" transform="rotate(-45 355.8 346.9)" stroke="#333" stroke-width="0.16">10</text>
<path d="M286.32,271.6 L292.7,272.4 L298.52,287.6 L304.9,301 L310.72,327.4" fill="none" stroke="#9a9a9a" stroke-width="0.9"/>
<circle cx="286.32" cy="271.6" r="2" fill="#9a9a9a"/>
<circle cx="292.7" cy="272.4" r="2" fill="#9a9a9a"/>
<circle cx="298.52" cy="287.6" r="2" fill="#9a9a9a"/>
<circle cx="304.9" cy="301" r="2" fill="#9a9a9a"/>
<circle cx="310.72" cy="327.4" r="2" fill="#9a9a9a"/>
<path d="M322.92,327.4 L329.3,328.5 L335.12,328.5 L341.5,328.5 L347.32,307.2 L353.7,323.9" fill="none" stroke="#2b46a6" stroke-width="0.9"/>
<circle cx="322.92" cy="327.4" r="2" fill="#2b46a6"/>
<circle cx="329.3" cy="328.5" r="2" fill="#2b46a6"/>
<circle cx="335.12" cy="328.5" r="2" fill="#2b46a6"/>
<circle cx="341.5" cy="328.5" r="2" fill="#2b46a6"/>
<circle cx="347.32" cy="307.2" r="2" fill="#2b46a6"/>
<circle cx="353.7" cy="323.9" r="2" fill="#2b46a6"/>
<line x1="322.92" y1="324" x2="322.92" y2="331" stroke="#2b46a6" stroke-width="0.8"/>
<line x1="321.32" y1="324" x2="324.52" y2="324" stroke="#2b46a6" stroke-width="0.8"/>
<line x1="321.32" y1="331" x2="324.52" y2="331" stroke="#2b46a6" stroke-width="0.8"/>
<line x1="329.3" y1="324" x2="329.3" y2="333" stroke="#2b46a6" stroke-width="0.8"/>
<line x1="327.7" y1="324" x2="330.9" y2="324" stroke="#2b46a6" stroke-width="0.8"/>
<line x1="327.7" y1="333" x2="330.9" y2="333" stroke="#2b46a6" stroke-width="0.8"/>
<line x1="335.12" y1="324" x2="335.12" y2="333" stroke="#2b46a6" stroke-width="0.8"/>
<line x1="333.52" y1="324" x2="336.72" y2="324" stroke="#2b46a6" stroke-width="0.8"/>
<line x1="333.52" y1="333" x2="336.72" y2="333" stroke="#2b46a6" stroke-width="0.8"/>
<line x1="341.5" y1="325" x2="341.5" y2="332" stroke="#2b46a6" stroke-width="0.8"/>
<line x1="339.9" y1="325" x2="343.1" y2="325" stroke="#2b46a6" stroke-width="0.8"/>
<line x1="339.9" y1="332" x2="343.1" y2="332" stroke="#2b46a6" stroke-width="0.8"/>
<path d="M322.92,302.5 L329.3,307.2 L335.12,300.6 L341.5,300.6 L347.32,303 L353.7,307.5" fill="none" stroke="#5b99d9" stroke-width="0.9"/>
<circle cx="322.92" cy="302.5" r="2" fill="#5b99d9"/>
<circle cx="329.3" cy="307.2" r="2" fill="#5b99d9"/>
<circle cx="335.12" cy="300.6" r="2" fill="#5b99d9"/>
<circle cx="341.5" cy="300.6" r="2" fill="#5b99d9"/>
<circle cx="347.32" cy="303" r="2" fill="#5b99d9"/>
<circle cx="353.7" cy="307.5" r="2" fill="#5b99d9"/>
<path d="M322.92,302.8 L329.3,307.6 L335.12,300.5 L341.5,300.5 L347.32,302.8 L353.7,307.8" fill="none" stroke="#4a5cbe" stroke-width="0.9"/>
<circle cx="322.92" cy="302.8" r="2" fill="#4a5cbe"/>
<circle cx="329.3" cy="307.6" r="2" fill="#4a5cbe"/>
<circle cx="335.12" cy="300.5" r="2" fill="#4a5cbe"/>
<circle cx="341.5" cy="300.5" r="2" fill="#4a5cbe"/>
<circle cx="347.32" cy="302.8" r="2" fill="#4a5cbe"/>
<circle cx="353.7" cy="307.8" r="2" fill="#4a5cbe"/>
<line x1="322.92" y1="299" x2="322.92" y2="306" stroke="#4a5cbe" stroke-width="0.8"/>
<line x1="321.32" y1="299" x2="324.52" y2="299" stroke="#4a5cbe" stroke-width="0.8"/>
<line x1="321.32" y1="306" x2="324.52" y2="306" stroke="#4a5cbe" stroke-width="0.8"/>
<line x1="347.32" y1="297" x2="347.32" y2="307" stroke="#4a5cbe" stroke-width="0.8"/>
<line x1="345.72" y1="297" x2="348.92" y2="297" stroke="#4a5cbe" stroke-width="0.8"/>
<line x1="345.72" y1="307" x2="348.92" y2="307" stroke="#4a5cbe" stroke-width="0.8"/>
<line x1="353.7" y1="304" x2="353.7" y2="311" stroke="#4a5cbe" stroke-width="0.8"/>
<line x1="352.1" y1="304" x2="355.3" y2="304" stroke="#4a5cbe" stroke-width="0.8"/>
<line x1="352.1" y1="311" x2="355.3" y2="311" stroke="#4a5cbe" stroke-width="0.8"/>
<path d="M322.92,287 L329.3,287.2 L335.12,286.4 L341.5,287.6 L347.32,291.8 L353.7,290" fill="none" stroke="#8cbfea" stroke-width="0.9"/>
<circle cx="322.92" cy="287" r="2" fill="#8cbfea"/>
<circle cx="329.3" cy="287.2" r="2" fill="#8cbfea"/>
<circle cx="335.12" cy="286.4" r="2" fill="#8cbfea"/>
<circle cx="341.5" cy="287.6" r="2" fill="#8cbfea"/>
<circle cx="347.32" cy="291.8" r="2" fill="#8cbfea"/>
<circle cx="353.7" cy="290" r="2" fill="#8cbfea"/>
<line x1="322.92" y1="283" x2="322.92" y2="291" stroke="#8cbfea" stroke-width="0.8"/>
<line x1="321.32" y1="283" x2="324.52" y2="283" stroke="#8cbfea" stroke-width="0.8"/>
<line x1="321.32" y1="291" x2="324.52" y2="291" stroke="#8cbfea" stroke-width="0.8"/>
<path d="M322.92,272.5 L329.3,272.6 L335.12,272.8 L341.5,273 L347.32,273.5 L353.7,274" fill="none" stroke="#c0dbf3" stroke-width="0.9"/>
<circle cx="322.92" cy="272.5" r="2" fill="#c0dbf3"/>
<circle cx="329.3" cy="272.6" r="2" fill="#c0dbf3"/>
<circle cx="335.12" cy="272.8" r="2" fill="#c0dbf3"/>
<circle cx="341.5" cy="273" r="2" fill="#c0dbf3"/>
<circle cx="347.32" cy="273.5" r="2" fill="#c0dbf3"/>
<circle cx="353.7" cy="274" r="2" fill="#c0dbf3"/>
<path d="M322.92,271.6 L329.3,271.6 L335.12,271.6 L341.5,271.6 L347.32,271.6 L353.7,271.8" fill="none" stroke="#111111" stroke-width="0.9"/>
<circle cx="322.92" cy="271.6" r="2" fill="#111111"/>
<circle cx="329.3" cy="271.6" r="2" fill="#111111"/>
<circle cx="335.12" cy="271.6" r="2" fill="#111111"/>
<circle cx="341.5" cy="271.6" r="2" fill="#111111"/>
<circle cx="347.32" cy="271.6" r="2" fill="#111111"/>
<circle cx="353.7" cy="271.8" r="2" fill="#111111"/>
<line x1="382.2" y1="272" x2="456.5" y2="272" stroke="#9c9c9c" stroke-width="1.05"/>
<line x1="382.2" y1="295.3" x2="456.5" y2="295.3" stroke="#9c9c9c" stroke-width="1.05"/>
<line x1="382.2" y1="318.6" x2="456.5" y2="318.6" stroke="#9c9c9c" stroke-width="1.05"/>
<line x1="382.2" y1="268" x2="382.2" y2="341.2" stroke="#707070" stroke-width="1"/>
<line x1="382.2" y1="341.2" x2="456.5" y2="341.2" stroke="#707070" stroke-width="1"/>
<line x1="379.2" y1="272" x2="382.2" y2="272" stroke="#707070" stroke-width="1"/>
<text x="378.4" y="274.5" font-size="7" text-anchor="end" fill="#333" stroke="#333" stroke-width="0.16">100</text>
<line x1="379.2" y1="295.3" x2="382.2" y2="295.3" stroke="#707070" stroke-width="1"/>
<text x="378.4" y="297.8" font-size="7" text-anchor="end" fill="#333" stroke="#333" stroke-width="0.16">10</text>
<line x1="379.2" y1="318.6" x2="382.2" y2="318.6" stroke="#707070" stroke-width="1"/>
<text x="378.4" y="321.1" font-size="7" text-anchor="end" fill="#333" stroke="#333" stroke-width="0.16">1</text>
<line x1="379.2" y1="341.9" x2="382.2" y2="341.9" stroke="#707070" stroke-width="1"/>
<text x="378.4" y="344.4" font-size="7" text-anchor="end" fill="#333" stroke="#333" stroke-width="0.16">0.1</text>
<line x1="380.6" y1="288.29" x2="382.2" y2="288.29" stroke="#666" stroke-width="0.6"/>
<line x1="380.6" y1="284.18" x2="382.2" y2="284.18" stroke="#666" stroke-width="0.6"/>
<line x1="380.6" y1="281.27" x2="382.2" y2="281.27" stroke="#666" stroke-width="0.6"/>
<line x1="380.6" y1="279.01" x2="382.2" y2="279.01" stroke="#666" stroke-width="0.6"/>
<line x1="380.6" y1="277.17" x2="382.2" y2="277.17" stroke="#666" stroke-width="0.6"/>
<line x1="380.6" y1="275.61" x2="382.2" y2="275.61" stroke="#666" stroke-width="0.6"/>
<line x1="380.6" y1="274.26" x2="382.2" y2="274.26" stroke="#666" stroke-width="0.6"/>
<line x1="380.6" y1="273.07" x2="382.2" y2="273.07" stroke="#666" stroke-width="0.6"/>
<line x1="380.6" y1="311.59" x2="382.2" y2="311.59" stroke="#666" stroke-width="0.6"/>
<line x1="380.6" y1="307.48" x2="382.2" y2="307.48" stroke="#666" stroke-width="0.6"/>
<line x1="380.6" y1="304.57" x2="382.2" y2="304.57" stroke="#666" stroke-width="0.6"/>
<line x1="380.6" y1="302.31" x2="382.2" y2="302.31" stroke="#666" stroke-width="0.6"/>
<line x1="380.6" y1="300.47" x2="382.2" y2="300.47" stroke="#666" stroke-width="0.6"/>
<line x1="380.6" y1="298.91" x2="382.2" y2="298.91" stroke="#666" stroke-width="0.6"/>
<line x1="380.6" y1="297.56" x2="382.2" y2="297.56" stroke="#666" stroke-width="0.6"/>
<line x1="380.6" y1="296.37" x2="382.2" y2="296.37" stroke="#666" stroke-width="0.6"/>
<line x1="380.6" y1="334.89" x2="382.2" y2="334.89" stroke="#666" stroke-width="0.6"/>
<line x1="380.6" y1="330.78" x2="382.2" y2="330.78" stroke="#666" stroke-width="0.6"/>
<line x1="380.6" y1="327.87" x2="382.2" y2="327.87" stroke="#666" stroke-width="0.6"/>
<line x1="380.6" y1="325.61" x2="382.2" y2="325.61" stroke="#666" stroke-width="0.6"/>
<line x1="380.6" y1="323.77" x2="382.2" y2="323.77" stroke="#666" stroke-width="0.6"/>
<line x1="380.6" y1="322.21" x2="382.2" y2="322.21" stroke="#666" stroke-width="0.6"/>
<line x1="380.6" y1="320.86" x2="382.2" y2="320.86" stroke="#666" stroke-width="0.6"/>
<line x1="380.6" y1="319.67" x2="382.2" y2="319.67" stroke="#666" stroke-width="0.6"/>
<line x1="382.2" y1="341.2" x2="382.2" y2="344.2" stroke="#707070" stroke-width="1"/>
<text x="384.3" y="347.5" font-size="6.75" text-anchor="end" fill="#333" transform="rotate(-45 384.3 347.5)" stroke="#333" stroke-width="0.16">0.00001</text>
<line x1="385.89" y1="341.2" x2="385.89" y2="342.8" stroke="#666" stroke-width="0.6"/>
<line x1="388.04" y1="341.2" x2="388.04" y2="342.8" stroke="#666" stroke-width="0.6"/>
<line x1="389.58" y1="341.2" x2="389.58" y2="342.8" stroke="#666" stroke-width="0.6"/>
<line x1="390.76" y1="341.2" x2="390.76" y2="342.8" stroke="#666" stroke-width="0.6"/>
<line x1="391.73" y1="341.2" x2="391.73" y2="342.8" stroke="#666" stroke-width="0.6"/>
<line x1="392.55" y1="341.2" x2="392.55" y2="342.8" stroke="#666" stroke-width="0.6"/>
<line x1="393.26" y1="341.2" x2="393.26" y2="342.8" stroke="#666" stroke-width="0.6"/>
<line x1="393.89" y1="341.2" x2="393.89" y2="342.8" stroke="#666" stroke-width="0.6"/>
<line x1="394.45" y1="341.2" x2="394.45" y2="344.2" stroke="#707070" stroke-width="1"/>
<text x="396.55" y="347.5" font-size="6.75" text-anchor="end" fill="#333" transform="rotate(-45 396.55 347.5)" stroke="#333" stroke-width="0.16">0.0001</text>
<line x1="398.14" y1="341.2" x2="398.14" y2="342.8" stroke="#666" stroke-width="0.6"/>
<line x1="400.29" y1="341.2" x2="400.29" y2="342.8" stroke="#666" stroke-width="0.6"/>
<line x1="401.83" y1="341.2" x2="401.83" y2="342.8" stroke="#666" stroke-width="0.6"/>
<line x1="403.01" y1="341.2" x2="403.01" y2="342.8" stroke="#666" stroke-width="0.6"/>
<line x1="403.98" y1="341.2" x2="403.98" y2="342.8" stroke="#666" stroke-width="0.6"/>
<line x1="404.8" y1="341.2" x2="404.8" y2="342.8" stroke="#666" stroke-width="0.6"/>
<line x1="405.51" y1="341.2" x2="405.51" y2="342.8" stroke="#666" stroke-width="0.6"/>
<line x1="406.14" y1="341.2" x2="406.14" y2="342.8" stroke="#666" stroke-width="0.6"/>
<line x1="406.7" y1="341.2" x2="406.7" y2="344.2" stroke="#707070" stroke-width="1"/>
<text x="408.8" y="347.5" font-size="6.75" text-anchor="end" fill="#333" transform="rotate(-45 408.8 347.5)" stroke="#333" stroke-width="0.16">0.001</text>
<line x1="410.39" y1="341.2" x2="410.39" y2="342.8" stroke="#666" stroke-width="0.6"/>
<line x1="412.54" y1="341.2" x2="412.54" y2="342.8" stroke="#666" stroke-width="0.6"/>
<line x1="414.08" y1="341.2" x2="414.08" y2="342.8" stroke="#666" stroke-width="0.6"/>
<line x1="415.26" y1="341.2" x2="415.26" y2="342.8" stroke="#666" stroke-width="0.6"/>
<line x1="416.23" y1="341.2" x2="416.23" y2="342.8" stroke="#666" stroke-width="0.6"/>
<line x1="417.05" y1="341.2" x2="417.05" y2="342.8" stroke="#666" stroke-width="0.6"/>
<line x1="417.76" y1="341.2" x2="417.76" y2="342.8" stroke="#666" stroke-width="0.6"/>
<line x1="418.39" y1="341.2" x2="418.39" y2="342.8" stroke="#666" stroke-width="0.6"/>
<line x1="418.95" y1="341.2" x2="418.95" y2="344.2" stroke="#707070" stroke-width="1"/>
<text x="421.05" y="347.5" font-size="6.75" text-anchor="end" fill="#333" transform="rotate(-45 421.05 347.5)" stroke="#333" stroke-width="0.16">0.01</text>
<line x1="422.64" y1="341.2" x2="422.64" y2="342.8" stroke="#666" stroke-width="0.6"/>
<line x1="424.79" y1="341.2" x2="424.79" y2="342.8" stroke="#666" stroke-width="0.6"/>
<line x1="426.33" y1="341.2" x2="426.33" y2="342.8" stroke="#666" stroke-width="0.6"/>
<line x1="427.51" y1="341.2" x2="427.51" y2="342.8" stroke="#666" stroke-width="0.6"/>
<line x1="428.48" y1="341.2" x2="428.48" y2="342.8" stroke="#666" stroke-width="0.6"/>
<line x1="429.3" y1="341.2" x2="429.3" y2="342.8" stroke="#666" stroke-width="0.6"/>
<line x1="430.01" y1="341.2" x2="430.01" y2="342.8" stroke="#666" stroke-width="0.6"/>
<line x1="430.64" y1="341.2" x2="430.64" y2="342.8" stroke="#666" stroke-width="0.6"/>
<line x1="431.2" y1="341.2" x2="431.2" y2="344.2" stroke="#707070" stroke-width="1"/>
<text x="433.3" y="347.5" font-size="6.75" text-anchor="end" fill="#333" transform="rotate(-45 433.3 347.5)" stroke="#333" stroke-width="0.16">0.1</text>
<line x1="434.89" y1="341.2" x2="434.89" y2="342.8" stroke="#666" stroke-width="0.6"/>
<line x1="437.04" y1="341.2" x2="437.04" y2="342.8" stroke="#666" stroke-width="0.6"/>
<line x1="438.58" y1="341.2" x2="438.58" y2="342.8" stroke="#666" stroke-width="0.6"/>
<line x1="439.76" y1="341.2" x2="439.76" y2="342.8" stroke="#666" stroke-width="0.6"/>
<line x1="440.73" y1="341.2" x2="440.73" y2="342.8" stroke="#666" stroke-width="0.6"/>
<line x1="441.55" y1="341.2" x2="441.55" y2="342.8" stroke="#666" stroke-width="0.6"/>
<line x1="442.26" y1="341.2" x2="442.26" y2="342.8" stroke="#666" stroke-width="0.6"/>
<line x1="442.89" y1="341.2" x2="442.89" y2="342.8" stroke="#666" stroke-width="0.6"/>
<line x1="443.45" y1="341.2" x2="443.45" y2="344.2" stroke="#707070" stroke-width="1"/>
<text x="445.55" y="347.5" font-size="6.75" text-anchor="end" fill="#333" transform="rotate(-45 445.55 347.5)" stroke="#333" stroke-width="0.16">1</text>
<line x1="447.14" y1="341.2" x2="447.14" y2="342.8" stroke="#666" stroke-width="0.6"/>
<line x1="449.29" y1="341.2" x2="449.29" y2="342.8" stroke="#666" stroke-width="0.6"/>
<line x1="450.83" y1="341.2" x2="450.83" y2="342.8" stroke="#666" stroke-width="0.6"/>
<line x1="452.01" y1="341.2" x2="452.01" y2="342.8" stroke="#666" stroke-width="0.6"/>
<line x1="452.98" y1="341.2" x2="452.98" y2="342.8" stroke="#666" stroke-width="0.6"/>
<line x1="453.8" y1="341.2" x2="453.8" y2="342.8" stroke="#666" stroke-width="0.6"/>
<line x1="454.51" y1="341.2" x2="454.51" y2="342.8" stroke="#666" stroke-width="0.6"/>
<line x1="455.14" y1="341.2" x2="455.14" y2="342.8" stroke="#666" stroke-width="0.6"/>
<line x1="455.7" y1="341.2" x2="455.7" y2="344.2" stroke="#707070" stroke-width="1"/>
<text x="457.8" y="347.5" font-size="6.75" text-anchor="end" fill="#333" transform="rotate(-45 457.8 347.5)" stroke="#333" stroke-width="0.16">10</text>
<path d="M388.04,273.5 L394.45,289.9 L400.29,320.7 L406.7,322.6 L412.54,335.1" fill="none" stroke="#9a9a9a" stroke-width="0.9"/>
<circle cx="388.04" cy="273.5" r="2" fill="#9a9a9a"/>
<circle cx="394.45" cy="289.9" r="2" fill="#9a9a9a"/>
<circle cx="400.29" cy="320.7" r="2" fill="#9a9a9a"/>
<circle cx="406.7" cy="322.6" r="2" fill="#9a9a9a"/>
<circle cx="412.54" cy="335.1" r="2" fill="#9a9a9a"/>
<line x1="394.45" y1="286" x2="394.45" y2="293" stroke="#9a9a9a" stroke-width="0.8"/>
<line x1="392.85" y1="286" x2="396.05" y2="286" stroke="#9a9a9a" stroke-width="0.8"/>
<line x1="392.85" y1="293" x2="396.05" y2="293" stroke="#9a9a9a" stroke-width="0.8"/>
<path d="M424.79,334.1 L431.2,334.5 L437.04,335.5 L443.45,335.5 L449.29,335.5 L455.7,333.5" fill="none" stroke="#2b46a6" stroke-width="0.9"/>
<circle cx="424.79" cy="334.1" r="2" fill="#2b46a6"/>
<circle cx="431.2" cy="334.5" r="2" fill="#2b46a6"/>
<circle cx="437.04" cy="335.5" r="2" fill="#2b46a6"/>
<circle cx="443.45" cy="335.5" r="2" fill="#2b46a6"/>
<circle cx="449.29" cy="335.5" r="2" fill="#2b46a6"/>
<circle cx="455.7" cy="333.5" r="2" fill="#2b46a6"/>
<line x1="424.79" y1="330" x2="424.79" y2="338" stroke="#2b46a6" stroke-width="0.8"/>
<line x1="423.19" y1="330" x2="426.39" y2="330" stroke="#2b46a6" stroke-width="0.8"/>
<line x1="423.19" y1="338" x2="426.39" y2="338" stroke="#2b46a6" stroke-width="0.8"/>
<line x1="431.2" y1="331" x2="431.2" y2="338" stroke="#2b46a6" stroke-width="0.8"/>
<line x1="429.6" y1="331" x2="432.8" y2="331" stroke="#2b46a6" stroke-width="0.8"/>
<line x1="429.6" y1="338" x2="432.8" y2="338" stroke="#2b46a6" stroke-width="0.8"/>
<line x1="455.7" y1="330" x2="455.7" y2="337" stroke="#2b46a6" stroke-width="0.8"/>
<line x1="454.1" y1="330" x2="457.3" y2="330" stroke="#2b46a6" stroke-width="0.8"/>
<line x1="454.1" y1="337" x2="457.3" y2="337" stroke="#2b46a6" stroke-width="0.8"/>
<path d="M424.79,321.8 L431.2,321.6 L437.04,323 L443.45,322.5 L449.29,322.8 L455.7,323.2" fill="none" stroke="#4a5cbe" stroke-width="0.9"/>
<circle cx="424.79" cy="321.8" r="2" fill="#4a5cbe"/>
<circle cx="431.2" cy="321.6" r="2" fill="#4a5cbe"/>
<circle cx="437.04" cy="323" r="2" fill="#4a5cbe"/>
<circle cx="443.45" cy="322.5" r="2" fill="#4a5cbe"/>
<circle cx="449.29" cy="322.8" r="2" fill="#4a5cbe"/>
<circle cx="455.7" cy="323.2" r="2" fill="#4a5cbe"/>
<line x1="424.79" y1="318" x2="424.79" y2="326" stroke="#4a5cbe" stroke-width="0.8"/>
<line x1="423.19" y1="318" x2="426.39" y2="318" stroke="#4a5cbe" stroke-width="0.8"/>
<line x1="423.19" y1="326" x2="426.39" y2="326" stroke="#4a5cbe" stroke-width="0.8"/>
<line x1="431.2" y1="318" x2="431.2" y2="326" stroke="#4a5cbe" stroke-width="0.8"/>
<line x1="429.6" y1="318" x2="432.8" y2="318" stroke="#4a5cbe" stroke-width="0.8"/>
<line x1="429.6" y1="326" x2="432.8" y2="326" stroke="#4a5cbe" stroke-width="0.8"/>
<path d="M424.79,320.3 L431.2,319.1 L437.04,320.3 L443.45,320 L449.29,320 L455.7,318.7" fill="none" stroke="#5b99d9" stroke-width="0.9"/>
<circle cx="424.79" cy="320.3" r="2" fill="#5b99d9"/>
<circle cx="431.2" cy="319.1" r="2" fill="#5b99d9"/>
<circle cx="437.04" cy="320.3" r="2" fill="#5b99d9"/>
<circle cx="443.45" cy="320" r="2" fill="#5b99d9"/>
<circle cx="449.29" cy="320" r="2" fill="#5b99d9"/>
<circle cx="455.7" cy="318.7" r="2" fill="#5b99d9"/>
<line x1="431.2" y1="316" x2="431.2" y2="322" stroke="#5b99d9" stroke-width="0.8"/>
<line x1="429.6" y1="316" x2="432.8" y2="316" stroke="#5b99d9" stroke-width="0.8"/>
<line x1="429.6" y1="322" x2="432.8" y2="322" stroke="#5b99d9" stroke-width="0.8"/>
<path d="M424.79,290.8 L431.2,291.2 L437.04,288.9 L443.45,289.9 L449.29,298 L455.7,305.8" fill="none" stroke="#8cbfea" stroke-width="0.9"/>
<circle cx="424.79" cy="290.8" r="2" fill="#8cbfea"/>
<circle cx="431.2" cy="291.2" r="2" fill="#8cbfea"/>
<circle cx="437.04" cy="288.9" r="2" fill="#8cbfea"/>
<circle cx="443.45" cy="289.9" r="2" fill="#8cbfea"/>
<circle cx="449.29" cy="298" r="2" fill="#8cbfea"/>
<circle cx="455.7" cy="305.8" r="2" fill="#8cbfea"/>
<line x1="424.79" y1="286" x2="424.79" y2="296" stroke="#8cbfea" stroke-width="0.8"/>
<line x1="423.19" y1="286" x2="426.39" y2="286" stroke="#8cbfea" stroke-width="0.8"/>
<line x1="423.19" y1="296" x2="426.39" y2="296" stroke="#8cbfea" stroke-width="0.8"/>
<line x1="431.2" y1="287" x2="431.2" y2="295" stroke="#8cbfea" stroke-width="0.8"/>
<line x1="429.6" y1="287" x2="432.8" y2="287" stroke="#8cbfea" stroke-width="0.8"/>
<line x1="429.6" y1="295" x2="432.8" y2="295" stroke="#8cbfea" stroke-width="0.8"/>
<line x1="437.04" y1="283" x2="437.04" y2="300" stroke="#8cbfea" stroke-width="0.8"/>
<line x1="435.44" y1="283" x2="438.64" y2="283" stroke="#8cbfea" stroke-width="0.8"/>
<line x1="435.44" y1="300" x2="438.64" y2="300" stroke="#8cbfea" stroke-width="0.8"/>
<line x1="443.45" y1="285" x2="443.45" y2="296" stroke="#8cbfea" stroke-width="0.8"/>
<line x1="441.85" y1="285" x2="445.05" y2="285" stroke="#8cbfea" stroke-width="0.8"/>
<line x1="441.85" y1="296" x2="445.05" y2="296" stroke="#8cbfea" stroke-width="0.8"/>
<line x1="449.29" y1="293" x2="449.29" y2="302" stroke="#8cbfea" stroke-width="0.8"/>
<line x1="447.69" y1="293" x2="450.89" y2="293" stroke="#8cbfea" stroke-width="0.8"/>
<line x1="447.69" y1="302" x2="450.89" y2="302" stroke="#8cbfea" stroke-width="0.8"/>
<line x1="455.7" y1="299" x2="455.7" y2="320" stroke="#8cbfea" stroke-width="0.8"/>
<line x1="454.1" y1="299" x2="457.3" y2="299" stroke="#8cbfea" stroke-width="0.8"/>
<line x1="454.1" y1="320" x2="457.3" y2="320" stroke="#8cbfea" stroke-width="0.8"/>
<path d="M424.79,272.8 L431.2,272.8 L437.04,273 L443.45,273.3 L449.29,274 L455.7,275.5" fill="none" stroke="#c0dbf3" stroke-width="0.9"/>
<circle cx="424.79" cy="272.8" r="2" fill="#c0dbf3"/>
<circle cx="431.2" cy="272.8" r="2" fill="#c0dbf3"/>
<circle cx="437.04" cy="273" r="2" fill="#c0dbf3"/>
<circle cx="443.45" cy="273.3" r="2" fill="#c0dbf3"/>
<circle cx="449.29" cy="274" r="2" fill="#c0dbf3"/>
<circle cx="455.7" cy="275.5" r="2" fill="#c0dbf3"/>
<line x1="455.7" y1="273" x2="455.7" y2="278" stroke="#c0dbf3" stroke-width="0.8"/>
<line x1="454.1" y1="273" x2="457.3" y2="273" stroke="#c0dbf3" stroke-width="0.8"/>
<line x1="454.1" y1="278" x2="457.3" y2="278" stroke="#c0dbf3" stroke-width="0.8"/>
<path d="M424.79,271.6 L431.2,271.6 L437.04,271.2 L443.45,271.8 L449.29,271.6 L455.7,271.8" fill="none" stroke="#111111" stroke-width="0.9"/>
<circle cx="424.79" cy="271.6" r="2" fill="#111111"/>
<circle cx="431.2" cy="271.6" r="2" fill="#111111"/>
<circle cx="437.04" cy="271.2" r="2" fill="#111111"/>
<circle cx="443.45" cy="271.8" r="2" fill="#111111"/>
<circle cx="449.29" cy="271.6" r="2" fill="#111111"/>
<circle cx="455.7" cy="271.8" r="2" fill="#111111"/>
<line x1="460.6" y1="271.25" x2="471.3" y2="271.25" stroke="#111111" stroke-width="0.9"/>
<circle cx="466.1" cy="271.25" r="1.3" fill="#111111"/>
<text x="472.8" y="272.75" font-size="6.25" text-anchor="start" fill="#222" stroke="#222" stroke-width="0.16">VX984</text>
<line x1="460.6" y1="278.37" x2="471.3" y2="278.37" stroke="#9a9a9a" stroke-width="0.9"/>
<circle cx="466.1" cy="278.37" r="1.3" fill="#9a9a9a"/>
<text x="472.8" y="279.87" font-size="6.25" text-anchor="start" fill="#222" stroke="#222" stroke-width="0.16">Trab</text>
<line x1="460.6" y1="285.49" x2="471.3" y2="285.49" stroke="#c0dbf3" stroke-width="0.9"/>
<circle cx="466.1" cy="285.49" r="1.3" fill="#c0dbf3"/>
<text x="472.8" y="286.99" font-size="6.25" text-anchor="start" fill="#222" stroke="#222" stroke-width="0.16">0.03 nmol/L Trab</text>
<line x1="460.6" y1="292.61" x2="471.3" y2="292.61" stroke="#8cbfea" stroke-width="0.9"/>
<circle cx="466.1" cy="292.61" r="1.3" fill="#8cbfea"/>
<text x="472.8" y="294.11" font-size="6.25" text-anchor="start" fill="#222" stroke="#222" stroke-width="0.16">0.1 nmol/L Trab</text>
<line x1="460.6" y1="299.73" x2="471.3" y2="299.73" stroke="#5b99d9" stroke-width="0.9"/>
<circle cx="466.1" cy="299.73" r="1.3" fill="#5b99d9"/>
<text x="472.8" y="301.23" font-size="6.25" text-anchor="start" fill="#222" stroke="#222" stroke-width="0.16">0.3 nmol/L Trab</text>
<line x1="460.6" y1="306.85" x2="471.3" y2="306.85" stroke="#4a5cbe" stroke-width="0.9"/>
<circle cx="466.1" cy="306.85" r="1.3" fill="#4a5cbe"/>
<text x="472.8" y="308.35" font-size="6.25" text-anchor="start" fill="#222" stroke="#222" stroke-width="0.16">1 nmol/L Trab</text>
<line x1="460.6" y1="313.97" x2="471.3" y2="313.97" stroke="#2b46a6" stroke-width="0.9"/>
<circle cx="466.1" cy="313.97" r="1.3" fill="#2b46a6"/>
<text x="472.8" y="315.47" font-size="6.25" text-anchor="start" fill="#222" stroke="#222" stroke-width="0.16">3 nmol/L Trab</text>
<rect x="51.6" y="128.3" width="12.33" height="14.68" fill="#f8f3a6" stroke="none" stroke-width="1"/>
<rect x="63.93" y="128.3" width="12.33" height="14.68" fill="#f8f3a6" stroke="none" stroke-width="1"/>
<rect x="76.27" y="128.3" width="12.33" height="14.68" fill="#f4f0a7" stroke="none" stroke-width="1"/>
<rect x="88.6" y="128.3" width="12.33" height="14.68" fill="#f4f0a7" stroke="none" stroke-width="1"/>
<rect x="100.93" y="128.3" width="12.33" height="14.68" fill="#f4f0a7" stroke="none" stroke-width="1"/>
<rect x="113.27" y="128.3" width="12.33" height="14.68" fill="#f8f3a6" stroke="none" stroke-width="1"/>
<rect x="51.6" y="142.98" width="12.33" height="14.68" fill="#f9da90" stroke="none" stroke-width="1"/>
<rect x="63.93" y="142.98" width="12.33" height="14.68" fill="#f8f3a6" stroke="none" stroke-width="1"/>
<rect x="76.27" y="142.98" width="12.33" height="14.68" fill="#dae7b0" stroke="none" stroke-width="1"/>
<rect x="88.6" y="142.98" width="12.33" height="14.68" fill="#b0d2c6" stroke="none" stroke-width="1"/>
<rect x="100.93" y="142.98" width="12.33" height="14.68" fill="#accfc8" stroke="none" stroke-width="1"/>
<rect x="113.27" y="142.98" width="12.33" height="14.68" fill="#c2dab9" stroke="none" stroke-width="1"/>
<rect x="51.6" y="157.66" width="12.33" height="14.68" fill="#fac682" stroke="none" stroke-width="1"/>
<rect x="63.93" y="157.66" width="12.33" height="14.68" fill="#f9da90" stroke="none" stroke-width="1"/>
<rect x="76.27" y="157.66" width="12.33" height="14.68" fill="#f4f0a7" stroke="none" stroke-width="1"/>
<rect x="88.6" y="157.66" width="12.33" height="14.68" fill="#93bfd5" stroke="none" stroke-width="1"/>
<rect x="100.93" y="157.66" width="12.33" height="14.68" fill="#75a9da" stroke="none" stroke-width="1"/>
<rect x="113.27" y="157.66" width="12.33" height="14.68" fill="#9ac4d1" stroke="none" stroke-width="1"/>
<rect x="51.6" y="172.34" width="12.33" height="14.68" fill="#f8c980" stroke="none" stroke-width="1"/>
<rect x="63.93" y="172.34" width="12.33" height="14.68" fill="#f9e69a" stroke="none" stroke-width="1"/>
<rect x="76.27" y="172.34" width="12.33" height="14.68" fill="#d2e2b2" stroke="none" stroke-width="1"/>
<rect x="88.6" y="172.34" width="12.33" height="14.68" fill="#8bbbd7" stroke="none" stroke-width="1"/>
<rect x="100.93" y="172.34" width="12.33" height="14.68" fill="#7db1db" stroke="none" stroke-width="1"/>
<rect x="113.27" y="172.34" width="12.33" height="14.68" fill="#c2dab9" stroke="none" stroke-width="1"/>
<rect x="51.6" y="187.02" width="12.33" height="14.68" fill="#f9e69a" stroke="none" stroke-width="1"/>
<rect x="63.93" y="187.02" width="12.33" height="14.68" fill="#f9f1a2" stroke="none" stroke-width="1"/>
<rect x="76.27" y="187.02" width="12.33" height="14.68" fill="#eeeda9" stroke="none" stroke-width="1"/>
<rect x="88.6" y="187.02" width="12.33" height="14.68" fill="#c2dab9" stroke="none" stroke-width="1"/>
<rect x="100.93" y="187.02" width="12.33" height="14.68" fill="#a7cdca" stroke="none" stroke-width="1"/>
<rect x="113.27" y="187.02" width="12.33" height="14.68" fill="#d2e2b2" stroke="none" stroke-width="1"/>
<line x1="63.93" y1="128.3" x2="63.93" y2="201.7" stroke="#ffffff" stroke-width="0.9" stroke-opacity="0.6"/>
<line x1="76.27" y1="128.3" x2="76.27" y2="201.7" stroke="#ffffff" stroke-width="0.9" stroke-opacity="0.6"/>
<line x1="88.6" y1="128.3" x2="88.6" y2="201.7" stroke="#ffffff" stroke-width="0.9" stroke-opacity="0.6"/>
<line x1="100.93" y1="128.3" x2="100.93" y2="201.7" stroke="#ffffff" stroke-width="0.9" stroke-opacity="0.6"/>
<line x1="113.27" y1="128.3" x2="113.27" y2="201.7" stroke="#ffffff" stroke-width="0.9" stroke-opacity="0.6"/>
<line x1="51.6" y1="142.98" x2="125.6" y2="142.98" stroke="#ffffff" stroke-width="0.9" stroke-opacity="0.6"/>
<line x1="51.6" y1="157.66" x2="125.6" y2="157.66" stroke="#ffffff" stroke-width="0.9" stroke-opacity="0.6"/>
<line x1="51.6" y1="172.34" x2="125.6" y2="172.34" stroke="#ffffff" stroke-width="0.9" stroke-opacity="0.6"/>
<line x1="51.6" y1="187.02" x2="125.6" y2="187.02" stroke="#ffffff" stroke-width="0.9" stroke-opacity="0.6"/>
<rect x="51.6" y="128.3" width="74" height="73.4" fill="none" stroke="#8e8c7c" stroke-width="1"/>
<text x="57.77" y="137.64" font-size="5.6" text-anchor="middle" fill="#2a2a2a" stroke="#2a2a2a" stroke-width="0.1">0</text>
<text x="70.1" y="137.64" font-size="5.6" text-anchor="middle" fill="#2a2a2a" stroke="#2a2a2a" stroke-width="0.1">0</text>
<text x="82.43" y="137.64" font-size="5.6" text-anchor="middle" fill="#2a2a2a" stroke="#2a2a2a" stroke-width="0.1">1</text>
<text x="94.77" y="137.64" font-size="5.6" text-anchor="middle" fill="#2a2a2a" stroke="#2a2a2a" stroke-width="0.1">1</text>
<text x="107.1" y="137.64" font-size="5.6" text-anchor="middle" fill="#2a2a2a" stroke="#2a2a2a" stroke-width="0.1">1</text>
<text x="119.43" y="137.64" font-size="5.6" text-anchor="middle" fill="#2a2a2a" stroke="#2a2a2a" stroke-width="0.1">0</text>
<text x="57.77" y="152.32" font-size="5.6" text-anchor="middle" fill="#2a2a2a" stroke="#2a2a2a" stroke-width="0.1">-3</text>
<text x="70.1" y="152.32" font-size="5.6" text-anchor="middle" fill="#2a2a2a" stroke="#2a2a2a" stroke-width="0.1">0</text>
<text x="82.43" y="152.32" font-size="5.6" text-anchor="middle" fill="#2a2a2a" stroke="#2a2a2a" stroke-width="0.1">4</text>
<text x="94.77" y="152.32" font-size="5.6" text-anchor="middle" fill="#2a2a2a" stroke="#2a2a2a" stroke-width="0.1">9</text>
<text x="107.1" y="152.32" font-size="5.6" text-anchor="middle" fill="#2a2a2a" stroke="#2a2a2a" stroke-width="0.1">10</text>
<text x="119.43" y="152.32" font-size="5.6" text-anchor="middle" fill="#2a2a2a" stroke="#2a2a2a" stroke-width="0.1">7</text>
<text x="57.77" y="167" font-size="5.6" text-anchor="middle" fill="#2a2a2a" stroke="#2a2a2a" stroke-width="0.1">-6</text>
<text x="70.1" y="167" font-size="5.6" text-anchor="middle" fill="#2a2a2a" stroke="#2a2a2a" stroke-width="0.1">-3</text>
<text x="82.43" y="167" font-size="5.6" text-anchor="middle" fill="#2a2a2a" stroke="#2a2a2a" stroke-width="0.1">1</text>
<text x="94.77" y="167" font-size="5.6" text-anchor="middle" fill="#2a2a2a" stroke="#2a2a2a" stroke-width="0.1">14</text>
<text x="107.1" y="167" font-size="5.6" text-anchor="middle" fill="#2a2a2a" stroke="#2a2a2a" stroke-width="0.1">18</text>
<text x="119.43" y="167" font-size="5.6" text-anchor="middle" fill="#2a2a2a" stroke="#2a2a2a" stroke-width="0.1">13</text>
<text x="57.77" y="181.68" font-size="5.6" text-anchor="middle" fill="#2a2a2a" stroke="#2a2a2a" stroke-width="0.1">-5</text>
<text x="70.1" y="181.68" font-size="5.6" text-anchor="middle" fill="#2a2a2a" stroke="#2a2a2a" stroke-width="0.1">-2</text>
<text x="82.43" y="181.68" font-size="5.6" text-anchor="middle" fill="#2a2a2a" stroke="#2a2a2a" stroke-width="0.1">5</text>
<text x="94.77" y="181.68" font-size="5.6" text-anchor="middle" fill="#2a2a2a" stroke="#2a2a2a" stroke-width="0.1">15</text>
<text x="107.1" y="181.68" font-size="5.6" text-anchor="middle" fill="#2a2a2a" stroke="#2a2a2a" stroke-width="0.1">17</text>
<text x="119.43" y="181.68" font-size="5.6" text-anchor="middle" fill="#2a2a2a" stroke="#2a2a2a" stroke-width="0.1">7</text>
<text x="57.77" y="196.36" font-size="5.6" text-anchor="middle" fill="#2a2a2a" stroke="#2a2a2a" stroke-width="0.1">-2</text>
<text x="70.1" y="196.36" font-size="5.6" text-anchor="middle" fill="#2a2a2a" stroke="#2a2a2a" stroke-width="0.1">-1</text>
<text x="82.43" y="196.36" font-size="5.6" text-anchor="middle" fill="#2a2a2a" stroke="#2a2a2a" stroke-width="0.1">2</text>
<text x="94.77" y="196.36" font-size="5.6" text-anchor="middle" fill="#2a2a2a" stroke="#2a2a2a" stroke-width="0.1">7</text>
<text x="107.1" y="196.36" font-size="5.6" text-anchor="middle" fill="#2a2a2a" stroke="#2a2a2a" stroke-width="0.1">11</text>
<text x="119.43" y="196.36" font-size="5.6" text-anchor="middle" fill="#2a2a2a" stroke="#2a2a2a" stroke-width="0.1">5</text>
<line x1="48" y1="135.64" x2="51.6" y2="135.64" stroke="#444" stroke-width="0.8"/>
<text x="47.3" y="138.14" font-size="7" text-anchor="end" fill="#3c3c3c" stroke="#3c3c3c" stroke-width="0.16">3</text>
<line x1="48" y1="150.32" x2="51.6" y2="150.32" stroke="#444" stroke-width="0.8"/>
<text x="47.3" y="152.82" font-size="7" text-anchor="end" fill="#3c3c3c" stroke="#3c3c3c" stroke-width="0.16">1</text>
<line x1="48" y1="165" x2="51.6" y2="165" stroke="#444" stroke-width="0.8"/>
<text x="47.3" y="167.5" font-size="7" text-anchor="end" fill="#3c3c3c" stroke="#3c3c3c" stroke-width="0.16">0.3</text>
<line x1="48" y1="179.68" x2="51.6" y2="179.68" stroke="#444" stroke-width="0.8"/>
<text x="47.3" y="182.18" font-size="7" text-anchor="end" fill="#3c3c3c" stroke="#3c3c3c" stroke-width="0.16">0.1</text>
<line x1="48" y1="194.36" x2="51.6" y2="194.36" stroke="#444" stroke-width="0.8"/>
<text x="47.3" y="196.86" font-size="7" text-anchor="end" fill="#3c3c3c" stroke="#3c3c3c" stroke-width="0.16">0.03</text>
<line x1="57.77" y1="201.7" x2="57.77" y2="204.9" stroke="#444" stroke-width="0.8"/>
<text x="60.27" y="206.7" font-size="7" text-anchor="end" fill="#3c3c3c" transform="rotate(-90 60.27 206.7)" stroke="#3c3c3c" stroke-width="0.16">0.03</text>
<line x1="70.1" y1="201.7" x2="70.1" y2="204.9" stroke="#444" stroke-width="0.8"/>
<text x="72.6" y="206.7" font-size="7" text-anchor="end" fill="#3c3c3c" transform="rotate(-90 72.6 206.7)" stroke="#3c3c3c" stroke-width="0.16">0.1</text>
<line x1="82.43" y1="201.7" x2="82.43" y2="204.9" stroke="#444" stroke-width="0.8"/>
<text x="84.93" y="206.7" font-size="7" text-anchor="end" fill="#3c3c3c" transform="rotate(-90 84.93 206.7)" stroke="#3c3c3c" stroke-width="0.16">0.3</text>
<line x1="94.77" y1="201.7" x2="94.77" y2="204.9" stroke="#444" stroke-width="0.8"/>
<text x="97.27" y="206.7" font-size="7" text-anchor="end" fill="#3c3c3c" transform="rotate(-90 97.27 206.7)" stroke="#3c3c3c" stroke-width="0.16">1</text>
<line x1="107.1" y1="201.7" x2="107.1" y2="204.9" stroke="#444" stroke-width="0.8"/>
<text x="109.6" y="206.7" font-size="7" text-anchor="end" fill="#3c3c3c" transform="rotate(-90 109.6 206.7)" stroke="#3c3c3c" stroke-width="0.16">3</text>
<line x1="119.43" y1="201.7" x2="119.43" y2="204.9" stroke="#444" stroke-width="0.8"/>
<text x="121.93" y="206.7" font-size="7" text-anchor="end" fill="#3c3c3c" transform="rotate(-90 121.93 206.7)" stroke="#3c3c3c" stroke-width="0.16">10</text>
<text x="53.1" y="231.3" font-size="8.85" text-anchor="start" fill="#222" font-weight="bold" stroke="#222" stroke-width="0.12">Nedisertib (µmol/L)</text>
<text x="30" y="165.5" font-size="9" text-anchor="middle" fill="#222" font-weight="bold" transform="rotate(-90 30 165.5)" stroke="#222" stroke-width="0.12">Trabectedin (nmol/L)</text>
<rect x="182.2" y="128.3" width="12.23" height="14.68" fill="#efeea8" stroke="none" stroke-width="1"/>
<rect x="194.43" y="128.3" width="12.23" height="14.68" fill="#b2d3c5" stroke="none" stroke-width="1"/>
<rect x="206.67" y="128.3" width="12.23" height="14.68" fill="#90bed6" stroke="none" stroke-width="1"/>
<rect x="218.9" y="128.3" width="12.23" height="14.68" fill="#7bafdb" stroke="none" stroke-width="1"/>
<rect x="231.13" y="128.3" width="12.23" height="14.68" fill="#7bafdb" stroke="none" stroke-width="1"/>
<rect x="243.37" y="128.3" width="12.23" height="14.68" fill="#9ec7ce" stroke="none" stroke-width="1"/>
<rect x="182.2" y="142.98" width="12.23" height="14.68" fill="#efeea8" stroke="none" stroke-width="1"/>
<rect x="194.43" y="142.98" width="12.23" height="14.68" fill="#dbe7b0" stroke="none" stroke-width="1"/>
<rect x="206.67" y="142.98" width="12.23" height="14.68" fill="#588bd0" stroke="none" stroke-width="1"/>
<rect x="218.9" y="142.98" width="12.23" height="14.68" fill="#5585cc" stroke="none" stroke-width="1"/>
<rect x="231.13" y="142.98" width="12.23" height="14.68" fill="#5585cc" stroke="none" stroke-width="1"/>
<rect x="243.37" y="142.98" width="12.23" height="14.68" fill="#5585cc" stroke="none" stroke-width="1"/>
<rect x="182.2" y="157.66" width="12.23" height="14.68" fill="#f8f3a6" stroke="none" stroke-width="1"/>
<rect x="194.43" y="157.66" width="12.23" height="14.68" fill="#f9f1a2" stroke="none" stroke-width="1"/>
<rect x="206.67" y="157.66" width="12.23" height="14.68" fill="#f4f0a7" stroke="none" stroke-width="1"/>
<rect x="218.9" y="157.66" width="12.23" height="14.68" fill="#5585cc" stroke="none" stroke-width="1"/>
<rect x="231.13" y="157.66" width="12.23" height="14.68" fill="#5585cc" stroke="none" stroke-width="1"/>
<rect x="243.37" y="157.66" width="12.23" height="14.68" fill="#5585cc" stroke="none" stroke-width="1"/>
<rect x="182.2" y="172.34" width="12.23" height="14.68" fill="#dbe7b0" stroke="none" stroke-width="1"/>
<rect x="194.43" y="172.34" width="12.23" height="14.68" fill="#e5ebac" stroke="none" stroke-width="1"/>
<rect x="206.67" y="172.34" width="12.23" height="14.68" fill="#f8f3a6" stroke="none" stroke-width="1"/>
<rect x="218.9" y="172.34" width="12.23" height="14.68" fill="#f4f0a7" stroke="none" stroke-width="1"/>
<rect x="231.13" y="172.34" width="12.23" height="14.68" fill="#7bafdb" stroke="none" stroke-width="1"/>
<rect x="243.37" y="172.34" width="12.23" height="14.68" fill="#5585cc" stroke="none" stroke-width="1"/>
<rect x="182.2" y="187.02" width="12.23" height="14.68" fill="#c5dbb6" stroke="none" stroke-width="1"/>
<rect x="194.43" y="187.02" width="12.23" height="14.68" fill="#d4e3b2" stroke="none" stroke-width="1"/>
<rect x="206.67" y="187.02" width="12.23" height="14.68" fill="#dbe7b0" stroke="none" stroke-width="1"/>
<rect x="218.9" y="187.02" width="12.23" height="14.68" fill="#e5ebac" stroke="none" stroke-width="1"/>
<rect x="231.13" y="187.02" width="12.23" height="14.68" fill="#cddfb3" stroke="none" stroke-width="1"/>
<rect x="243.37" y="187.02" width="12.23" height="14.68" fill="#7bafdb" stroke="none" stroke-width="1"/>
<line x1="194.43" y1="128.3" x2="194.43" y2="201.7" stroke="#ffffff" stroke-width="0.9" stroke-opacity="0.6"/>
<line x1="206.67" y1="128.3" x2="206.67" y2="201.7" stroke="#ffffff" stroke-width="0.9" stroke-opacity="0.6"/>
<line x1="218.9" y1="128.3" x2="218.9" y2="201.7" stroke="#ffffff" stroke-width="0.9" stroke-opacity="0.6"/>
<line x1="231.13" y1="128.3" x2="231.13" y2="201.7" stroke="#ffffff" stroke-width="0.9" stroke-opacity="0.6"/>
<line x1="243.37" y1="128.3" x2="243.37" y2="201.7" stroke="#ffffff" stroke-width="0.9" stroke-opacity="0.6"/>
<line x1="182.2" y1="142.98" x2="255.6" y2="142.98" stroke="#ffffff" stroke-width="0.9" stroke-opacity="0.6"/>
<line x1="182.2" y1="157.66" x2="255.6" y2="157.66" stroke="#ffffff" stroke-width="0.9" stroke-opacity="0.6"/>
<line x1="182.2" y1="172.34" x2="255.6" y2="172.34" stroke="#ffffff" stroke-width="0.9" stroke-opacity="0.6"/>
<line x1="182.2" y1="187.02" x2="255.6" y2="187.02" stroke="#ffffff" stroke-width="0.9" stroke-opacity="0.6"/>
<rect x="182.2" y="128.3" width="73.4" height="73.4" fill="none" stroke="#8e8c7c" stroke-width="1"/>
<text x="188.32" y="137.64" font-size="5.6" text-anchor="middle" fill="#2a2a2a" stroke="#2a2a2a" stroke-width="0.1">2</text>
<text x="200.55" y="137.64" font-size="5.6" text-anchor="middle" fill="#2a2a2a" stroke="#2a2a2a" stroke-width="0.1">9</text>
<text x="212.78" y="137.64" font-size="5.6" text-anchor="middle" fill="#2a2a2a" stroke="#2a2a2a" stroke-width="0.1">15</text>
<text x="225.02" y="137.64" font-size="5.6" text-anchor="middle" fill="#2a2a2a" stroke="#2a2a2a" stroke-width="0.1">18</text>
<text x="237.25" y="137.64" font-size="5.6" text-anchor="middle" fill="#2a2a2a" stroke="#2a2a2a" stroke-width="0.1">18</text>
<text x="249.48" y="137.64" font-size="5.6" text-anchor="middle" fill="#2a2a2a" stroke="#2a2a2a" stroke-width="0.1">13</text>
<text x="188.32" y="152.32" font-size="5.6" text-anchor="middle" fill="#2a2a2a" stroke="#2a2a2a" stroke-width="0.1">2</text>
<text x="200.55" y="152.32" font-size="5.6" text-anchor="middle" fill="#2a2a2a" stroke="#2a2a2a" stroke-width="0.1">4</text>
<text x="212.78" y="152.32" font-size="5.6" text-anchor="middle" fill="#2a2a2a" stroke="#2a2a2a" stroke-width="0.1">23</text>
<text x="225.02" y="152.32" font-size="5.6" text-anchor="middle" fill="#2a2a2a" stroke="#2a2a2a" stroke-width="0.1">57</text>
<text x="237.25" y="152.32" font-size="5.6" text-anchor="middle" fill="#2a2a2a" stroke="#2a2a2a" stroke-width="0.1">59</text>
<text x="249.48" y="152.32" font-size="5.6" text-anchor="middle" fill="#2a2a2a" stroke="#2a2a2a" stroke-width="0.1">40</text>
<text x="188.32" y="167" font-size="5.6" text-anchor="middle" fill="#2a2a2a" stroke="#2a2a2a" stroke-width="0.1">0</text>
<text x="200.55" y="167" font-size="5.6" text-anchor="middle" fill="#2a2a2a" stroke="#2a2a2a" stroke-width="0.1">-1</text>
<text x="212.78" y="167" font-size="5.6" text-anchor="middle" fill="#2a2a2a" stroke="#2a2a2a" stroke-width="0.1">1</text>
<text x="225.02" y="167" font-size="5.6" text-anchor="middle" fill="#2a2a2a" stroke="#2a2a2a" stroke-width="0.1">25</text>
<text x="237.25" y="167" font-size="5.6" text-anchor="middle" fill="#2a2a2a" stroke="#2a2a2a" stroke-width="0.1">58</text>
<text x="249.48" y="167" font-size="5.6" text-anchor="middle" fill="#2a2a2a" stroke="#2a2a2a" stroke-width="0.1">45</text>
<text x="188.32" y="181.68" font-size="5.6" text-anchor="middle" fill="#2a2a2a" stroke="#2a2a2a" stroke-width="0.1">4</text>
<text x="200.55" y="181.68" font-size="5.6" text-anchor="middle" fill="#2a2a2a" stroke="#2a2a2a" stroke-width="0.1">3</text>
<text x="212.78" y="181.68" font-size="5.6" text-anchor="middle" fill="#2a2a2a" stroke="#2a2a2a" stroke-width="0.1">0</text>
<text x="225.02" y="181.68" font-size="5.6" text-anchor="middle" fill="#2a2a2a" stroke="#2a2a2a" stroke-width="0.1">1</text>
<text x="237.25" y="181.68" font-size="5.6" text-anchor="middle" fill="#2a2a2a" stroke="#2a2a2a" stroke-width="0.1">18</text>
<text x="249.48" y="181.68" font-size="5.6" text-anchor="middle" fill="#2a2a2a" stroke="#2a2a2a" stroke-width="0.1">25</text>
<text x="188.32" y="196.36" font-size="5.6" text-anchor="middle" fill="#2a2a2a" stroke="#2a2a2a" stroke-width="0.1">7</text>
<text x="200.55" y="196.36" font-size="5.6" text-anchor="middle" fill="#2a2a2a" stroke="#2a2a2a" stroke-width="0.1">5</text>
<text x="212.78" y="196.36" font-size="5.6" text-anchor="middle" fill="#2a2a2a" stroke="#2a2a2a" stroke-width="0.1">4</text>
<text x="225.02" y="196.36" font-size="5.6" text-anchor="middle" fill="#2a2a2a" stroke="#2a2a2a" stroke-width="0.1">3</text>
<text x="237.25" y="196.36" font-size="5.6" text-anchor="middle" fill="#2a2a2a" stroke="#2a2a2a" stroke-width="0.1">6</text>
<text x="249.48" y="196.36" font-size="5.6" text-anchor="middle" fill="#2a2a2a" stroke="#2a2a2a" stroke-width="0.1">18</text>
<line x1="178.6" y1="135.64" x2="182.2" y2="135.64" stroke="#444" stroke-width="0.8"/>
<text x="177.9" y="138.14" font-size="7" text-anchor="end" fill="#3c3c3c" stroke="#3c3c3c" stroke-width="0.16">3</text>
<line x1="178.6" y1="150.32" x2="182.2" y2="150.32" stroke="#444" stroke-width="0.8"/>
<text x="177.9" y="152.82" font-size="7" text-anchor="end" fill="#3c3c3c" stroke="#3c3c3c" stroke-width="0.16">1</text>
<line x1="178.6" y1="165" x2="182.2" y2="165" stroke="#444" stroke-width="0.8"/>
<text x="177.9" y="167.5" font-size="7" text-anchor="end" fill="#3c3c3c" stroke="#3c3c3c" stroke-width="0.16">0.3</text>
<line x1="178.6" y1="179.68" x2="182.2" y2="179.68" stroke="#444" stroke-width="0.8"/>
<text x="177.9" y="182.18" font-size="7" text-anchor="end" fill="#3c3c3c" stroke="#3c3c3c" stroke-width="0.16">0.1</text>
<line x1="178.6" y1="194.36" x2="182.2" y2="194.36" stroke="#444" stroke-width="0.8"/>
<text x="177.9" y="196.86" font-size="7" text-anchor="end" fill="#3c3c3c" stroke="#3c3c3c" stroke-width="0.16">0.03</text>
<line x1="188.32" y1="201.7" x2="188.32" y2="204.9" stroke="#444" stroke-width="0.8"/>
<text x="190.82" y="206.7" font-size="7" text-anchor="end" fill="#3c3c3c" transform="rotate(-90 190.82 206.7)" stroke="#3c3c3c" stroke-width="0.16">0.03</text>
<line x1="200.55" y1="201.7" x2="200.55" y2="204.9" stroke="#444" stroke-width="0.8"/>
<text x="203.05" y="206.7" font-size="7" text-anchor="end" fill="#3c3c3c" transform="rotate(-90 203.05 206.7)" stroke="#3c3c3c" stroke-width="0.16">0.1</text>
<line x1="212.78" y1="201.7" x2="212.78" y2="204.9" stroke="#444" stroke-width="0.8"/>
<text x="215.28" y="206.7" font-size="7" text-anchor="end" fill="#3c3c3c" transform="rotate(-90 215.28 206.7)" stroke="#3c3c3c" stroke-width="0.16">0.3</text>
<line x1="225.02" y1="201.7" x2="225.02" y2="204.9" stroke="#444" stroke-width="0.8"/>
<text x="227.52" y="206.7" font-size="7" text-anchor="end" fill="#3c3c3c" transform="rotate(-90 227.52 206.7)" stroke="#3c3c3c" stroke-width="0.16">1</text>
<line x1="237.25" y1="201.7" x2="237.25" y2="204.9" stroke="#444" stroke-width="0.8"/>
<text x="239.75" y="206.7" font-size="7" text-anchor="end" fill="#3c3c3c" transform="rotate(-90 239.75 206.7)" stroke="#3c3c3c" stroke-width="0.16">3</text>
<line x1="249.48" y1="201.7" x2="249.48" y2="204.9" stroke="#444" stroke-width="0.8"/>
<text x="251.98" y="206.7" font-size="7" text-anchor="end" fill="#3c3c3c" transform="rotate(-90 251.98 206.7)" stroke="#3c3c3c" stroke-width="0.16">10</text>
<text x="180.4" y="231.3" font-size="8.85" text-anchor="start" fill="#222" font-weight="bold" stroke="#222" stroke-width="0.12">Nedisertib (µmol/L)</text>
<text x="159.5" y="165.5" font-size="9" text-anchor="middle" fill="#222" font-weight="bold" transform="rotate(-90 159.5 165.5)" stroke="#222" stroke-width="0.12">Trabectedin (nmol/L)</text>
<rect x="281.2" y="128.3" width="12.3" height="14.68" fill="#f3f0a7" stroke="none" stroke-width="1"/>
<rect x="293.5" y="128.3" width="12.3" height="14.68" fill="#f3f0a7" stroke="none" stroke-width="1"/>
<rect x="305.8" y="128.3" width="12.3" height="14.68" fill="#f6f1a7" stroke="none" stroke-width="1"/>
<rect x="318.1" y="128.3" width="12.3" height="14.68" fill="#f6f1a7" stroke="none" stroke-width="1"/>
<rect x="330.4" y="128.3" width="12.3" height="14.68" fill="#f8f3a6" stroke="none" stroke-width="1"/>
<rect x="342.7" y="128.3" width="12.3" height="14.68" fill="#f8f3a6" stroke="none" stroke-width="1"/>
<rect x="281.2" y="142.98" width="12.3" height="14.68" fill="#f8f3a6" stroke="none" stroke-width="1"/>
<rect x="293.5" y="142.98" width="12.3" height="14.68" fill="#f6f1a7" stroke="none" stroke-width="1"/>
<rect x="305.8" y="142.98" width="12.3" height="14.68" fill="#f6f1a7" stroke="none" stroke-width="1"/>
<rect x="318.1" y="142.98" width="12.3" height="14.68" fill="#f6f1a7" stroke="none" stroke-width="1"/>
<rect x="330.4" y="142.98" width="12.3" height="14.68" fill="#f8f3a6" stroke="none" stroke-width="1"/>
<rect x="342.7" y="142.98" width="12.3" height="14.68" fill="#f8f3a6" stroke="none" stroke-width="1"/>
<rect x="281.2" y="157.66" width="12.3" height="14.68" fill="#f6f1a7" stroke="none" stroke-width="1"/>
<rect x="293.5" y="157.66" width="12.3" height="14.68" fill="#dee9af" stroke="none" stroke-width="1"/>
<rect x="305.8" y="157.66" width="12.3" height="14.68" fill="#d1e2b2" stroke="none" stroke-width="1"/>
<rect x="318.1" y="157.66" width="12.3" height="14.68" fill="#d5e4b1" stroke="none" stroke-width="1"/>
<rect x="330.4" y="157.66" width="12.3" height="14.68" fill="#e5ebac" stroke="none" stroke-width="1"/>
<rect x="342.7" y="157.66" width="12.3" height="14.68" fill="#f0eea8" stroke="none" stroke-width="1"/>
<rect x="281.2" y="172.34" width="12.3" height="14.68" fill="#c9dcb4" stroke="none" stroke-width="1"/>
<rect x="293.5" y="172.34" width="12.3" height="14.68" fill="#b6d5c2" stroke="none" stroke-width="1"/>
<rect x="305.8" y="172.34" width="12.3" height="14.68" fill="#90bed6" stroke="none" stroke-width="1"/>
<rect x="318.1" y="172.34" width="12.3" height="14.68" fill="#5788ce" stroke="none" stroke-width="1"/>
<rect x="330.4" y="172.34" width="12.3" height="14.68" fill="#77abda" stroke="none" stroke-width="1"/>
<rect x="342.7" y="172.34" width="12.3" height="14.68" fill="#add0c7" stroke="none" stroke-width="1"/>
<rect x="281.2" y="187.02" width="12.3" height="14.68" fill="#f6f1a7" stroke="none" stroke-width="1"/>
<rect x="293.5" y="187.02" width="12.3" height="14.68" fill="#e5ebac" stroke="none" stroke-width="1"/>
<rect x="305.8" y="187.02" width="12.3" height="14.68" fill="#c3dab8" stroke="none" stroke-width="1"/>
<rect x="318.1" y="187.02" width="12.3" height="14.68" fill="#b0d2c6" stroke="none" stroke-width="1"/>
<rect x="330.4" y="187.02" width="12.3" height="14.68" fill="#c3dab8" stroke="none" stroke-width="1"/>
<rect x="342.7" y="187.02" width="12.3" height="14.68" fill="#c3dab8" stroke="none" stroke-width="1"/>
<line x1="293.5" y1="128.3" x2="293.5" y2="201.7" stroke="#ffffff" stroke-width="0.9" stroke-opacity="0.6"/>
<line x1="305.8" y1="128.3" x2="305.8" y2="201.7" stroke="#ffffff" stroke-width="0.9" stroke-opacity="0.6"/>
<line x1="318.1" y1="128.3" x2="318.1" y2="201.7" stroke="#ffffff" stroke-width="0.9" stroke-opacity="0.6"/>
<line x1="330.4" y1="128.3" x2="330.4" y2="201.7" stroke="#ffffff" stroke-width="0.9" stroke-opacity="0.6"/>
<line x1="342.7" y1="128.3" x2="342.7" y2="201.7" stroke="#ffffff" stroke-width="0.9" stroke-opacity="0.6"/>
<line x1="281.2" y1="142.98" x2="355" y2="142.98" stroke="#ffffff" stroke-width="0.9" stroke-opacity="0.6"/>
<line x1="281.2" y1="157.66" x2="355" y2="157.66" stroke="#ffffff" stroke-width="0.9" stroke-opacity="0.6"/>
<line x1="281.2" y1="172.34" x2="355" y2="172.34" stroke="#ffffff" stroke-width="0.9" stroke-opacity="0.6"/>
<line x1="281.2" y1="187.02" x2="355" y2="187.02" stroke="#ffffff" stroke-width="0.9" stroke-opacity="0.6"/>
<rect x="281.2" y="128.3" width="73.8" height="73.4" fill="none" stroke="#8e8c7c" stroke-width="1"/>
<text x="287.35" y="137.64" font-size="5.6" text-anchor="middle" fill="#2a2a2a" stroke="#2a2a2a" stroke-width="0.1">2</text>
<text x="299.65" y="137.64" font-size="5.6" text-anchor="middle" fill="#2a2a2a" stroke="#2a2a2a" stroke-width="0.1">2</text>
<text x="311.95" y="137.64" font-size="5.6" text-anchor="middle" fill="#2a2a2a" stroke="#2a2a2a" stroke-width="0.1">1</text>
<text x="324.25" y="137.64" font-size="5.6" text-anchor="middle" fill="#2a2a2a" stroke="#2a2a2a" stroke-width="0.1">1</text>
<text x="336.55" y="137.64" font-size="5.6" text-anchor="middle" fill="#2a2a2a" stroke="#2a2a2a" stroke-width="0.1">0</text>
<text x="348.85" y="137.64" font-size="5.6" text-anchor="middle" fill="#2a2a2a" stroke="#2a2a2a" stroke-width="0.1">0</text>
<text x="287.35" y="152.32" font-size="5.6" text-anchor="middle" fill="#2a2a2a" stroke="#2a2a2a" stroke-width="0.1">0</text>
<text x="299.65" y="152.32" font-size="5.6" text-anchor="middle" fill="#2a2a2a" stroke="#2a2a2a" stroke-width="0.1">1</text>
<text x="311.95" y="152.32" font-size="5.6" text-anchor="middle" fill="#2a2a2a" stroke="#2a2a2a" stroke-width="0.1">1</text>
<text x="324.25" y="152.32" font-size="5.6" text-anchor="middle" fill="#2a2a2a" stroke="#2a2a2a" stroke-width="0.1">1</text>
<text x="336.55" y="152.32" font-size="5.6" text-anchor="middle" fill="#2a2a2a" stroke="#2a2a2a" stroke-width="0.1">0</text>
<text x="348.85" y="152.32" font-size="5.6" text-anchor="middle" fill="#2a2a2a" stroke="#2a2a2a" stroke-width="0.1">0</text>
<text x="287.35" y="167" font-size="5.6" text-anchor="middle" fill="#2a2a2a" stroke="#2a2a2a" stroke-width="0.1">1</text>
<text x="299.65" y="167" font-size="5.6" text-anchor="middle" fill="#2a2a2a" stroke="#2a2a2a" stroke-width="0.1">6</text>
<text x="311.95" y="167" font-size="5.6" text-anchor="middle" fill="#2a2a2a" stroke="#2a2a2a" stroke-width="0.1">9</text>
<text x="324.25" y="167" font-size="5.6" text-anchor="middle" fill="#2a2a2a" stroke="#2a2a2a" stroke-width="0.1">8</text>
<text x="336.55" y="167" font-size="5.6" text-anchor="middle" fill="#2a2a2a" stroke="#2a2a2a" stroke-width="0.1">5</text>
<text x="348.85" y="167" font-size="5.6" text-anchor="middle" fill="#2a2a2a" stroke="#2a2a2a" stroke-width="0.1">3</text>
<text x="287.35" y="181.68" font-size="5.6" text-anchor="middle" fill="#2a2a2a" stroke="#2a2a2a" stroke-width="0.1">11</text>
<text x="299.65" y="181.68" font-size="5.6" text-anchor="middle" fill="#2a2a2a" stroke="#2a2a2a" stroke-width="0.1">14</text>
<text x="311.95" y="181.68" font-size="5.6" text-anchor="middle" fill="#2a2a2a" stroke="#2a2a2a" stroke-width="0.1">25</text>
<text x="324.25" y="181.68" font-size="5.6" text-anchor="middle" fill="#2a2a2a" stroke="#2a2a2a" stroke-width="0.1">39</text>
<text x="336.55" y="181.68" font-size="5.6" text-anchor="middle" fill="#2a2a2a" stroke="#2a2a2a" stroke-width="0.1">31</text>
<text x="348.85" y="181.68" font-size="5.6" text-anchor="middle" fill="#2a2a2a" stroke="#2a2a2a" stroke-width="0.1">17</text>
<text x="287.35" y="196.36" font-size="5.6" text-anchor="middle" fill="#2a2a2a" stroke="#2a2a2a" stroke-width="0.1">1</text>
<text x="299.65" y="196.36" font-size="5.6" text-anchor="middle" fill="#2a2a2a" stroke="#2a2a2a" stroke-width="0.1">5</text>
<text x="311.95" y="196.36" font-size="5.6" text-anchor="middle" fill="#2a2a2a" stroke="#2a2a2a" stroke-width="0.1">12</text>
<text x="324.25" y="196.36" font-size="5.6" text-anchor="middle" fill="#2a2a2a" stroke="#2a2a2a" stroke-width="0.1">16</text>
<text x="336.55" y="196.36" font-size="5.6" text-anchor="middle" fill="#2a2a2a" stroke="#2a2a2a" stroke-width="0.1">12</text>
<text x="348.85" y="196.36" font-size="5.6" text-anchor="middle" fill="#2a2a2a" stroke="#2a2a2a" stroke-width="0.1">12</text>
<line x1="277.6" y1="135.64" x2="281.2" y2="135.64" stroke="#444" stroke-width="0.8"/>
<text x="276.9" y="138.14" font-size="7" text-anchor="end" fill="#3c3c3c" stroke="#3c3c3c" stroke-width="0.16">3</text>
<line x1="277.6" y1="150.32" x2="281.2" y2="150.32" stroke="#444" stroke-width="0.8"/>
<text x="276.9" y="152.82" font-size="7" text-anchor="end" fill="#3c3c3c" stroke="#3c3c3c" stroke-width="0.16">1</text>
<line x1="277.6" y1="165" x2="281.2" y2="165" stroke="#444" stroke-width="0.8"/>
<text x="276.9" y="167.5" font-size="7" text-anchor="end" fill="#3c3c3c" stroke="#3c3c3c" stroke-width="0.16">0.3</text>
<line x1="277.6" y1="179.68" x2="281.2" y2="179.68" stroke="#444" stroke-width="0.8"/>
<text x="276.9" y="182.18" font-size="7" text-anchor="end" fill="#3c3c3c" stroke="#3c3c3c" stroke-width="0.16">0.1</text>
<line x1="277.6" y1="194.36" x2="281.2" y2="194.36" stroke="#444" stroke-width="0.8"/>
<text x="276.9" y="196.86" font-size="7" text-anchor="end" fill="#3c3c3c" stroke="#3c3c3c" stroke-width="0.16">0.03</text>
<line x1="287.35" y1="201.7" x2="287.35" y2="204.9" stroke="#444" stroke-width="0.8"/>
<text x="289.85" y="206.7" font-size="7" text-anchor="end" fill="#3c3c3c" transform="rotate(-90 289.85 206.7)" stroke="#3c3c3c" stroke-width="0.16">0.03</text>
<line x1="299.65" y1="201.7" x2="299.65" y2="204.9" stroke="#444" stroke-width="0.8"/>
<text x="302.15" y="206.7" font-size="7" text-anchor="end" fill="#3c3c3c" transform="rotate(-90 302.15 206.7)" stroke="#3c3c3c" stroke-width="0.16">0.1</text>
<line x1="311.95" y1="201.7" x2="311.95" y2="204.9" stroke="#444" stroke-width="0.8"/>
<text x="314.45" y="206.7" font-size="7" text-anchor="end" fill="#3c3c3c" transform="rotate(-90 314.45 206.7)" stroke="#3c3c3c" stroke-width="0.16">0.3</text>
<line x1="324.25" y1="201.7" x2="324.25" y2="204.9" stroke="#444" stroke-width="0.8"/>
<text x="326.75" y="206.7" font-size="7" text-anchor="end" fill="#3c3c3c" transform="rotate(-90 326.75 206.7)" stroke="#3c3c3c" stroke-width="0.16">1</text>
<line x1="336.55" y1="201.7" x2="336.55" y2="204.9" stroke="#444" stroke-width="0.8"/>
<text x="339.05" y="206.7" font-size="7" text-anchor="end" fill="#3c3c3c" transform="rotate(-90 339.05 206.7)" stroke="#3c3c3c" stroke-width="0.16">3</text>
<line x1="348.85" y1="201.7" x2="348.85" y2="204.9" stroke="#444" stroke-width="0.8"/>
<text x="351.35" y="206.7" font-size="7" text-anchor="end" fill="#3c3c3c" transform="rotate(-90 351.35 206.7)" stroke="#3c3c3c" stroke-width="0.16">10</text>
<text x="281.3" y="231.3" font-size="8.85" text-anchor="start" fill="#222" font-weight="bold" stroke="#222" stroke-width="0.12">Nedisertib (µmol/L)</text>
<rect x="382.4" y="128.3" width="12.17" height="14.68" fill="#f8f3a6" stroke="none" stroke-width="1"/>
<rect x="394.57" y="128.3" width="12.17" height="14.68" fill="#f8f3a6" stroke="none" stroke-width="1"/>
<rect x="406.73" y="128.3" width="12.17" height="14.68" fill="#f8f3a6" stroke="none" stroke-width="1"/>
<rect x="418.9" y="128.3" width="12.17" height="14.68" fill="#f8f3a6" stroke="none" stroke-width="1"/>
<rect x="431.07" y="128.3" width="12.17" height="14.68" fill="#f8f3a6" stroke="none" stroke-width="1"/>
<rect x="443.23" y="128.3" width="12.17" height="14.68" fill="#f8f3a6" stroke="none" stroke-width="1"/>
<rect x="382.4" y="142.98" width="12.17" height="14.68" fill="#f8f3a6" stroke="none" stroke-width="1"/>
<rect x="394.57" y="142.98" width="12.17" height="14.68" fill="#f8f3a6" stroke="none" stroke-width="1"/>
<rect x="406.73" y="142.98" width="12.17" height="14.68" fill="#f8f3a6" stroke="none" stroke-width="1"/>
<rect x="418.9" y="142.98" width="12.17" height="14.68" fill="#f8f3a6" stroke="none" stroke-width="1"/>
<rect x="431.07" y="142.98" width="12.17" height="14.68" fill="#f8f3a6" stroke="none" stroke-width="1"/>
<rect x="443.23" y="142.98" width="12.17" height="14.68" fill="#f8f3a6" stroke="none" stroke-width="1"/>
<rect x="382.4" y="157.66" width="12.17" height="14.68" fill="#f8f3a6" stroke="none" stroke-width="1"/>
<rect x="394.57" y="157.66" width="12.17" height="14.68" fill="#f8f3a6" stroke="none" stroke-width="1"/>
<rect x="406.73" y="157.66" width="12.17" height="14.68" fill="#f8f3a6" stroke="none" stroke-width="1"/>
<rect x="418.9" y="157.66" width="12.17" height="14.68" fill="#f8f3a6" stroke="none" stroke-width="1"/>
<rect x="431.07" y="157.66" width="12.17" height="14.68" fill="#f8f3a6" stroke="none" stroke-width="1"/>
<rect x="443.23" y="157.66" width="12.17" height="14.68" fill="#f8f3a6" stroke="none" stroke-width="1"/>
<rect x="382.4" y="172.34" width="12.17" height="14.68" fill="#f8f3a6" stroke="none" stroke-width="1"/>
<rect x="394.57" y="172.34" width="12.17" height="14.68" fill="#b0d2c6" stroke="none" stroke-width="1"/>
<rect x="406.73" y="172.34" width="12.17" height="14.68" fill="#8dbcd7" stroke="none" stroke-width="1"/>
<rect x="418.9" y="172.34" width="12.17" height="14.68" fill="#80b4dc" stroke="none" stroke-width="1"/>
<rect x="431.07" y="172.34" width="12.17" height="14.68" fill="#94c0d4" stroke="none" stroke-width="1"/>
<rect x="443.23" y="172.34" width="12.17" height="14.68" fill="#e6ebac" stroke="none" stroke-width="1"/>
<rect x="382.4" y="187.02" width="12.17" height="14.68" fill="#f0eea8" stroke="none" stroke-width="1"/>
<rect x="394.57" y="187.02" width="12.17" height="14.68" fill="#b4d4c4" stroke="none" stroke-width="1"/>
<rect x="406.73" y="187.02" width="12.17" height="14.68" fill="#5585cc" stroke="none" stroke-width="1"/>
<rect x="418.9" y="187.02" width="12.17" height="14.68" fill="#5585cc" stroke="none" stroke-width="1"/>
<rect x="431.07" y="187.02" width="12.17" height="14.68" fill="#5585cc" stroke="none" stroke-width="1"/>
<rect x="443.23" y="187.02" width="12.17" height="14.68" fill="#94c0d4" stroke="none" stroke-width="1"/>
<line x1="394.57" y1="128.3" x2="394.57" y2="201.7" stroke="#ffffff" stroke-width="0.9" stroke-opacity="0.6"/>
<line x1="406.73" y1="128.3" x2="406.73" y2="201.7" stroke="#ffffff" stroke-width="0.9" stroke-opacity="0.6"/>
<line x1="418.9" y1="128.3" x2="418.9" y2="201.7" stroke="#ffffff" stroke-width="0.9" stroke-opacity="0.6"/>
<line x1="431.07" y1="128.3" x2="431.07" y2="201.7" stroke="#ffffff" stroke-width="0.9" stroke-opacity="0.6"/>
<line x1="443.23" y1="128.3" x2="443.23" y2="201.7" stroke="#ffffff" stroke-width="0.9" stroke-opacity="0.6"/>
<line x1="382.4" y1="142.98" x2="455.4" y2="142.98" stroke="#ffffff" stroke-width="0.9" stroke-opacity="0.6"/>
<line x1="382.4" y1="157.66" x2="455.4" y2="157.66" stroke="#ffffff" stroke-width="0.9" stroke-opacity="0.6"/>
<line x1="382.4" y1="172.34" x2="455.4" y2="172.34" stroke="#ffffff" stroke-width="0.9" stroke-opacity="0.6"/>
<line x1="382.4" y1="187.02" x2="455.4" y2="187.02" stroke="#ffffff" stroke-width="0.9" stroke-opacity="0.6"/>
<rect x="382.4" y="128.3" width="73" height="73.4" fill="none" stroke="#8e8c7c" stroke-width="1"/>
<text x="388.48" y="137.64" font-size="5.6" text-anchor="middle" fill="#2a2a2a" stroke="#2a2a2a" stroke-width="0.1">0</text>
<text x="400.65" y="137.64" font-size="5.6" text-anchor="middle" fill="#2a2a2a" stroke="#2a2a2a" stroke-width="0.1">0</text>
<text x="412.82" y="137.64" font-size="5.6" text-anchor="middle" fill="#2a2a2a" stroke="#2a2a2a" stroke-width="0.1">0</text>
<text x="424.98" y="137.64" font-size="5.6" text-anchor="middle" fill="#2a2a2a" stroke="#2a2a2a" stroke-width="0.1">0</text>
<text x="437.15" y="137.64" font-size="5.6" text-anchor="middle" fill="#2a2a2a" stroke="#2a2a2a" stroke-width="0.1">0</text>
<text x="449.32" y="137.64" font-size="5.6" text-anchor="middle" fill="#2a2a2a" stroke="#2a2a2a" stroke-width="0.1">0</text>
<text x="388.48" y="152.32" font-size="5.6" text-anchor="middle" fill="#2a2a2a" stroke="#2a2a2a" stroke-width="0.1">0</text>
<text x="400.65" y="152.32" font-size="5.6" text-anchor="middle" fill="#2a2a2a" stroke="#2a2a2a" stroke-width="0.1">0</text>
<text x="412.82" y="152.32" font-size="5.6" text-anchor="middle" fill="#2a2a2a" stroke="#2a2a2a" stroke-width="0.1">0</text>
<text x="424.98" y="152.32" font-size="5.6" text-anchor="middle" fill="#2a2a2a" stroke="#2a2a2a" stroke-width="0.1">0</text>
<text x="437.15" y="152.32" font-size="5.6" text-anchor="middle" fill="#2a2a2a" stroke="#2a2a2a" stroke-width="0.1">0</text>
<text x="449.32" y="152.32" font-size="5.6" text-anchor="middle" fill="#2a2a2a" stroke="#2a2a2a" stroke-width="0.1">0</text>
<text x="388.48" y="167" font-size="5.6" text-anchor="middle" fill="#2a2a2a" stroke="#2a2a2a" stroke-width="0.1">0</text>
<text x="400.65" y="167" font-size="5.6" text-anchor="middle" fill="#2a2a2a" stroke="#2a2a2a" stroke-width="0.1">0</text>
<text x="412.82" y="167" font-size="5.6" text-anchor="middle" fill="#2a2a2a" stroke="#2a2a2a" stroke-width="0.1">0</text>
<text x="424.98" y="167" font-size="5.6" text-anchor="middle" fill="#2a2a2a" stroke="#2a2a2a" stroke-width="0.1">0</text>
<text x="437.15" y="167" font-size="5.6" text-anchor="middle" fill="#2a2a2a" stroke="#2a2a2a" stroke-width="0.1">0</text>
<text x="449.32" y="167" font-size="5.6" text-anchor="middle" fill="#2a2a2a" stroke="#2a2a2a" stroke-width="0.1">0</text>
<text x="388.48" y="181.68" font-size="5.6" text-anchor="middle" fill="#2a2a2a" stroke="#2a2a2a" stroke-width="0.1">0</text>
<text x="400.65" y="181.68" font-size="5.6" text-anchor="middle" fill="#2a2a2a" stroke="#2a2a2a" stroke-width="0.1">10</text>
<text x="412.82" y="181.68" font-size="5.6" text-anchor="middle" fill="#2a2a2a" stroke="#2a2a2a" stroke-width="0.1">16</text>
<text x="424.98" y="181.68" font-size="5.6" text-anchor="middle" fill="#2a2a2a" stroke="#2a2a2a" stroke-width="0.1">18</text>
<text x="437.15" y="181.68" font-size="5.6" text-anchor="middle" fill="#2a2a2a" stroke="#2a2a2a" stroke-width="0.1">15</text>
<text x="449.32" y="181.68" font-size="5.6" text-anchor="middle" fill="#2a2a2a" stroke="#2a2a2a" stroke-width="0.1">3</text>
<text x="388.48" y="196.36" font-size="5.6" text-anchor="middle" fill="#2a2a2a" stroke="#2a2a2a" stroke-width="0.1">2</text>
<text x="400.65" y="196.36" font-size="5.6" text-anchor="middle" fill="#2a2a2a" stroke="#2a2a2a" stroke-width="0.1">9</text>
<text x="412.82" y="196.36" font-size="5.6" text-anchor="middle" fill="#2a2a2a" stroke="#2a2a2a" stroke-width="0.1">31</text>
<text x="424.98" y="196.36" font-size="5.6" text-anchor="middle" fill="#2a2a2a" stroke="#2a2a2a" stroke-width="0.1">65</text>
<text x="437.15" y="196.36" font-size="5.6" text-anchor="middle" fill="#2a2a2a" stroke="#2a2a2a" stroke-width="0.1">71</text>
<text x="449.32" y="196.36" font-size="5.6" text-anchor="middle" fill="#2a2a2a" stroke="#2a2a2a" stroke-width="0.1">15</text>
<line x1="378.8" y1="135.64" x2="382.4" y2="135.64" stroke="#444" stroke-width="0.8"/>
<text x="378.1" y="138.14" font-size="7" text-anchor="end" fill="#3c3c3c" stroke="#3c3c3c" stroke-width="0.16">3</text>
<line x1="378.8" y1="150.32" x2="382.4" y2="150.32" stroke="#444" stroke-width="0.8"/>
<text x="378.1" y="152.82" font-size="7" text-anchor="end" fill="#3c3c3c" stroke="#3c3c3c" stroke-width="0.16">1</text>
<line x1="378.8" y1="165" x2="382.4" y2="165" stroke="#444" stroke-width="0.8"/>
<text x="378.1" y="167.5" font-size="7" text-anchor="end" fill="#3c3c3c" stroke="#3c3c3c" stroke-width="0.16">0.3</text>
<line x1="378.8" y1="179.68" x2="382.4" y2="179.68" stroke="#444" stroke-width="0.8"/>
<text x="378.1" y="182.18" font-size="7" text-anchor="end" fill="#3c3c3c" stroke="#3c3c3c" stroke-width="0.16">0.1</text>
<line x1="378.8" y1="194.36" x2="382.4" y2="194.36" stroke="#444" stroke-width="0.8"/>
<text x="378.1" y="196.86" font-size="7" text-anchor="end" fill="#3c3c3c" stroke="#3c3c3c" stroke-width="0.16">0.03</text>
<line x1="388.48" y1="201.7" x2="388.48" y2="204.9" stroke="#444" stroke-width="0.8"/>
<text x="390.98" y="206.7" font-size="7" text-anchor="end" fill="#3c3c3c" transform="rotate(-90 390.98 206.7)" stroke="#3c3c3c" stroke-width="0.16">0.03</text>
<line x1="400.65" y1="201.7" x2="400.65" y2="204.9" stroke="#444" stroke-width="0.8"/>
<text x="403.15" y="206.7" font-size="7" text-anchor="end" fill="#3c3c3c" transform="rotate(-90 403.15 206.7)" stroke="#3c3c3c" stroke-width="0.16">0.1</text>
<line x1="412.82" y1="201.7" x2="412.82" y2="204.9" stroke="#444" stroke-width="0.8"/>
<text x="415.32" y="206.7" font-size="7" text-anchor="end" fill="#3c3c3c" transform="rotate(-90 415.32 206.7)" stroke="#3c3c3c" stroke-width="0.16">0.3</text>
<line x1="424.98" y1="201.7" x2="424.98" y2="204.9" stroke="#444" stroke-width="0.8"/>
<text x="427.48" y="206.7" font-size="7" text-anchor="end" fill="#3c3c3c" transform="rotate(-90 427.48 206.7)" stroke="#3c3c3c" stroke-width="0.16">1</text>
<line x1="437.15" y1="201.7" x2="437.15" y2="204.9" stroke="#444" stroke-width="0.8"/>
<text x="439.65" y="206.7" font-size="7" text-anchor="end" fill="#3c3c3c" transform="rotate(-90 439.65 206.7)" stroke="#3c3c3c" stroke-width="0.16">3</text>
<line x1="449.32" y1="201.7" x2="449.32" y2="204.9" stroke="#444" stroke-width="0.8"/>
<text x="451.82" y="206.7" font-size="7" text-anchor="end" fill="#3c3c3c" transform="rotate(-90 451.82 206.7)" stroke="#3c3c3c" stroke-width="0.16">10</text>
<text x="382.7" y="231.3" font-size="8.85" text-anchor="start" fill="#222" font-weight="bold" stroke="#222" stroke-width="0.12">Nedisertib (µmol/L)</text>
<defs><linearGradient id="g1" x1="0" y1="0" x2="0" y2="1"><stop offset="0" stop-color="#4a80cc"/><stop offset="0.18" stop-color="#78acdc"/><stop offset="0.36" stop-color="#b0d2c8"/><stop offset="0.5" stop-color="#f8f2a8"/><stop offset="0.66" stop-color="#f8cc84"/><stop offset="0.82" stop-color="#f49868"/><stop offset="1" stop-color="#e83c3c"/></linearGradient></defs>
<rect x="458" y="128" width="6.1" height="55.8" fill="url(#g1)" stroke="#a0a0a0" stroke-width="0.8"/>
<line x1="463.6" y1="155.9" x2="465.6" y2="155.9" stroke="#666" stroke-width="0.6"/>
<text x="466" y="130" font-size="6" text-anchor="start" fill="#222" stroke="#222" stroke-width="0.16">Synergy</text>
<text x="466" y="158" font-size="6" text-anchor="start" fill="#222" stroke="#222" stroke-width="0.16">Additive</text>
<text x="466" y="184.4" font-size="6" text-anchor="start" fill="#222" stroke="#222" stroke-width="0.16">Antagonism</text>
<rect x="51.4" y="374.2" width="12.33" height="14.58" fill="#f8f3a6" stroke="none" stroke-width="1"/>
<rect x="63.73" y="374.2" width="12.33" height="14.58" fill="#f8f3a6" stroke="none" stroke-width="1"/>
<rect x="76.07" y="374.2" width="12.33" height="14.58" fill="#f3f0a7" stroke="none" stroke-width="1"/>
<rect x="88.4" y="374.2" width="12.33" height="14.58" fill="#f3f0a7" stroke="none" stroke-width="1"/>
<rect x="100.73" y="374.2" width="12.33" height="14.58" fill="#f3f0a7" stroke="none" stroke-width="1"/>
<rect x="113.07" y="374.2" width="12.33" height="14.58" fill="#f3f0a7" stroke="none" stroke-width="1"/>
<rect x="51.4" y="388.78" width="12.33" height="14.58" fill="#f9da90" stroke="none" stroke-width="1"/>
<rect x="63.73" y="388.78" width="12.33" height="14.58" fill="#f9e69a" stroke="none" stroke-width="1"/>
<rect x="76.07" y="388.78" width="12.33" height="14.58" fill="#f9e69a" stroke="none" stroke-width="1"/>
<rect x="88.4" y="388.78" width="12.33" height="14.58" fill="#f9f1a2" stroke="none" stroke-width="1"/>
<rect x="100.73" y="388.78" width="12.33" height="14.58" fill="#f8f3a6" stroke="none" stroke-width="1"/>
<rect x="113.07" y="388.78" width="12.33" height="14.58" fill="#f8f3a6" stroke="none" stroke-width="1"/>
<rect x="51.4" y="403.36" width="12.33" height="14.58" fill="#f9da90" stroke="none" stroke-width="1"/>
<rect x="63.73" y="403.36" width="12.33" height="14.58" fill="#f9da90" stroke="none" stroke-width="1"/>
<rect x="76.07" y="403.36" width="12.33" height="14.58" fill="#f9e69a" stroke="none" stroke-width="1"/>
<rect x="88.4" y="403.36" width="12.33" height="14.58" fill="#f9f1a2" stroke="none" stroke-width="1"/>
<rect x="100.73" y="403.36" width="12.33" height="14.58" fill="#f9f1a2" stroke="none" stroke-width="1"/>
<rect x="113.07" y="403.36" width="12.33" height="14.58" fill="#f3f0a7" stroke="none" stroke-width="1"/>
<rect x="51.4" y="417.94" width="12.33" height="14.58" fill="#f9da90" stroke="none" stroke-width="1"/>
<rect x="63.73" y="417.94" width="12.33" height="14.58" fill="#f9e69a" stroke="none" stroke-width="1"/>
<rect x="76.07" y="417.94" width="12.33" height="14.58" fill="#f9f1a2" stroke="none" stroke-width="1"/>
<rect x="88.4" y="417.94" width="12.33" height="14.58" fill="#f8f3a6" stroke="none" stroke-width="1"/>
<rect x="100.73" y="417.94" width="12.33" height="14.58" fill="#f3f0a7" stroke="none" stroke-width="1"/>
<rect x="113.07" y="417.94" width="12.33" height="14.58" fill="#e0e9ae" stroke="none" stroke-width="1"/>
<rect x="51.4" y="432.52" width="12.33" height="14.58" fill="#f9f1a2" stroke="none" stroke-width="1"/>
<rect x="63.73" y="432.52" width="12.33" height="14.58" fill="#f8f3a6" stroke="none" stroke-width="1"/>
<rect x="76.07" y="432.52" width="12.33" height="14.58" fill="#f8f3a6" stroke="none" stroke-width="1"/>
<rect x="88.4" y="432.52" width="12.33" height="14.58" fill="#f8f3a6" stroke="none" stroke-width="1"/>
<rect x="100.73" y="432.52" width="12.33" height="14.58" fill="#f3f0a7" stroke="none" stroke-width="1"/>
<rect x="113.07" y="432.52" width="12.33" height="14.58" fill="#ecedaa" stroke="none" stroke-width="1"/>
<line x1="63.73" y1="374.2" x2="63.73" y2="447.1" stroke="#ffffff" stroke-width="0.9" stroke-opacity="0.6"/>
<line x1="76.07" y1="374.2" x2="76.07" y2="447.1" stroke="#ffffff" stroke-width="0.9" stroke-opacity="0.6"/>
<line x1="88.4" y1="374.2" x2="88.4" y2="447.1" stroke="#ffffff" stroke-width="0.9" stroke-opacity="0.6"/>
<line x1="100.73" y1="374.2" x2="100.73" y2="447.1" stroke="#ffffff" stroke-width="0.9" stroke-opacity="0.6"/>
<line x1="113.07" y1="374.2" x2="113.07" y2="447.1" stroke="#ffffff" stroke-width="0.9" stroke-opacity="0.6"/>
<line x1="51.4" y1="388.78" x2="125.4" y2="388.78" stroke="#ffffff" stroke-width="0.9" stroke-opacity="0.6"/>
<line x1="51.4" y1="403.36" x2="125.4" y2="403.36" stroke="#ffffff" stroke-width="0.9" stroke-opacity="0.6"/>
<line x1="51.4" y1="417.94" x2="125.4" y2="417.94" stroke="#ffffff" stroke-width="0.9" stroke-opacity="0.6"/>
<line x1="51.4" y1="432.52" x2="125.4" y2="432.52" stroke="#ffffff" stroke-width="0.9" stroke-opacity="0.6"/>
<rect x="51.4" y="374.2" width="74" height="72.9" fill="none" stroke="#8e8c7c" stroke-width="1"/>
<text x="57.57" y="383.49" font-size="5.6" text-anchor="middle" fill="#2a2a2a" stroke="#2a2a2a" stroke-width="0.1">0</text>
<text x="69.9" y="383.49" font-size="5.6" text-anchor="middle" fill="#2a2a2a" stroke="#2a2a2a" stroke-width="0.1">0</text>
<text x="82.23" y="383.49" font-size="5.6" text-anchor="middle" fill="#2a2a2a" stroke="#2a2a2a" stroke-width="0.1">1</text>
<text x="94.57" y="383.49" font-size="5.6" text-anchor="middle" fill="#2a2a2a" stroke="#2a2a2a" stroke-width="0.1">1</text>
<text x="106.9" y="383.49" font-size="5.6" text-anchor="middle" fill="#2a2a2a" stroke="#2a2a2a" stroke-width="0.1">1</text>
<text x="119.23" y="383.49" font-size="5.6" text-anchor="middle" fill="#2a2a2a" stroke="#2a2a2a" stroke-width="0.1">1</text>
<text x="57.57" y="398.07" font-size="5.6" text-anchor="middle" fill="#2a2a2a" stroke="#2a2a2a" stroke-width="0.1">-3</text>
<text x="69.9" y="398.07" font-size="5.6" text-anchor="middle" fill="#2a2a2a" stroke="#2a2a2a" stroke-width="0.1">-2</text>
<text x="82.23" y="398.07" font-size="5.6" text-anchor="middle" fill="#2a2a2a" stroke="#2a2a2a" stroke-width="0.1">-2</text>
<text x="94.57" y="398.07" font-size="5.6" text-anchor="middle" fill="#2a2a2a" stroke="#2a2a2a" stroke-width="0.1">-1</text>
<text x="106.9" y="398.07" font-size="5.6" text-anchor="middle" fill="#2a2a2a" stroke="#2a2a2a" stroke-width="0.1">0</text>
<text x="119.23" y="398.07" font-size="5.6" text-anchor="middle" fill="#2a2a2a" stroke="#2a2a2a" stroke-width="0.1">0</text>
<text x="57.57" y="412.65" font-size="5.6" text-anchor="middle" fill="#2a2a2a" stroke="#2a2a2a" stroke-width="0.1">-3</text>
<text x="69.9" y="412.65" font-size="5.6" text-anchor="middle" fill="#2a2a2a" stroke="#2a2a2a" stroke-width="0.1">-3</text>
<text x="82.23" y="412.65" font-size="5.6" text-anchor="middle" fill="#2a2a2a" stroke="#2a2a2a" stroke-width="0.1">-2</text>
<text x="94.57" y="412.65" font-size="5.6" text-anchor="middle" fill="#2a2a2a" stroke="#2a2a2a" stroke-width="0.1">-1</text>
<text x="106.9" y="412.65" font-size="5.6" text-anchor="middle" fill="#2a2a2a" stroke="#2a2a2a" stroke-width="0.1">-1</text>
<text x="119.23" y="412.65" font-size="5.6" text-anchor="middle" fill="#2a2a2a" stroke="#2a2a2a" stroke-width="0.1">1</text>
<text x="57.57" y="427.23" font-size="5.6" text-anchor="middle" fill="#2a2a2a" stroke="#2a2a2a" stroke-width="0.1">-3</text>
<text x="69.9" y="427.23" font-size="5.6" text-anchor="middle" fill="#2a2a2a" stroke="#2a2a2a" stroke-width="0.1">-2</text>
<text x="82.23" y="427.23" font-size="5.6" text-anchor="middle" fill="#2a2a2a" stroke="#2a2a2a" stroke-width="0.1">-1</text>
<text x="94.57" y="427.23" font-size="5.6" text-anchor="middle" fill="#2a2a2a" stroke="#2a2a2a" stroke-width="0.1">0</text>
<text x="106.9" y="427.23" font-size="5.6" text-anchor="middle" fill="#2a2a2a" stroke="#2a2a2a" stroke-width="0.1">1</text>
<text x="119.23" y="427.23" font-size="5.6" text-anchor="middle" fill="#2a2a2a" stroke="#2a2a2a" stroke-width="0.1">3</text>
<text x="57.57" y="441.81" font-size="5.6" text-anchor="middle" fill="#2a2a2a" stroke="#2a2a2a" stroke-width="0.1">-1</text>
<text x="69.9" y="441.81" font-size="5.6" text-anchor="middle" fill="#2a2a2a" stroke="#2a2a2a" stroke-width="0.1">0</text>
<text x="82.23" y="441.81" font-size="5.6" text-anchor="middle" fill="#2a2a2a" stroke="#2a2a2a" stroke-width="0.1">0</text>
<text x="94.57" y="441.81" font-size="5.6" text-anchor="middle" fill="#2a2a2a" stroke="#2a2a2a" stroke-width="0.1">0</text>
<text x="106.9" y="441.81" font-size="5.6" text-anchor="middle" fill="#2a2a2a" stroke="#2a2a2a" stroke-width="0.1">1</text>
<text x="119.23" y="441.81" font-size="5.6" text-anchor="middle" fill="#2a2a2a" stroke="#2a2a2a" stroke-width="0.1">2</text>
<line x1="47.8" y1="381.49" x2="51.4" y2="381.49" stroke="#444" stroke-width="0.8"/>
<text x="47.1" y="383.99" font-size="7" text-anchor="end" fill="#3c3c3c" stroke="#3c3c3c" stroke-width="0.16">3</text>
<line x1="47.8" y1="396.07" x2="51.4" y2="396.07" stroke="#444" stroke-width="0.8"/>
<text x="47.1" y="398.57" font-size="7" text-anchor="end" fill="#3c3c3c" stroke="#3c3c3c" stroke-width="0.16">1</text>
<line x1="47.8" y1="410.65" x2="51.4" y2="410.65" stroke="#444" stroke-width="0.8"/>
<text x="47.1" y="413.15" font-size="7" text-anchor="end" fill="#3c3c3c" stroke="#3c3c3c" stroke-width="0.16">0.3</text>
<line x1="47.8" y1="425.23" x2="51.4" y2="425.23" stroke="#444" stroke-width="0.8"/>
<text x="47.1" y="427.73" font-size="7" text-anchor="end" fill="#3c3c3c" stroke="#3c3c3c" stroke-width="0.16">0.1</text>
<line x1="47.8" y1="439.81" x2="51.4" y2="439.81" stroke="#444" stroke-width="0.8"/>
<text x="47.1" y="442.31" font-size="7" text-anchor="end" fill="#3c3c3c" stroke="#3c3c3c" stroke-width="0.16">0.03</text>
<line x1="57.57" y1="447.1" x2="57.57" y2="450.3" stroke="#444" stroke-width="0.8"/>
<text x="60.07" y="452.1" font-size="7" text-anchor="end" fill="#3c3c3c" transform="rotate(-90 60.07 452.1)" stroke="#3c3c3c" stroke-width="0.16">0.03</text>
<line x1="69.9" y1="447.1" x2="69.9" y2="450.3" stroke="#444" stroke-width="0.8"/>
<text x="72.4" y="452.1" font-size="7" text-anchor="end" fill="#3c3c3c" transform="rotate(-90 72.4 452.1)" stroke="#3c3c3c" stroke-width="0.16">0.1</text>
<line x1="82.23" y1="447.1" x2="82.23" y2="450.3" stroke="#444" stroke-width="0.8"/>
<text x="84.73" y="452.1" font-size="7" text-anchor="end" fill="#3c3c3c" transform="rotate(-90 84.73 452.1)" stroke="#3c3c3c" stroke-width="0.16">0.3</text>
<line x1="94.57" y1="447.1" x2="94.57" y2="450.3" stroke="#444" stroke-width="0.8"/>
<text x="97.07" y="452.1" font-size="7" text-anchor="end" fill="#3c3c3c" transform="rotate(-90 97.07 452.1)" stroke="#3c3c3c" stroke-width="0.16">1</text>
<line x1="106.9" y1="447.1" x2="106.9" y2="450.3" stroke="#444" stroke-width="0.8"/>
<text x="109.4" y="452.1" font-size="7" text-anchor="end" fill="#3c3c3c" transform="rotate(-90 109.4 452.1)" stroke="#3c3c3c" stroke-width="0.16">3</text>
<line x1="119.23" y1="447.1" x2="119.23" y2="450.3" stroke="#444" stroke-width="0.8"/>
<text x="121.73" y="452.1" font-size="7" text-anchor="end" fill="#3c3c3c" transform="rotate(-90 121.73 452.1)" stroke="#3c3c3c" stroke-width="0.16">10</text>
<text x="57.5" y="476.7" font-size="8.85" text-anchor="start" fill="#222" font-weight="bold" stroke="#222" stroke-width="0.12">VX-984 (µmol/L)</text>
<text x="30" y="416.15" font-size="9" text-anchor="middle" fill="#222" font-weight="bold" transform="rotate(-90 30 416.15)" stroke="#222" stroke-width="0.12">Trabectedin (nmol/L)</text>
<rect x="180.8" y="373.7" width="12.3" height="14.68" fill="#f9f1a2" stroke="none" stroke-width="1"/>
<rect x="193.1" y="373.7" width="12.3" height="14.68" fill="#eeeda9" stroke="none" stroke-width="1"/>
<rect x="205.4" y="373.7" width="12.3" height="14.68" fill="#d2e2b2" stroke="none" stroke-width="1"/>
<rect x="217.7" y="373.7" width="12.3" height="14.68" fill="#b7d5c2" stroke="none" stroke-width="1"/>
<rect x="230" y="373.7" width="12.3" height="14.68" fill="#a2cacc" stroke="none" stroke-width="1"/>
<rect x="242.3" y="373.7" width="12.3" height="14.68" fill="#84b6da" stroke="none" stroke-width="1"/>
<rect x="180.8" y="388.38" width="12.3" height="14.68" fill="#f59066" stroke="none" stroke-width="1"/>
<rect x="193.1" y="388.38" width="12.3" height="14.68" fill="#f7a676" stroke="none" stroke-width="1"/>
<rect x="205.4" y="388.38" width="12.3" height="14.68" fill="#fac682" stroke="none" stroke-width="1"/>
<rect x="217.7" y="388.38" width="12.3" height="14.68" fill="#f4f0a7" stroke="none" stroke-width="1"/>
<rect x="230" y="388.38" width="12.3" height="14.68" fill="#b0d2c6" stroke="none" stroke-width="1"/>
<rect x="242.3" y="388.38" width="12.3" height="14.68" fill="#669ad7" stroke="none" stroke-width="1"/>
<rect x="180.8" y="403.06" width="12.3" height="14.68" fill="#eeeda9" stroke="none" stroke-width="1"/>
<rect x="193.1" y="403.06" width="12.3" height="14.68" fill="#eeeda9" stroke="none" stroke-width="1"/>
<rect x="205.4" y="403.06" width="12.3" height="14.68" fill="#eeeda9" stroke="none" stroke-width="1"/>
<rect x="217.7" y="403.06" width="12.3" height="14.68" fill="#eeeda9" stroke="none" stroke-width="1"/>
<rect x="230" y="403.06" width="12.3" height="14.68" fill="#eeeda9" stroke="none" stroke-width="1"/>
<rect x="242.3" y="403.06" width="12.3" height="14.68" fill="#cbdeb3" stroke="none" stroke-width="1"/>
<rect x="180.8" y="417.74" width="12.3" height="14.68" fill="#eeeda9" stroke="none" stroke-width="1"/>
<rect x="193.1" y="417.74" width="12.3" height="14.68" fill="#eeeda9" stroke="none" stroke-width="1"/>
<rect x="205.4" y="417.74" width="12.3" height="14.68" fill="#eeeda9" stroke="none" stroke-width="1"/>
<rect x="217.7" y="417.74" width="12.3" height="14.68" fill="#eeeda9" stroke="none" stroke-width="1"/>
<rect x="230" y="417.74" width="12.3" height="14.68" fill="#eeeda9" stroke="none" stroke-width="1"/>
<rect x="242.3" y="417.74" width="12.3" height="14.68" fill="#eeeda9" stroke="none" stroke-width="1"/>
<rect x="180.8" y="432.42" width="12.3" height="14.68" fill="#f8f3a6" stroke="none" stroke-width="1"/>
<rect x="193.1" y="432.42" width="12.3" height="14.68" fill="#f8f3a6" stroke="none" stroke-width="1"/>
<rect x="205.4" y="432.42" width="12.3" height="14.68" fill="#f8f3a6" stroke="none" stroke-width="1"/>
<rect x="217.7" y="432.42" width="12.3" height="14.68" fill="#f8f3a6" stroke="none" stroke-width="1"/>
<rect x="230" y="432.42" width="12.3" height="14.68" fill="#f8f3a6" stroke="none" stroke-width="1"/>
<rect x="242.3" y="432.42" width="12.3" height="14.68" fill="#f8f3a6" stroke="none" stroke-width="1"/>
<line x1="193.1" y1="373.7" x2="193.1" y2="447.1" stroke="#ffffff" stroke-width="0.9" stroke-opacity="0.6"/>
<line x1="205.4" y1="373.7" x2="205.4" y2="447.1" stroke="#ffffff" stroke-width="0.9" stroke-opacity="0.6"/>
<line x1="217.7" y1="373.7" x2="217.7" y2="447.1" stroke="#ffffff" stroke-width="0.9" stroke-opacity="0.6"/>
<line x1="230" y1="373.7" x2="230" y2="447.1" stroke="#ffffff" stroke-width="0.9" stroke-opacity="0.6"/>
<line x1="242.3" y1="373.7" x2="242.3" y2="447.1" stroke="#ffffff" stroke-width="0.9" stroke-opacity="0.6"/>
<line x1="180.8" y1="388.38" x2="254.6" y2="388.38" stroke="#ffffff" stroke-width="0.9" stroke-opacity="0.6"/>
<line x1="180.8" y1="403.06" x2="254.6" y2="403.06" stroke="#ffffff" stroke-width="0.9" stroke-opacity="0.6"/>
<line x1="180.8" y1="417.74" x2="254.6" y2="417.74" stroke="#ffffff" stroke-width="0.9" stroke-opacity="0.6"/>
<line x1="180.8" y1="432.42" x2="254.6" y2="432.42" stroke="#ffffff" stroke-width="0.9" stroke-opacity="0.6"/>
<rect x="180.8" y="373.7" width="73.8" height="73.4" fill="none" stroke="#8e8c7c" stroke-width="1"/>
<text x="186.95" y="383.04" font-size="5.6" text-anchor="middle" fill="#2a2a2a" stroke="#2a2a2a" stroke-width="0.1">-1</text>
<text x="199.25" y="383.04" font-size="5.6" text-anchor="middle" fill="#2a2a2a" stroke="#2a2a2a" stroke-width="0.1">2</text>
<text x="211.55" y="383.04" font-size="5.6" text-anchor="middle" fill="#2a2a2a" stroke="#2a2a2a" stroke-width="0.1">5</text>
<text x="223.85" y="383.04" font-size="5.6" text-anchor="middle" fill="#2a2a2a" stroke="#2a2a2a" stroke-width="0.1">8</text>
<text x="236.15" y="383.04" font-size="5.6" text-anchor="middle" fill="#2a2a2a" stroke="#2a2a2a" stroke-width="0.1">12</text>
<text x="248.45" y="383.04" font-size="5.6" text-anchor="middle" fill="#2a2a2a" stroke="#2a2a2a" stroke-width="0.1">16</text>
<text x="186.95" y="397.72" font-size="5.6" text-anchor="middle" fill="#2a2a2a" stroke="#2a2a2a" stroke-width="0.1">-13</text>
<text x="199.25" y="397.72" font-size="5.6" text-anchor="middle" fill="#2a2a2a" stroke="#2a2a2a" stroke-width="0.1">-10</text>
<text x="211.55" y="397.72" font-size="5.6" text-anchor="middle" fill="#2a2a2a" stroke="#2a2a2a" stroke-width="0.1">-6</text>
<text x="223.85" y="397.72" font-size="5.6" text-anchor="middle" fill="#2a2a2a" stroke="#2a2a2a" stroke-width="0.1">1</text>
<text x="236.15" y="397.72" font-size="5.6" text-anchor="middle" fill="#2a2a2a" stroke="#2a2a2a" stroke-width="0.1">9</text>
<text x="248.45" y="397.72" font-size="5.6" text-anchor="middle" fill="#2a2a2a" stroke="#2a2a2a" stroke-width="0.1">20</text>
<text x="186.95" y="412.4" font-size="5.6" text-anchor="middle" fill="#2a2a2a" stroke="#2a2a2a" stroke-width="0.1">2</text>
<text x="199.25" y="412.4" font-size="5.6" text-anchor="middle" fill="#2a2a2a" stroke="#2a2a2a" stroke-width="0.1">2</text>
<text x="211.55" y="412.4" font-size="5.6" text-anchor="middle" fill="#2a2a2a" stroke="#2a2a2a" stroke-width="0.1">2</text>
<text x="223.85" y="412.4" font-size="5.6" text-anchor="middle" fill="#2a2a2a" stroke="#2a2a2a" stroke-width="0.1">2</text>
<text x="236.15" y="412.4" font-size="5.6" text-anchor="middle" fill="#2a2a2a" stroke="#2a2a2a" stroke-width="0.1">2</text>
<text x="248.45" y="412.4" font-size="5.6" text-anchor="middle" fill="#2a2a2a" stroke="#2a2a2a" stroke-width="0.1">6</text>
<text x="186.95" y="427.08" font-size="5.6" text-anchor="middle" fill="#2a2a2a" stroke="#2a2a2a" stroke-width="0.1">2</text>
<text x="199.25" y="427.08" font-size="5.6" text-anchor="middle" fill="#2a2a2a" stroke="#2a2a2a" stroke-width="0.1">2</text>
<text x="211.55" y="427.08" font-size="5.6" text-anchor="middle" fill="#2a2a2a" stroke="#2a2a2a" stroke-width="0.1">2</text>
<text x="223.85" y="427.08" font-size="5.6" text-anchor="middle" fill="#2a2a2a" stroke="#2a2a2a" stroke-width="0.1">2</text>
<text x="236.15" y="427.08" font-size="5.6" text-anchor="middle" fill="#2a2a2a" stroke="#2a2a2a" stroke-width="0.1">2</text>
<text x="248.45" y="427.08" font-size="5.6" text-anchor="middle" fill="#2a2a2a" stroke="#2a2a2a" stroke-width="0.1">2</text>
<text x="186.95" y="441.76" font-size="5.6" text-anchor="middle" fill="#2a2a2a" stroke="#2a2a2a" stroke-width="0.1">0</text>
<text x="199.25" y="441.76" font-size="5.6" text-anchor="middle" fill="#2a2a2a" stroke="#2a2a2a" stroke-width="0.1">0</text>
<text x="211.55" y="441.76" font-size="5.6" text-anchor="middle" fill="#2a2a2a" stroke="#2a2a2a" stroke-width="0.1">0</text>
<text x="223.85" y="441.76" font-size="5.6" text-anchor="middle" fill="#2a2a2a" stroke="#2a2a2a" stroke-width="0.1">0</text>
<text x="236.15" y="441.76" font-size="5.6" text-anchor="middle" fill="#2a2a2a" stroke="#2a2a2a" stroke-width="0.1">0</text>
<text x="248.45" y="441.76" font-size="5.6" text-anchor="middle" fill="#2a2a2a" stroke="#2a2a2a" stroke-width="0.1">0</text>
<line x1="177.2" y1="381.04" x2="180.8" y2="381.04" stroke="#444" stroke-width="0.8"/>
<text x="176.5" y="383.54" font-size="7" text-anchor="end" fill="#3c3c3c" stroke="#3c3c3c" stroke-width="0.16">3</text>
<line x1="177.2" y1="395.72" x2="180.8" y2="395.72" stroke="#444" stroke-width="0.8"/>
<text x="176.5" y="398.22" font-size="7" text-anchor="end" fill="#3c3c3c" stroke="#3c3c3c" stroke-width="0.16">1</text>
<line x1="177.2" y1="410.4" x2="180.8" y2="410.4" stroke="#444" stroke-width="0.8"/>
<text x="176.5" y="412.9" font-size="7" text-anchor="end" fill="#3c3c3c" stroke="#3c3c3c" stroke-width="0.16">0.3</text>
<line x1="177.2" y1="425.08" x2="180.8" y2="425.08" stroke="#444" stroke-width="0.8"/>
<text x="176.5" y="427.58" font-size="7" text-anchor="end" fill="#3c3c3c" stroke="#3c3c3c" stroke-width="0.16">0.1</text>
<line x1="177.2" y1="439.76" x2="180.8" y2="439.76" stroke="#444" stroke-width="0.8"/>
<text x="176.5" y="442.26" font-size="7" text-anchor="end" fill="#3c3c3c" stroke="#3c3c3c" stroke-width="0.16">0.03</text>
<line x1="186.95" y1="447.1" x2="186.95" y2="450.3" stroke="#444" stroke-width="0.8"/>
<text x="189.45" y="452.1" font-size="7" text-anchor="end" fill="#3c3c3c" transform="rotate(-90 189.45 452.1)" stroke="#3c3c3c" stroke-width="0.16">0.03</text>
<line x1="199.25" y1="447.1" x2="199.25" y2="450.3" stroke="#444" stroke-width="0.8"/>
<text x="201.75" y="452.1" font-size="7" text-anchor="end" fill="#3c3c3c" transform="rotate(-90 201.75 452.1)" stroke="#3c3c3c" stroke-width="0.16">0.1</text>
<line x1="211.55" y1="447.1" x2="211.55" y2="450.3" stroke="#444" stroke-width="0.8"/>
<text x="214.05" y="452.1" font-size="7" text-anchor="end" fill="#3c3c3c" transform="rotate(-90 214.05 452.1)" stroke="#3c3c3c" stroke-width="0.16">0.3</text>
<line x1="223.85" y1="447.1" x2="223.85" y2="450.3" stroke="#444" stroke-width="0.8"/>
<text x="226.35" y="452.1" font-size="7" text-anchor="end" fill="#3c3c3c" transform="rotate(-90 226.35 452.1)" stroke="#3c3c3c" stroke-width="0.16">1</text>
<line x1="236.15" y1="447.1" x2="236.15" y2="450.3" stroke="#444" stroke-width="0.8"/>
<text x="238.65" y="452.1" font-size="7" text-anchor="end" fill="#3c3c3c" transform="rotate(-90 238.65 452.1)" stroke="#3c3c3c" stroke-width="0.16">3</text>
<line x1="248.45" y1="447.1" x2="248.45" y2="450.3" stroke="#444" stroke-width="0.8"/>
<text x="250.95" y="452.1" font-size="7" text-anchor="end" fill="#3c3c3c" transform="rotate(-90 250.95 452.1)" stroke="#3c3c3c" stroke-width="0.16">10</text>
<text x="184.4" y="476.7" font-size="8.85" text-anchor="start" fill="#222" font-weight="bold" stroke="#222" stroke-width="0.12">VX-984 (µmol/L)</text>
<text x="159.6" y="415.9" font-size="9" text-anchor="middle" fill="#222" font-weight="bold" transform="rotate(-90 159.6 415.9)" stroke="#222" stroke-width="0.12">Trabectedin (nmol/L)</text>
<rect x="281.2" y="373.7" width="12.27" height="14.68" fill="#f4f0a7" stroke="none" stroke-width="1"/>
<rect x="293.47" y="373.7" width="12.27" height="14.68" fill="#f4f0a7" stroke="none" stroke-width="1"/>
<rect x="305.73" y="373.7" width="12.27" height="14.68" fill="#f4f0a7" stroke="none" stroke-width="1"/>
<rect x="318" y="373.7" width="12.27" height="14.68" fill="#f4f0a7" stroke="none" stroke-width="1"/>
<rect x="330.27" y="373.7" width="12.27" height="14.68" fill="#f4f0a7" stroke="none" stroke-width="1"/>
<rect x="342.53" y="373.7" width="12.27" height="14.68" fill="#f4f0a7" stroke="none" stroke-width="1"/>
<rect x="281.2" y="388.38" width="12.27" height="14.68" fill="#f9f1a2" stroke="none" stroke-width="1"/>
<rect x="293.47" y="388.38" width="12.27" height="14.68" fill="#f9f1a2" stroke="none" stroke-width="1"/>
<rect x="305.73" y="388.38" width="12.27" height="14.68" fill="#f9f1a2" stroke="none" stroke-width="1"/>
<rect x="318" y="388.38" width="12.27" height="14.68" fill="#f9f1a2" stroke="none" stroke-width="1"/>
<rect x="330.27" y="388.38" width="12.27" height="14.68" fill="#f9f1a2" stroke="none" stroke-width="1"/>
<rect x="342.53" y="388.38" width="12.27" height="14.68" fill="#f9f1a2" stroke="none" stroke-width="1"/>
<rect x="281.2" y="403.06" width="12.27" height="14.68" fill="#f9e69a" stroke="none" stroke-width="1"/>
<rect x="293.47" y="403.06" width="12.27" height="14.68" fill="#f9f1a2" stroke="none" stroke-width="1"/>
<rect x="305.73" y="403.06" width="12.27" height="14.68" fill="#f8f3a6" stroke="none" stroke-width="1"/>
<rect x="318" y="403.06" width="12.27" height="14.68" fill="#f4f0a7" stroke="none" stroke-width="1"/>
<rect x="330.27" y="403.06" width="12.27" height="14.68" fill="#efeea8" stroke="none" stroke-width="1"/>
<rect x="342.53" y="403.06" width="12.27" height="14.68" fill="#e5ebac" stroke="none" stroke-width="1"/>
<rect x="281.2" y="417.74" width="12.27" height="14.68" fill="#f9f1a2" stroke="none" stroke-width="1"/>
<rect x="293.47" y="417.74" width="12.27" height="14.68" fill="#f9f1a2" stroke="none" stroke-width="1"/>
<rect x="305.73" y="417.74" width="12.27" height="14.68" fill="#f9f1a2" stroke="none" stroke-width="1"/>
<rect x="318" y="417.74" width="12.27" height="14.68" fill="#f9f1a2" stroke="none" stroke-width="1"/>
<rect x="330.27" y="417.74" width="12.27" height="14.68" fill="#f9f1a2" stroke="none" stroke-width="1"/>
<rect x="342.53" y="417.74" width="12.27" height="14.68" fill="#c5dbb6" stroke="none" stroke-width="1"/>
<rect x="281.2" y="432.42" width="12.27" height="14.68" fill="#f9f1a2" stroke="none" stroke-width="1"/>
<rect x="293.47" y="432.42" width="12.27" height="14.68" fill="#f9f1a2" stroke="none" stroke-width="1"/>
<rect x="305.73" y="432.42" width="12.27" height="14.68" fill="#f9f1a2" stroke="none" stroke-width="1"/>
<rect x="318" y="432.42" width="12.27" height="14.68" fill="#f9f1a2" stroke="none" stroke-width="1"/>
<rect x="330.27" y="432.42" width="12.27" height="14.68" fill="#f8f3a6" stroke="none" stroke-width="1"/>
<rect x="342.53" y="432.42" width="12.27" height="14.68" fill="#d4e3b2" stroke="none" stroke-width="1"/>
<line x1="293.47" y1="373.7" x2="293.47" y2="447.1" stroke="#ffffff" stroke-width="0.9" stroke-opacity="0.6"/>
<line x1="305.73" y1="373.7" x2="305.73" y2="447.1" stroke="#ffffff" stroke-width="0.9" stroke-opacity="0.6"/>
<line x1="318" y1="373.7" x2="318" y2="447.1" stroke="#ffffff" stroke-width="0.9" stroke-opacity="0.6"/>
<line x1="330.27" y1="373.7" x2="330.27" y2="447.1" stroke="#ffffff" stroke-width="0.9" stroke-opacity="0.6"/>
<line x1="342.53" y1="373.7" x2="342.53" y2="447.1" stroke="#ffffff" stroke-width="0.9" stroke-opacity="0.6"/>
<line x1="281.2" y1="388.38" x2="354.8" y2="388.38" stroke="#ffffff" stroke-width="0.9" stroke-opacity="0.6"/>
<line x1="281.2" y1="403.06" x2="354.8" y2="403.06" stroke="#ffffff" stroke-width="0.9" stroke-opacity="0.6"/>
<line x1="281.2" y1="417.74" x2="354.8" y2="417.74" stroke="#ffffff" stroke-width="0.9" stroke-opacity="0.6"/>
<line x1="281.2" y1="432.42" x2="354.8" y2="432.42" stroke="#ffffff" stroke-width="0.9" stroke-opacity="0.6"/>
<rect x="281.2" y="373.7" width="73.6" height="73.4" fill="none" stroke="#8e8c7c" stroke-width="1"/>
<text x="287.33" y="383.04" font-size="5.6" text-anchor="middle" fill="#2a2a2a" stroke="#2a2a2a" stroke-width="0.1">1</text>
<text x="299.6" y="383.04" font-size="5.6" text-anchor="middle" fill="#2a2a2a" stroke="#2a2a2a" stroke-width="0.1">1</text>
<text x="311.87" y="383.04" font-size="5.6" text-anchor="middle" fill="#2a2a2a" stroke="#2a2a2a" stroke-width="0.1">1</text>
<text x="324.13" y="383.04" font-size="5.6" text-anchor="middle" fill="#2a2a2a" stroke="#2a2a2a" stroke-width="0.1">1</text>
<text x="336.4" y="383.04" font-size="5.6" text-anchor="middle" fill="#2a2a2a" stroke="#2a2a2a" stroke-width="0.1">1</text>
<text x="348.67" y="383.04" font-size="5.6" text-anchor="middle" fill="#2a2a2a" stroke="#2a2a2a" stroke-width="0.1">1</text>
<text x="287.33" y="397.72" font-size="5.6" text-anchor="middle" fill="#2a2a2a" stroke="#2a2a2a" stroke-width="0.1">-1</text>
<text x="299.6" y="397.72" font-size="5.6" text-anchor="middle" fill="#2a2a2a" stroke="#2a2a2a" stroke-width="0.1">-1</text>
<text x="311.87" y="397.72" font-size="5.6" text-anchor="middle" fill="#2a2a2a" stroke="#2a2a2a" stroke-width="0.1">-1</text>
<text x="324.13" y="397.72" font-size="5.6" text-anchor="middle" fill="#2a2a2a" stroke="#2a2a2a" stroke-width="0.1">-1</text>
<text x="336.4" y="397.72" font-size="5.6" text-anchor="middle" fill="#2a2a2a" stroke="#2a2a2a" stroke-width="0.1">-1</text>
<text x="348.67" y="397.72" font-size="5.6" text-anchor="middle" fill="#2a2a2a" stroke="#2a2a2a" stroke-width="0.1">-1</text>
<text x="287.33" y="412.4" font-size="5.6" text-anchor="middle" fill="#2a2a2a" stroke="#2a2a2a" stroke-width="0.1">-2</text>
<text x="299.6" y="412.4" font-size="5.6" text-anchor="middle" fill="#2a2a2a" stroke="#2a2a2a" stroke-width="0.1">-1</text>
<text x="311.87" y="412.4" font-size="5.6" text-anchor="middle" fill="#2a2a2a" stroke="#2a2a2a" stroke-width="0.1">0</text>
<text x="324.13" y="412.4" font-size="5.6" text-anchor="middle" fill="#2a2a2a" stroke="#2a2a2a" stroke-width="0.1">1</text>
<text x="336.4" y="412.4" font-size="5.6" text-anchor="middle" fill="#2a2a2a" stroke="#2a2a2a" stroke-width="0.1">2</text>
<text x="348.67" y="412.4" font-size="5.6" text-anchor="middle" fill="#2a2a2a" stroke="#2a2a2a" stroke-width="0.1">3</text>
<text x="287.33" y="427.08" font-size="5.6" text-anchor="middle" fill="#2a2a2a" stroke="#2a2a2a" stroke-width="0.1">-1</text>
<text x="299.6" y="427.08" font-size="5.6" text-anchor="middle" fill="#2a2a2a" stroke="#2a2a2a" stroke-width="0.1">-1</text>
<text x="311.87" y="427.08" font-size="5.6" text-anchor="middle" fill="#2a2a2a" stroke="#2a2a2a" stroke-width="0.1">-1</text>
<text x="324.13" y="427.08" font-size="5.6" text-anchor="middle" fill="#2a2a2a" stroke="#2a2a2a" stroke-width="0.1">-1</text>
<text x="336.4" y="427.08" font-size="5.6" text-anchor="middle" fill="#2a2a2a" stroke="#2a2a2a" stroke-width="0.1">-1</text>
<text x="348.67" y="427.08" font-size="5.6" text-anchor="middle" fill="#2a2a2a" stroke="#2a2a2a" stroke-width="0.1">7</text>
<text x="287.33" y="441.76" font-size="5.6" text-anchor="middle" fill="#2a2a2a" stroke="#2a2a2a" stroke-width="0.1">-1</text>
<text x="299.6" y="441.76" font-size="5.6" text-anchor="middle" fill="#2a2a2a" stroke="#2a2a2a" stroke-width="0.1">-1</text>
<text x="311.87" y="441.76" font-size="5.6" text-anchor="middle" fill="#2a2a2a" stroke="#2a2a2a" stroke-width="0.1">-1</text>
<text x="324.13" y="441.76" font-size="5.6" text-anchor="middle" fill="#2a2a2a" stroke="#2a2a2a" stroke-width="0.1">-1</text>
<text x="336.4" y="441.76" font-size="5.6" text-anchor="middle" fill="#2a2a2a" stroke="#2a2a2a" stroke-width="0.1">0</text>
<text x="348.67" y="441.76" font-size="5.6" text-anchor="middle" fill="#2a2a2a" stroke="#2a2a2a" stroke-width="0.1">5</text>
<line x1="277.6" y1="381.04" x2="281.2" y2="381.04" stroke="#444" stroke-width="0.8"/>
<text x="276.9" y="383.54" font-size="7" text-anchor="end" fill="#3c3c3c" stroke="#3c3c3c" stroke-width="0.16">3</text>
<line x1="277.6" y1="395.72" x2="281.2" y2="395.72" stroke="#444" stroke-width="0.8"/>
<text x="276.9" y="398.22" font-size="7" text-anchor="end" fill="#3c3c3c" stroke="#3c3c3c" stroke-width="0.16">1</text>
<line x1="277.6" y1="410.4" x2="281.2" y2="410.4" stroke="#444" stroke-width="0.8"/>
<text x="276.9" y="412.9" font-size="7" text-anchor="end" fill="#3c3c3c" stroke="#3c3c3c" stroke-width="0.16">0.3</text>
<line x1="277.6" y1="425.08" x2="281.2" y2="425.08" stroke="#444" stroke-width="0.8"/>
<text x="276.9" y="427.58" font-size="7" text-anchor="end" fill="#3c3c3c" stroke="#3c3c3c" stroke-width="0.16">0.1</text>
<line x1="277.6" y1="439.76" x2="281.2" y2="439.76" stroke="#444" stroke-width="0.8"/>
<text x="276.9" y="442.26" font-size="7" text-anchor="end" fill="#3c3c3c" stroke="#3c3c3c" stroke-width="0.16">0.03</text>
<line x1="287.33" y1="447.1" x2="287.33" y2="450.3" stroke="#444" stroke-width="0.8"/>
<text x="289.83" y="452.1" font-size="7" text-anchor="end" fill="#3c3c3c" transform="rotate(-90 289.83 452.1)" stroke="#3c3c3c" stroke-width="0.16">0.03</text>
<line x1="299.6" y1="447.1" x2="299.6" y2="450.3" stroke="#444" stroke-width="0.8"/>
<text x="302.1" y="452.1" font-size="7" text-anchor="end" fill="#3c3c3c" transform="rotate(-90 302.1 452.1)" stroke="#3c3c3c" stroke-width="0.16">0.1</text>
<line x1="311.87" y1="447.1" x2="311.87" y2="450.3" stroke="#444" stroke-width="0.8"/>
<text x="314.37" y="452.1" font-size="7" text-anchor="end" fill="#3c3c3c" transform="rotate(-90 314.37 452.1)" stroke="#3c3c3c" stroke-width="0.16">0.3</text>
<line x1="324.13" y1="447.1" x2="324.13" y2="450.3" stroke="#444" stroke-width="0.8"/>
<text x="326.63" y="452.1" font-size="7" text-anchor="end" fill="#3c3c3c" transform="rotate(-90 326.63 452.1)" stroke="#3c3c3c" stroke-width="0.16">1</text>
<line x1="336.4" y1="447.1" x2="336.4" y2="450.3" stroke="#444" stroke-width="0.8"/>
<text x="338.9" y="452.1" font-size="7" text-anchor="end" fill="#3c3c3c" transform="rotate(-90 338.9 452.1)" stroke="#3c3c3c" stroke-width="0.16">3</text>
<line x1="348.67" y1="447.1" x2="348.67" y2="450.3" stroke="#444" stroke-width="0.8"/>
<text x="351.17" y="452.1" font-size="7" text-anchor="end" fill="#3c3c3c" transform="rotate(-90 351.17 452.1)" stroke="#3c3c3c" stroke-width="0.16">10</text>
<text x="285.1" y="476.7" font-size="8.85" text-anchor="start" fill="#222" font-weight="bold" stroke="#222" stroke-width="0.12">VX-984 (µmol/L)</text>
<rect x="382.2" y="373.7" width="12.23" height="14.68" fill="#f8f3a6" stroke="none" stroke-width="1"/>
<rect x="394.43" y="373.7" width="12.23" height="14.68" fill="#f8f3a6" stroke="none" stroke-width="1"/>
<rect x="406.67" y="373.7" width="12.23" height="14.68" fill="#f8f3a6" stroke="none" stroke-width="1"/>
<rect x="418.9" y="373.7" width="12.23" height="14.68" fill="#f8f3a6" stroke="none" stroke-width="1"/>
<rect x="431.13" y="373.7" width="12.23" height="14.68" fill="#f8f3a6" stroke="none" stroke-width="1"/>
<rect x="443.37" y="373.7" width="12.23" height="14.68" fill="#f8f3a6" stroke="none" stroke-width="1"/>
<rect x="382.2" y="388.38" width="12.23" height="14.68" fill="#f8f3a6" stroke="none" stroke-width="1"/>
<rect x="394.43" y="388.38" width="12.23" height="14.68" fill="#f8f3a6" stroke="none" stroke-width="1"/>
<rect x="406.67" y="388.38" width="12.23" height="14.68" fill="#f8f3a6" stroke="none" stroke-width="1"/>
<rect x="418.9" y="388.38" width="12.23" height="14.68" fill="#f8f3a6" stroke="none" stroke-width="1"/>
<rect x="431.13" y="388.38" width="12.23" height="14.68" fill="#f8f3a6" stroke="none" stroke-width="1"/>
<rect x="443.37" y="388.38" width="12.23" height="14.68" fill="#f8f3a6" stroke="none" stroke-width="1"/>
<rect x="382.2" y="403.06" width="12.23" height="14.68" fill="#f8f3a6" stroke="none" stroke-width="1"/>
<rect x="394.43" y="403.06" width="12.23" height="14.68" fill="#f8f3a6" stroke="none" stroke-width="1"/>
<rect x="406.67" y="403.06" width="12.23" height="14.68" fill="#f8f3a6" stroke="none" stroke-width="1"/>
<rect x="418.9" y="403.06" width="12.23" height="14.68" fill="#f8f3a6" stroke="none" stroke-width="1"/>
<rect x="431.13" y="403.06" width="12.23" height="14.68" fill="#f8f3a6" stroke="none" stroke-width="1"/>
<rect x="443.37" y="403.06" width="12.23" height="14.68" fill="#f8f3a6" stroke="none" stroke-width="1"/>
<rect x="382.2" y="417.74" width="12.23" height="14.68" fill="#f9e69a" stroke="none" stroke-width="1"/>
<rect x="394.43" y="417.74" width="12.23" height="14.68" fill="#f8f3a6" stroke="none" stroke-width="1"/>
<rect x="406.67" y="417.74" width="12.23" height="14.68" fill="#e6ebac" stroke="none" stroke-width="1"/>
<rect x="418.9" y="417.74" width="12.23" height="14.68" fill="#cfe0b3" stroke="none" stroke-width="1"/>
<rect x="431.13" y="417.74" width="12.23" height="14.68" fill="#bed8bc" stroke="none" stroke-width="1"/>
<rect x="443.37" y="417.74" width="12.23" height="14.68" fill="#a6ccca" stroke="none" stroke-width="1"/>
<rect x="382.2" y="432.42" width="12.23" height="14.68" fill="#f6a070" stroke="none" stroke-width="1"/>
<rect x="394.43" y="432.42" width="12.23" height="14.68" fill="#f6a070" stroke="none" stroke-width="1"/>
<rect x="406.67" y="432.42" width="12.23" height="14.68" fill="#f6a070" stroke="none" stroke-width="1"/>
<rect x="418.9" y="432.42" width="12.23" height="14.68" fill="#f6a070" stroke="none" stroke-width="1"/>
<rect x="431.13" y="432.42" width="12.23" height="14.68" fill="#f6a070" stroke="none" stroke-width="1"/>
<rect x="443.37" y="432.42" width="12.23" height="14.68" fill="#a2cacc" stroke="none" stroke-width="1"/>
<line x1="394.43" y1="373.7" x2="394.43" y2="447.1" stroke="#ffffff" stroke-width="0.9" stroke-opacity="0.6"/>
<line x1="406.67" y1="373.7" x2="406.67" y2="447.1" stroke="#ffffff" stroke-width="0.9" stroke-opacity="0.6"/>
<line x1="418.9" y1="373.7" x2="418.9" y2="447.1" stroke="#ffffff" stroke-width="0.9" stroke-opacity="0.6"/>
<line x1="431.13" y1="373.7" x2="431.13" y2="447.1" stroke="#ffffff" stroke-width="0.9" stroke-opacity="0.6"/>
<line x1="443.37" y1="373.7" x2="443.37" y2="447.1" stroke="#ffffff" stroke-width="0.9" stroke-opacity="0.6"/>
<line x1="382.2" y1="388.38" x2="455.6" y2="388.38" stroke="#ffffff" stroke-width="0.9" stroke-opacity="0.6"/>
<line x1="382.2" y1="403.06" x2="455.6" y2="403.06" stroke="#ffffff" stroke-width="0.9" stroke-opacity="0.6"/>
<line x1="382.2" y1="417.74" x2="455.6" y2="417.74" stroke="#ffffff" stroke-width="0.9" stroke-opacity="0.6"/>
<line x1="382.2" y1="432.42" x2="455.6" y2="432.42" stroke="#ffffff" stroke-width="0.9" stroke-opacity="0.6"/>
<rect x="382.2" y="373.7" width="73.4" height="73.4" fill="none" stroke="#8e8c7c" stroke-width="1"/>
<text x="388.32" y="383.04" font-size="5.6" text-anchor="middle" fill="#2a2a2a" stroke="#2a2a2a" stroke-width="0.1">0</text>
<text x="400.55" y="383.04" font-size="5.6" text-anchor="middle" fill="#2a2a2a" stroke="#2a2a2a" stroke-width="0.1">0</text>
<text x="412.78" y="383.04" font-size="5.6" text-anchor="middle" fill="#2a2a2a" stroke="#2a2a2a" stroke-width="0.1">0</text>
<text x="425.02" y="383.04" font-size="5.6" text-anchor="middle" fill="#2a2a2a" stroke="#2a2a2a" stroke-width="0.1">0</text>
<text x="437.25" y="383.04" font-size="5.6" text-anchor="middle" fill="#2a2a2a" stroke="#2a2a2a" stroke-width="0.1">0</text>
<text x="449.48" y="383.04" font-size="5.6" text-anchor="middle" fill="#2a2a2a" stroke="#2a2a2a" stroke-width="0.1">0</text>
<text x="388.32" y="397.72" font-size="5.6" text-anchor="middle" fill="#2a2a2a" stroke="#2a2a2a" stroke-width="0.1">0</text>
<text x="400.55" y="397.72" font-size="5.6" text-anchor="middle" fill="#2a2a2a" stroke="#2a2a2a" stroke-width="0.1">0</text>
<text x="412.78" y="397.72" font-size="5.6" text-anchor="middle" fill="#2a2a2a" stroke="#2a2a2a" stroke-width="0.1">0</text>
<text x="425.02" y="397.72" font-size="5.6" text-anchor="middle" fill="#2a2a2a" stroke="#2a2a2a" stroke-width="0.1">0</text>
<text x="437.25" y="397.72" font-size="5.6" text-anchor="middle" fill="#2a2a2a" stroke="#2a2a2a" stroke-width="0.1">0</text>
<text x="449.48" y="397.72" font-size="5.6" text-anchor="middle" fill="#2a2a2a" stroke="#2a2a2a" stroke-width="0.1">0</text>
<text x="388.32" y="412.4" font-size="5.6" text-anchor="middle" fill="#2a2a2a" stroke="#2a2a2a" stroke-width="0.1">0</text>
<text x="400.55" y="412.4" font-size="5.6" text-anchor="middle" fill="#2a2a2a" stroke="#2a2a2a" stroke-width="0.1">0</text>
<text x="412.78" y="412.4" font-size="5.6" text-anchor="middle" fill="#2a2a2a" stroke="#2a2a2a" stroke-width="0.1">0</text>
<text x="425.02" y="412.4" font-size="5.6" text-anchor="middle" fill="#2a2a2a" stroke="#2a2a2a" stroke-width="0.1">0</text>
<text x="437.25" y="412.4" font-size="5.6" text-anchor="middle" fill="#2a2a2a" stroke="#2a2a2a" stroke-width="0.1">0</text>
<text x="449.48" y="412.4" font-size="5.6" text-anchor="middle" fill="#2a2a2a" stroke="#2a2a2a" stroke-width="0.1">0</text>
<text x="388.32" y="427.08" font-size="5.6" text-anchor="middle" fill="#2a2a2a" stroke="#2a2a2a" stroke-width="0.1">-2</text>
<text x="400.55" y="427.08" font-size="5.6" text-anchor="middle" fill="#2a2a2a" stroke="#2a2a2a" stroke-width="0.1">0</text>
<text x="412.78" y="427.08" font-size="5.6" text-anchor="middle" fill="#2a2a2a" stroke="#2a2a2a" stroke-width="0.1">3</text>
<text x="425.02" y="427.08" font-size="5.6" text-anchor="middle" fill="#2a2a2a" stroke="#2a2a2a" stroke-width="0.1">6</text>
<text x="437.25" y="427.08" font-size="5.6" text-anchor="middle" fill="#2a2a2a" stroke="#2a2a2a" stroke-width="0.1">8</text>
<text x="449.48" y="427.08" font-size="5.6" text-anchor="middle" fill="#2a2a2a" stroke="#2a2a2a" stroke-width="0.1">12</text>
<text x="388.32" y="441.76" font-size="5.6" text-anchor="middle" fill="#2a2a2a" stroke="#2a2a2a" stroke-width="0.1">-11</text>
<text x="400.55" y="441.76" font-size="5.6" text-anchor="middle" fill="#2a2a2a" stroke="#2a2a2a" stroke-width="0.1">-11</text>
<text x="412.78" y="441.76" font-size="5.6" text-anchor="middle" fill="#2a2a2a" stroke="#2a2a2a" stroke-width="0.1">-11</text>
<text x="425.02" y="441.76" font-size="5.6" text-anchor="middle" fill="#2a2a2a" stroke="#2a2a2a" stroke-width="0.1">-11</text>
<text x="437.25" y="441.76" font-size="5.6" text-anchor="middle" fill="#2a2a2a" stroke="#2a2a2a" stroke-width="0.1">-11</text>
<text x="449.48" y="441.76" font-size="5.6" text-anchor="middle" fill="#2a2a2a" stroke="#2a2a2a" stroke-width="0.1">13</text>
<line x1="378.6" y1="381.04" x2="382.2" y2="381.04" stroke="#444" stroke-width="0.8"/>
<text x="377.9" y="383.54" font-size="7" text-anchor="end" fill="#3c3c3c" stroke="#3c3c3c" stroke-width="0.16">3</text>
<line x1="378.6" y1="395.72" x2="382.2" y2="395.72" stroke="#444" stroke-width="0.8"/>
<text x="377.9" y="398.22" font-size="7" text-anchor="end" fill="#3c3c3c" stroke="#3c3c3c" stroke-width="0.16">1</text>
<line x1="378.6" y1="410.4" x2="382.2" y2="410.4" stroke="#444" stroke-width="0.8"/>
<text x="377.9" y="412.9" font-size="7" text-anchor="end" fill="#3c3c3c" stroke="#3c3c3c" stroke-width="0.16">0.3</text>
<line x1="378.6" y1="425.08" x2="382.2" y2="425.08" stroke="#444" stroke-width="0.8"/>
<text x="377.9" y="427.58" font-size="7" text-anchor="end" fill="#3c3c3c" stroke="#3c3c3c" stroke-width="0.16">0.1</text>
<line x1="378.6" y1="439.76" x2="382.2" y2="439.76" stroke="#444" stroke-width="0.8"/>
<text x="377.9" y="442.26" font-size="7" text-anchor="end" fill="#3c3c3c" stroke="#3c3c3c" stroke-width="0.16">0.03</text>
<line x1="388.32" y1="447.1" x2="388.32" y2="450.3" stroke="#444" stroke-width="0.8"/>
<text x="390.82" y="452.1" font-size="7" text-anchor="end" fill="#3c3c3c" transform="rotate(-90 390.82 452.1)" stroke="#3c3c3c" stroke-width="0.16">0.03</text>
<line x1="400.55" y1="447.1" x2="400.55" y2="450.3" stroke="#444" stroke-width="0.8"/>
<text x="403.05" y="452.1" font-size="7" text-anchor="end" fill="#3c3c3c" transform="rotate(-90 403.05 452.1)" stroke="#3c3c3c" stroke-width="0.16">0.1</text>
<line x1="412.78" y1="447.1" x2="412.78" y2="450.3" stroke="#444" stroke-width="0.8"/>
<text x="415.28" y="452.1" font-size="7" text-anchor="end" fill="#3c3c3c" transform="rotate(-90 415.28 452.1)" stroke="#3c3c3c" stroke-width="0.16">0.3</text>
<line x1="425.02" y1="447.1" x2="425.02" y2="450.3" stroke="#444" stroke-width="0.8"/>
<text x="427.52" y="452.1" font-size="7" text-anchor="end" fill="#3c3c3c" transform="rotate(-90 427.52 452.1)" stroke="#3c3c3c" stroke-width="0.16">1</text>
<line x1="437.25" y1="447.1" x2="437.25" y2="450.3" stroke="#444" stroke-width="0.8"/>
<text x="439.75" y="452.1" font-size="7" text-anchor="end" fill="#3c3c3c" transform="rotate(-90 439.75 452.1)" stroke="#3c3c3c" stroke-width="0.16">3</text>
<line x1="449.48" y1="447.1" x2="449.48" y2="450.3" stroke="#444" stroke-width="0.8"/>
<text x="451.98" y="452.1" font-size="7" text-anchor="end" fill="#3c3c3c" transform="rotate(-90 451.98 452.1)" stroke="#3c3c3c" stroke-width="0.16">10</text>
<text x="385.4" y="476.7" font-size="8.85" text-anchor="start" fill="#222" font-weight="bold" stroke="#222" stroke-width="0.12">VX-984 (µmol/L)</text>
<defs><linearGradient id="g2" x1="0" y1="0" x2="0" y2="1"><stop offset="0" stop-color="#4a80cc"/><stop offset="0.18" stop-color="#78acdc"/><stop offset="0.36" stop-color="#b0d2c8"/><stop offset="0.5" stop-color="#f8f2a8"/><stop offset="0.66" stop-color="#f8cc84"/><stop offset="0.82" stop-color="#f49868"/><stop offset="1" stop-color="#e83c3c"/></linearGradient></defs>
<rect x="458.1" y="373.5" width="6" height="55.1" fill="url(#g2)" stroke="#a0a0a0" stroke-width="0.8"/>
<line x1="463.6" y1="401.05" x2="465.6" y2="401.05" stroke="#666" stroke-width="0.6"/>
<text x="466" y="375.5" font-size="6" text-anchor="start" fill="#222" stroke="#222" stroke-width="0.16">Synergy</text>
<text x="466" y="403.15" font-size="6" text-anchor="start" fill="#222" stroke="#222" stroke-width="0.16">Additive</text>
<text x="466" y="429.2" font-size="6" text-anchor="start" fill="#222" stroke="#222" stroke-width="0.16">Antagonism</text>
</svg>
</body></html>
